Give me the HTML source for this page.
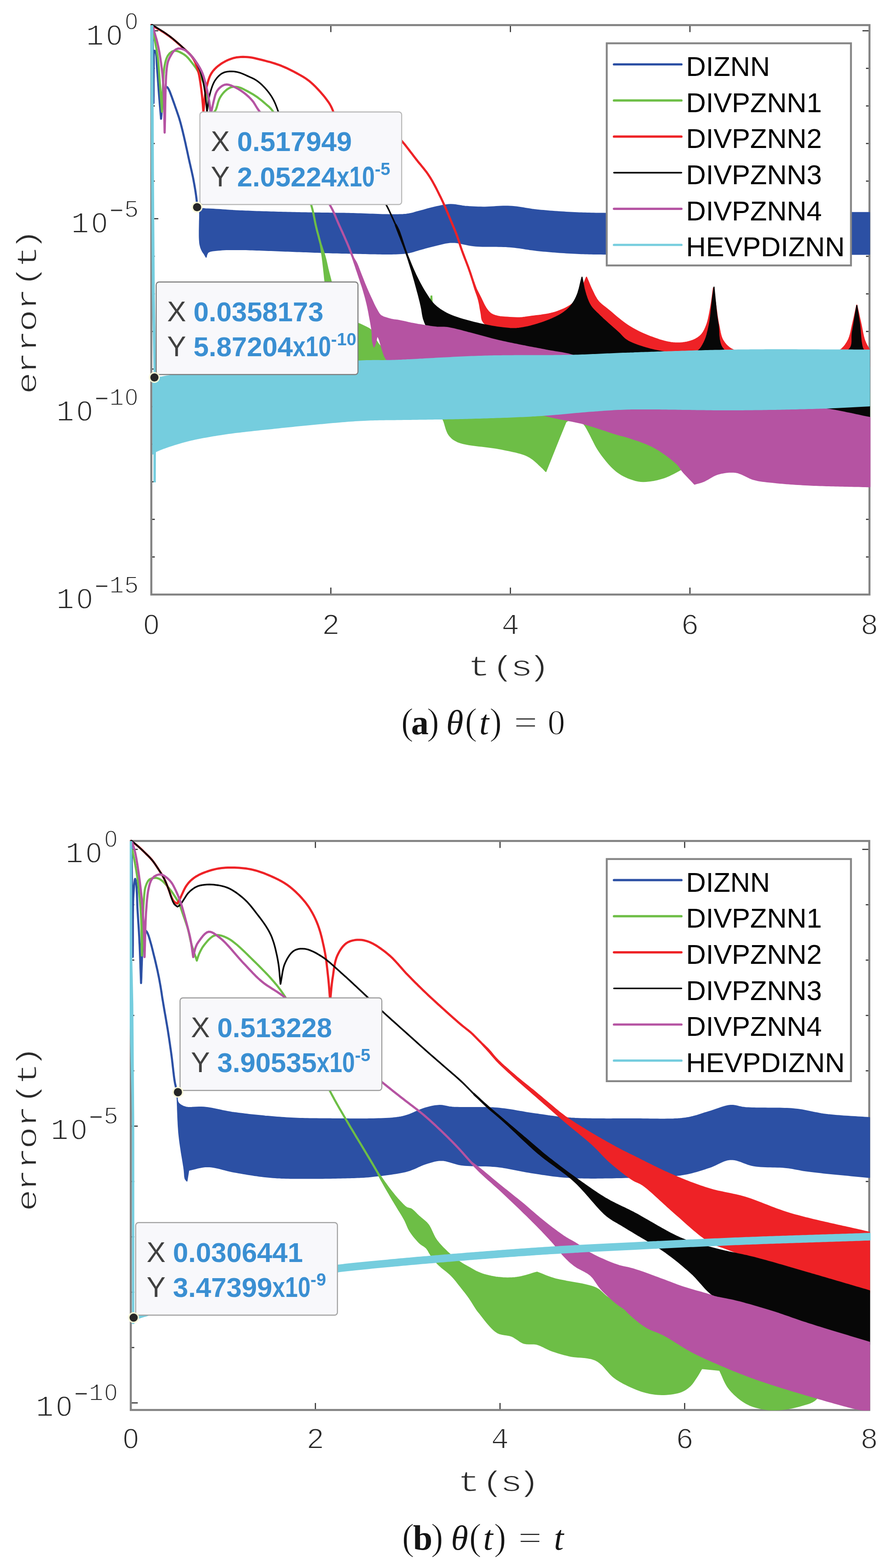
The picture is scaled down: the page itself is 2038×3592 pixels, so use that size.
<!DOCTYPE html>
<html><head><meta charset="utf-8"><title>error(t) plots</title>
<style>html,body{margin:0;padding:0;background:#fff;}svg{display:block;}</style></head>
<body>
<svg xmlns="http://www.w3.org/2000/svg" width="2038" height="3592" viewBox="0 0 2038 3592">
<rect width="2038" height="3592" fill="#ffffff"/>
<line x1="346.5" y1="70.5" x2="362.5" y2="70.5" stroke="#333333" stroke-width="2.6"/>
<line x1="1991.0" y1="70.5" x2="1975.0" y2="70.5" stroke="#333333" stroke-width="2.6"/>
<line x1="346.5" y1="501.0" x2="362.5" y2="501.0" stroke="#333333" stroke-width="2.6"/>
<line x1="1991.0" y1="501.0" x2="1975.0" y2="501.0" stroke="#333333" stroke-width="2.6"/>
<line x1="346.5" y1="931.5" x2="362.5" y2="931.5" stroke="#333333" stroke-width="2.6"/>
<line x1="1991.0" y1="931.5" x2="1975.0" y2="931.5" stroke="#333333" stroke-width="2.6"/>
<line x1="346.5" y1="1362.0" x2="362.5" y2="1362.0" stroke="#333333" stroke-width="2.6"/>
<line x1="1991.0" y1="1362.0" x2="1975.0" y2="1362.0" stroke="#333333" stroke-width="2.6"/>
<line x1="346.5" y1="156.6" x2="354.5" y2="156.6" stroke="#333333" stroke-width="2.6"/>
<line x1="1991.0" y1="156.6" x2="1983.0" y2="156.6" stroke="#333333" stroke-width="2.6"/>
<line x1="346.5" y1="242.7" x2="354.5" y2="242.7" stroke="#333333" stroke-width="2.6"/>
<line x1="1991.0" y1="242.7" x2="1983.0" y2="242.7" stroke="#333333" stroke-width="2.6"/>
<line x1="346.5" y1="328.8" x2="354.5" y2="328.8" stroke="#333333" stroke-width="2.6"/>
<line x1="1991.0" y1="328.8" x2="1983.0" y2="328.8" stroke="#333333" stroke-width="2.6"/>
<line x1="346.5" y1="414.9" x2="354.5" y2="414.9" stroke="#333333" stroke-width="2.6"/>
<line x1="1991.0" y1="414.9" x2="1983.0" y2="414.9" stroke="#333333" stroke-width="2.6"/>
<line x1="346.5" y1="587.1" x2="354.5" y2="587.1" stroke="#333333" stroke-width="2.6"/>
<line x1="1991.0" y1="587.1" x2="1983.0" y2="587.1" stroke="#333333" stroke-width="2.6"/>
<line x1="346.5" y1="673.2" x2="354.5" y2="673.2" stroke="#333333" stroke-width="2.6"/>
<line x1="1991.0" y1="673.2" x2="1983.0" y2="673.2" stroke="#333333" stroke-width="2.6"/>
<line x1="346.5" y1="759.3" x2="354.5" y2="759.3" stroke="#333333" stroke-width="2.6"/>
<line x1="1991.0" y1="759.3" x2="1983.0" y2="759.3" stroke="#333333" stroke-width="2.6"/>
<line x1="346.5" y1="845.4" x2="354.5" y2="845.4" stroke="#333333" stroke-width="2.6"/>
<line x1="1991.0" y1="845.4" x2="1983.0" y2="845.4" stroke="#333333" stroke-width="2.6"/>
<line x1="346.5" y1="1017.6" x2="354.5" y2="1017.6" stroke="#333333" stroke-width="2.6"/>
<line x1="1991.0" y1="1017.6" x2="1983.0" y2="1017.6" stroke="#333333" stroke-width="2.6"/>
<line x1="346.5" y1="1103.7" x2="354.5" y2="1103.7" stroke="#333333" stroke-width="2.6"/>
<line x1="1991.0" y1="1103.7" x2="1983.0" y2="1103.7" stroke="#333333" stroke-width="2.6"/>
<line x1="346.5" y1="1189.8" x2="354.5" y2="1189.8" stroke="#333333" stroke-width="2.6"/>
<line x1="1991.0" y1="1189.8" x2="1983.0" y2="1189.8" stroke="#333333" stroke-width="2.6"/>
<line x1="346.5" y1="1275.9" x2="354.5" y2="1275.9" stroke="#333333" stroke-width="2.6"/>
<line x1="1991.0" y1="1275.9" x2="1983.0" y2="1275.9" stroke="#333333" stroke-width="2.6"/>
<line x1="757.6" y1="1362.0" x2="757.6" y2="1346.0" stroke="#333333" stroke-width="2.6"/>
<line x1="757.6" y1="57.5" x2="757.6" y2="73.5" stroke="#333333" stroke-width="2.6"/>
<line x1="1168.8" y1="1362.0" x2="1168.8" y2="1346.0" stroke="#333333" stroke-width="2.6"/>
<line x1="1168.8" y1="57.5" x2="1168.8" y2="73.5" stroke="#333333" stroke-width="2.6"/>
<line x1="1579.9" y1="1362.0" x2="1579.9" y2="1346.0" stroke="#333333" stroke-width="2.6"/>
<line x1="1579.9" y1="57.5" x2="1579.9" y2="73.5" stroke="#333333" stroke-width="2.6"/>
<rect x="346.5" y="57.5" width="1644.5" height="1304.5" fill="none" stroke="#828282" stroke-width="4.6"/>
<clipPath id="ca"><rect x="343.0" y="54.5" width="1651.0" height="1310.5"/></clipPath>
<g id="plot-a" clip-path="url(#ca)">
<polyline points="349.0,58.0 349.1,63.1 349.2,68.2 349.3,73.4 349.3,78.5 349.4,83.6 349.5,88.8 349.6,93.9 349.7,99.1 349.8,104.2 349.9,109.3 350.0,114.4 350.0,119.6 350.1,124.7 350.2,129.8 350.3,134.8 350.4,139.9 350.4,145.0 350.5,150.0 350.6,155.1 350.6,160.3 350.7,165.3 350.8,170.4 350.8,175.5 350.9,180.6 350.9,185.6 351.0,190.7 351.1,195.7 351.1,200.7 351.2,205.8 351.2,210.8 351.3,215.8 351.3,220.9 351.4,225.9 351.4,230.9 351.5,236.0 351.5,230.9 351.5,225.6 351.6,220.3 351.6,214.9 351.6,209.5 351.6,204.1 351.6,198.6 351.6,193.2 351.6,187.9 351.6,182.6 351.7,177.4 351.7,172.4 351.7,167.5 351.8,162.8 351.8,158.3 351.9,154.0 352.0,150.0 352.1,142.8 352.0,135.3 352.0,128.3 352.1,122.4 352.5,118.1 353.4,116.2 354.7,116.5 356.0,118.0 356.9,120.5 357.6,124.5 358.2,129.4 358.6,135.2 358.9,141.4 359.2,147.8 359.6,154.1 360.0,160.0 360.4,164.7 360.8,169.5 361.1,174.4 361.5,179.4 361.8,184.4 362.2,189.5 362.5,194.6 362.9,199.7 363.2,204.8 363.6,209.9 364.0,215.0 364.4,220.1 364.8,225.3 365.3,230.5 365.7,235.7 366.1,240.8 366.6,246.0 367.0,251.2 367.5,256.4 367.9,261.6 368.4,266.8 368.8,272.0 369.3,266.7 369.8,261.3 370.3,255.9 370.9,250.6 371.4,245.3 372.0,240.0 372.6,234.8 373.1,229.4 373.6,224.0 374.3,218.8 375.0,214.1 376.0,210.0 378.4,202.7 381.2,198.7 383.6,200.4 386.0,204.0 388.8,209.9 391.5,217.2 393.1,221.3 394.7,225.9 396.5,230.8 398.3,235.9 400.1,241.0 401.8,246.0 403.6,251.0 405.3,256.1 407.0,261.1 408.8,266.3 410.5,271.5 412.1,277.0 413.5,281.8 414.8,286.8 416.1,291.9 417.4,297.1 418.7,302.4 419.9,307.7 421.2,312.9 422.4,318.2 423.6,323.6 424.9,329.0 426.0,334.4 427.2,339.8 428.4,345.3 429.6,350.8 430.8,356.4 432.0,362.0 433.1,366.9 434.2,371.9 435.4,377.0 436.5,382.1 437.7,387.3 438.9,392.4 440.0,397.5 441.1,402.5 442.1,407.3 443.0,412.0 444.0,417.5 445.0,422.9 445.9,428.1 446.8,433.3 447.6,438.3 448.3,443.2 449.0,448.0 449.7,453.5 450.3,458.7 450.9,463.8 451.4,468.9 452.0,474.0" fill="none" stroke="#2c50a4" stroke-width="4.8" stroke-linejoin="round" stroke-linecap="round"/>
<polygon points="452.0,474.0 454.3,475.5 457.4,476.8 460.7,477.5 465.1,478.0 470.3,478.5 476.0,478.8 482.1,479.1 488.3,479.4 494.3,479.7 500.0,480.0 504.9,480.4 509.7,480.7 514.4,481.0 519.1,481.4 523.9,481.7 528.9,482.0 534.2,482.4 539.9,482.7 546.0,483.0 550.0,483.2 554.2,483.4 558.6,483.6 563.1,483.8 567.9,483.9 572.7,484.1 577.7,484.3 582.8,484.5 588.0,484.7 593.3,484.8 598.7,485.0 604.1,485.2 609.6,485.4 615.1,485.5 620.7,485.7 626.2,485.9 631.8,486.0 637.4,486.2 642.9,486.3 648.4,486.5 653.8,486.6 659.2,486.7 664.5,486.9 669.7,487.0 674.8,487.1 680.0,487.2 685.1,487.3 690.2,487.5 695.3,487.5 700.5,487.6 705.6,487.7 710.7,487.8 715.8,487.9 720.9,488.0 726.0,488.1 731.1,488.1 736.2,488.2 741.4,488.3 746.5,488.3 751.6,488.4 756.8,488.5 762.0,488.6 767.1,488.6 772.3,488.7 777.6,488.8 782.8,488.8 788.0,488.9 793.3,489.0 798.3,489.1 803.5,489.2 808.7,489.4 814.1,489.5 819.6,489.7 825.1,489.9 830.7,490.1 836.4,490.3 842.0,490.5 847.7,490.7 853.4,490.9 859.1,491.1 864.7,491.3 870.2,491.5 875.7,491.7 881.1,491.8 886.4,491.9 891.6,492.0 896.6,492.1 901.5,492.1 906.2,492.1 910.7,492.0 915.0,491.9 919.1,491.8 923.0,491.6 926.6,491.3 930.0,491.0 936.3,490.1 941.6,489.1 946.3,487.9 950.7,486.6 955.1,485.3 960.0,484.0 964.8,482.7 969.7,481.4 974.7,480.0 979.7,478.5 984.7,477.2 989.7,475.9 994.8,474.7 1000.0,473.6 1005.3,472.4 1010.7,471.3 1016.1,470.3 1021.4,469.5 1026.7,468.9 1031.9,468.6 1037.4,468.8 1042.9,469.3 1048.2,470.2 1053.6,471.1 1059.1,472.0 1064.8,472.7 1069.7,473.1 1074.6,473.5 1079.5,473.8 1084.6,474.1 1089.7,474.3 1095.0,474.5 1100.4,474.6 1106.0,474.7 1110.7,474.7 1115.6,474.5 1120.6,474.3 1125.7,474.0 1130.9,473.7 1136.2,473.4 1141.5,473.1 1146.8,472.8 1152.2,472.6 1157.5,472.5 1162.7,472.5 1167.9,472.7 1173.0,473.0 1178.1,473.5 1183.2,474.1 1188.2,474.8 1193.2,475.6 1198.3,476.4 1203.3,477.2 1208.4,478.1 1213.6,478.9 1218.9,479.7 1224.2,480.4 1229.7,481.0 1234.5,481.5 1239.4,482.0 1244.4,482.4 1249.5,482.9 1254.6,483.3 1259.8,483.7 1265.0,484.1 1270.2,484.5 1275.5,484.9 1280.8,485.2 1286.0,485.5 1291.3,485.9 1296.5,486.2 1301.7,486.5 1306.9,486.7 1312.0,487.0 1317.1,487.2 1322.0,487.5 1326.7,487.7 1331.2,487.8 1335.6,488.0 1340.1,488.1 1344.6,488.3 1349.2,488.4 1354.0,488.5 1359.1,488.6 1364.4,488.7 1370.2,488.8 1376.4,488.8 1383.1,488.9 1390.4,489.0 1393.2,489.0 1396.1,489.1 1399.2,489.1 1402.4,489.1 1405.7,489.1 1409.2,489.1 1412.7,489.2 1416.4,489.2 1420.2,489.2 1424.1,489.2 1428.1,489.2 1432.2,489.2 1436.4,489.2 1440.7,489.2 1445.1,489.2 1449.6,489.2 1454.2,489.2 1458.9,489.2 1463.7,489.2 1468.6,489.2 1473.5,489.2 1478.5,489.2 1483.7,489.2 1488.8,489.2 1494.1,489.2 1499.4,489.2 1504.8,489.2 1510.3,489.2 1515.8,489.2 1521.4,489.1 1527.1,489.1 1532.8,489.1 1538.5,489.1 1544.3,489.1 1550.2,489.1 1556.1,489.0 1562.1,489.0 1568.1,489.0 1574.1,489.0 1580.1,488.9 1586.2,488.9 1592.4,488.9 1598.5,488.9 1604.7,488.8 1610.9,488.8 1617.2,488.8 1623.4,488.7 1629.7,488.7 1635.9,488.7 1642.2,488.7 1648.5,488.6 1654.8,488.6 1661.1,488.6 1667.5,488.5 1673.8,488.5 1680.1,488.5 1686.4,488.4 1692.7,488.4 1698.9,488.4 1705.2,488.3 1711.4,488.3 1717.7,488.2 1723.9,488.2 1730.1,488.2 1736.2,488.1 1742.4,488.1 1748.5,488.1 1754.5,488.0 1760.5,488.0 1766.5,488.0 1772.5,487.9 1778.4,487.9 1784.2,487.9 1790.1,487.8 1795.8,487.8 1801.5,487.8 1807.2,487.7 1812.8,487.7 1818.3,487.7 1823.8,487.6 1829.2,487.6 1834.5,487.6 1839.7,487.5 1844.9,487.5 1850.0,487.5 1855.1,487.4 1860.0,487.4 1864.9,487.4 1869.7,487.4 1874.4,487.3 1879.0,487.3 1883.5,487.3 1887.9,487.3 1892.2,487.2 1896.4,487.2 1900.5,487.2 1904.5,487.2 1908.4,487.2 1912.2,487.1 1915.9,487.1 1919.4,487.1 1922.8,487.1 1926.2,487.1 1929.3,487.1 1932.4,487.0 1935.3,487.0 1938.1,487.0 1940.8,487.0 1943.3,487.0 1945.7,487.0 1948.0,487.0 1955.7,487.0 1962.2,487.0 1967.7,487.0 1972.5,487.0 1977.0,487.0 1981.4,487.0 1986.0,487.0 1991.0,487.0 1991.0,582.5 1986.0,582.5 1981.4,582.5 1977.0,582.5 1972.5,582.5 1967.7,582.5 1962.2,582.5 1955.7,582.5 1948.0,582.5 1945.7,582.5 1943.3,582.5 1940.8,582.5 1938.1,582.5 1935.3,582.5 1932.4,582.5 1929.3,582.5 1926.1,582.5 1922.8,582.5 1919.4,582.5 1915.8,582.5 1912.2,582.5 1908.4,582.5 1904.5,582.5 1900.5,582.5 1896.4,582.5 1892.1,582.5 1887.8,582.5 1883.4,582.5 1878.9,582.6 1874.3,582.6 1869.6,582.6 1864.8,582.6 1859.9,582.6 1855.0,582.6 1849.9,582.6 1844.8,582.6 1839.6,582.6 1834.4,582.6 1829.0,582.6 1823.6,582.6 1818.2,582.6 1812.6,582.6 1807.0,582.6 1801.4,582.6 1795.7,582.6 1789.9,582.7 1784.1,582.7 1778.2,582.7 1772.3,582.7 1766.4,582.7 1760.4,582.7 1754.3,582.7 1748.3,582.7 1742.2,582.7 1736.0,582.7 1729.9,582.7 1723.7,582.7 1717.4,582.7 1711.2,582.7 1705.0,582.7 1698.7,582.7 1692.4,582.7 1686.1,582.7 1679.8,582.7 1673.5,582.7 1667.2,582.7 1660.9,582.7 1654.6,582.7 1648.2,582.7 1641.9,582.7 1635.6,582.7 1629.4,582.7 1623.1,582.7 1616.8,582.7 1610.6,582.7 1604.4,582.7 1598.2,582.7 1592.0,582.7 1585.9,582.7 1579.8,582.7 1573.7,582.7 1567.7,582.7 1561.7,582.7 1555.7,582.7 1549.8,582.7 1544.0,582.7 1538.2,582.7 1532.4,582.7 1526.7,582.7 1521.0,582.7 1515.4,582.7 1509.9,582.6 1504.4,582.6 1499.0,582.6 1493.7,582.6 1488.4,582.6 1483.2,582.6 1478.1,582.6 1473.1,582.5 1468.1,582.5 1463.3,582.5 1458.5,582.5 1453.8,582.5 1449.2,582.5 1444.7,582.4 1440.3,582.4 1436.0,582.4 1431.7,582.4 1427.6,582.3 1423.6,582.3 1419.7,582.3 1416.0,582.3 1412.3,582.2 1408.7,582.2 1405.3,582.2 1402.0,582.1 1398.8,582.1 1395.7,582.1 1392.8,582.0 1390.0,582.0 1382.7,581.9 1376.1,581.8 1369.9,581.7 1364.2,581.6 1358.8,581.6 1353.8,581.5 1349.0,581.4 1344.4,581.3 1339.9,581.1 1335.5,581.0 1331.1,580.9 1326.6,580.7 1322.0,580.5 1317.1,580.3 1312.0,580.0 1306.9,579.7 1301.7,579.4 1296.5,579.1 1291.3,578.8 1286.0,578.4 1280.8,578.1 1275.5,577.7 1270.2,577.3 1265.0,576.9 1259.8,576.4 1254.6,576.0 1249.5,575.5 1244.4,575.1 1239.4,574.6 1234.5,574.1 1229.7,573.6 1224.3,573.0 1219.0,572.3 1213.8,571.6 1208.8,570.8 1203.8,570.1 1198.8,569.3 1193.9,568.5 1188.9,567.8 1183.8,567.1 1178.6,566.5 1173.3,565.9 1167.9,565.4 1163.0,565.1 1158.0,564.8 1152.8,564.6 1147.5,564.5 1142.2,564.4 1136.8,564.3 1131.3,564.3 1125.8,564.3 1120.4,564.3 1115.0,564.2 1109.7,564.2 1104.5,564.1 1099.4,563.9 1094.4,563.7 1089.6,563.4 1085.0,563.0 1079.0,562.3 1073.1,561.3 1067.5,560.1 1062.1,558.9 1056.8,557.7 1051.6,556.6 1046.4,555.7 1041.2,555.2 1036.0,555.0 1030.6,555.3 1025.2,555.9 1019.8,556.8 1014.5,557.9 1009.3,559.2 1004.1,560.5 999.0,561.8 994.0,563.0 988.9,564.2 983.9,565.5 979.0,566.8 974.2,568.1 969.4,569.4 964.7,570.7 960.0,572.0 955.2,573.4 950.7,574.8 946.3,576.3 941.6,577.6 936.3,578.8 930.0,579.8 926.6,580.2 923.0,580.5 919.2,580.8 915.1,581.0 910.7,581.2 906.2,581.4 901.5,581.5 896.6,581.6 891.6,581.6 886.4,581.6 881.1,581.6 875.7,581.6 870.2,581.5 864.7,581.4 859.1,581.3 853.4,581.2 847.7,581.1 842.1,580.9 836.4,580.8 830.7,580.7 825.1,580.5 819.6,580.4 814.1,580.2 808.7,580.1 803.5,580.0 798.3,579.9 793.3,579.8 788.0,579.7 782.8,579.6 777.6,579.5 772.3,579.3 767.1,579.2 762.0,579.1 756.8,578.9 751.6,578.7 746.5,578.6 741.4,578.4 736.2,578.2 731.1,578.0 726.0,577.8 720.9,577.6 715.8,577.4 710.7,577.2 705.6,577.0 700.5,576.8 695.3,576.6 690.2,576.4 685.1,576.2 680.0,576.1 674.8,575.9 669.7,575.7 664.5,575.5 659.2,575.3 653.8,575.1 648.4,574.9 642.9,574.7 637.4,574.5 631.8,574.3 626.2,574.0 620.7,573.8 615.1,573.6 609.6,573.4 604.1,573.2 598.7,572.9 593.3,572.7 588.0,572.6 582.8,572.4 577.7,572.2 572.7,572.1 567.9,571.9 563.1,571.8 558.6,571.7 554.2,571.7 550.0,571.6 546.0,571.6 539.8,571.6 534.0,571.6 528.5,571.6 523.2,571.7 518.2,571.8 513.4,572.0 508.8,572.2 504.3,572.6 500.0,573.0 492.9,573.7 486.1,574.5 480.3,575.8 476.0,578.0 473.4,583.1 472.0,589.0 470.0,585.5 468.0,582.0 465.8,579.0 463.6,575.7 461.5,571.5 459.6,566.5 458.0,560.0 457.5,556.7 457.2,553.0 456.9,548.9 456.7,544.4 456.6,539.6 456.6,534.6 456.6,529.3 456.7,523.9 456.8,518.4 456.9,512.8 457.0,507.1 457.2,501.5 457.3,495.9 457.4,490.4 457.4,485.1 457.4,480.0" fill="#2c50a4" stroke="#2c50a4" stroke-width="2.6" stroke-linejoin="round"/>
<polyline points="350.0,72.0 351.2,77.5 352.4,83.0 353.7,88.5 354.8,94.1 356.0,100.0 356.9,105.1 357.9,110.2 358.8,115.5 359.6,121.0 360.5,126.5 361.3,132.2 362.0,138.0 362.5,142.8 363.0,147.8 363.4,152.8 363.8,157.9 364.2,163.1 364.5,168.4 364.9,173.7 365.2,179.1 365.6,184.5 366.0,190.0 366.4,194.8 366.7,199.7 367.1,204.7 367.5,209.7 367.9,214.8 368.2,219.9 368.6,225.1 369.0,230.3 369.4,235.4 369.8,240.6 370.1,245.8 370.5,250.9 370.9,256.0 371.1,250.9 371.3,245.8 371.4,240.6 371.6,235.5 371.7,230.4 371.9,225.2 372.1,220.1 372.3,215.0 372.5,210.0 372.7,205.0 373.0,200.0 373.3,194.8 373.6,189.5 373.8,184.1 374.1,178.8 374.4,173.5 374.8,168.4 375.2,163.4 375.7,158.6 376.3,154.1 377.0,150.0 378.4,143.6 379.9,137.7 381.8,132.5 384.0,128.0 388.2,122.4 393.0,118.5 397.3,116.7 401.8,116.2 406.8,117.3 412.0,119.5 416.8,122.0 421.8,125.0 426.5,128.6 430.9,133.0 435.0,138.0 439.0,143.0 442.9,147.9 446.6,153.0 450.0,158.0 452.8,162.5 455.4,167.1 458.0,172.0 460.5,177.1 463.1,182.6 465.5,188.4 467.8,194.5 469.4,199.3 470.8,204.3 472.2,209.5 473.5,214.8 474.8,220.1 476.0,225.5 477.1,230.5 478.1,235.7 479.1,240.9 480.1,246.2 481.1,251.5 482.0,256.8 483.0,262.0 487.9,258.7 492.5,254.3 494.5,250.6 496.2,245.9 497.7,240.6 499.2,235.1 500.9,230.0 502.8,225.5 505.5,220.8 508.5,216.4 511.7,212.5 515.1,209.0 519.6,205.1 524.5,201.9 529.6,199.7 534.9,198.8 540.4,198.8 546.0,199.7 551.1,201.3 556.3,203.6 561.5,206.3 566.7,209.0 571.9,211.8 577.1,214.8 582.2,217.9 587.3,221.3 591.5,224.3 595.8,227.6 599.9,230.9 604.0,234.4 607.9,237.8 612.1,241.4 616.1,244.7 620.1,248.7 624.4,254.3 626.1,256.9 627.9,259.8 629.7,263.0 631.6,266.6 633.6,270.4 635.6,274.4 637.7,278.7 639.8,283.2 642.0,287.9 644.1,292.8 646.3,297.8 648.6,302.9 650.8,308.1 653.0,313.4 655.3,318.8 657.5,324.2 659.8,329.6 662.0,335.0 664.1,340.4 666.3,345.7 668.4,351.0 670.5,356.2 672.5,361.3 674.5,366.2 676.4,371.0 678.2,375.6 680.0,380.0 682.1,385.1 684.1,390.2 686.1,395.3 688.1,400.4 690.1,405.5 692.0,410.5 694.0,415.5 695.8,420.4 697.7,425.3 699.5,430.2 701.2,435.0 702.9,439.7 704.5,444.4 706.1,449.0 707.6,453.5 709.1,457.9 710.5,462.2 711.8,466.5 713.0,470.6 714.5,476.1 715.9,481.4 717.1,486.6 718.1,491.5 719.1,496.4 720.1,501.2 721.0,505.9 721.9,510.6 722.9,515.3 724.0,520.0 725.3,525.4 726.7,530.8 728.1,536.0 729.5,541.2 730.8,546.4 732.2,551.6 733.6,556.8 735.0,562.0" fill="none" stroke="#6dbe46" stroke-width="4.8" stroke-linejoin="round" stroke-linecap="round"/>
<polygon points="736.3,562.0 738.1,567.6 739.9,573.1 741.7,578.7 743.4,584.3 745.0,590.0 746.3,594.9 747.5,600.0 748.6,605.1 749.7,610.1 750.8,615.1 752.0,620.0 753.4,625.5 754.8,630.9 756.2,636.3 757.5,641.3 758.7,646.0 760.4,653.3 762.0,660.0 746.0,660.0 745.2,653.3 744.3,646.0 743.8,641.3 743.2,636.3 742.7,630.9 742.1,625.4 741.5,620.0 741.0,615.1 740.4,610.1 739.8,605.1 739.3,600.0 738.6,595.0 738.0,590.0 737.2,584.3 736.3,578.7 735.5,573.2 734.6,567.6 733.7,562.0" fill="#6dbe46" stroke="#6dbe46" stroke-width="2.6" stroke-linejoin="round"/>
<polygon points="760.0,660.0 763.0,664.0 766.1,668.0 769.2,672.0 772.3,676.0 775.4,680.0 778.5,684.0 781.5,688.0 784.4,692.0 787.3,696.0 790.0,700.0 793.1,705.0 796.0,710.5 798.9,716.1 801.6,721.7 804.3,726.9 806.9,731.5 809.5,735.3 812.0,738.0 816.2,739.9 820.5,740.9 824.8,742.7 829.5,744.9 834.2,747.2 839.4,749.6 844.5,752.3 848.9,755.6 851.5,759.8 853.4,764.7 856.0,770.0 858.3,774.0 860.8,778.5 863.5,783.2 866.7,788.0 870.4,792.6 874.8,796.7 880.0,800.0 883.1,801.4 886.4,802.5 889.9,803.5 893.6,804.3 897.6,804.9 901.8,805.4 906.1,805.7 910.7,805.9 915.4,806.0 920.3,806.0 925.3,805.9 930.4,805.8 935.7,805.6 941.2,805.4 946.7,805.2 952.3,805.0 958.1,804.8 963.9,804.6 969.8,804.5 975.7,804.4 981.7,804.4 987.8,804.5 993.9,804.7 1000.0,805.0 1003.9,805.2 1007.8,805.5 1011.8,805.8 1015.8,806.0 1019.9,806.3 1024.0,806.6 1028.1,806.9 1032.3,807.2 1036.5,807.5 1040.8,807.8 1045.1,808.1 1049.4,808.4 1053.8,808.7 1058.2,809.0 1062.6,809.4 1067.1,809.7 1071.6,810.1 1076.2,810.4 1080.8,810.8 1085.5,811.2 1090.1,811.5 1094.8,811.9 1099.6,812.3 1104.4,812.7 1109.2,813.1 1114.1,813.5 1119.0,813.9 1123.9,814.3 1128.9,814.7 1133.9,815.1 1138.9,815.6 1144.0,816.0 1149.1,816.4 1154.3,816.9 1159.5,817.3 1164.7,817.8 1169.9,818.2 1175.2,818.7 1180.5,819.2 1185.9,819.7 1191.3,820.1 1196.7,820.6 1202.2,821.1 1207.7,821.6 1213.2,822.1 1218.8,822.6 1224.3,823.1 1230.0,823.6 1235.6,824.1 1241.3,824.6 1247.0,825.1 1252.8,825.7 1258.6,826.2 1264.4,826.7 1270.3,827.3 1276.1,827.8 1282.1,828.3 1288.0,828.9 1294.0,829.4 1300.0,830.0 1304.0,830.4 1308.0,830.7 1312.1,831.1 1316.2,831.5 1320.3,831.9 1324.4,832.3 1328.6,832.7 1332.8,833.1 1337.0,833.5 1341.2,833.9 1345.5,834.3 1349.8,834.7 1354.1,835.1 1358.5,835.5 1362.9,835.9 1367.3,836.4 1371.7,836.8 1376.1,837.2 1380.6,837.7 1385.1,838.1 1389.6,838.5 1394.2,839.0 1398.7,839.4 1403.3,839.9 1407.9,840.3 1412.6,840.8 1417.2,841.3 1421.9,841.7 1426.6,842.2 1431.3,842.6 1436.1,843.1 1440.8,843.6 1445.6,844.1 1450.4,844.5 1455.2,845.0 1460.0,845.5 1464.9,846.0 1469.8,846.5 1474.6,847.0 1479.5,847.5 1484.5,848.0 1489.4,848.5 1494.4,849.0 1499.3,849.5 1504.3,850.0 1509.3,850.5 1514.3,851.0 1519.4,851.5 1524.4,852.0 1529.5,852.5 1534.5,853.0 1539.6,853.6 1544.7,854.1 1549.8,854.6 1554.9,855.1 1560.1,855.6 1565.2,856.2 1570.4,856.7 1575.5,857.2 1580.7,857.8 1585.9,858.3 1591.1,858.8 1596.3,859.4 1601.5,859.9 1606.8,860.4 1612.0,861.0 1617.2,861.5 1622.5,862.0 1627.8,862.6 1633.0,863.1 1638.3,863.7 1643.6,864.2 1648.9,864.8 1654.2,865.3 1659.5,865.9 1664.8,866.4 1670.1,867.0 1675.4,867.5 1680.7,868.1 1686.0,868.6 1691.4,869.2 1696.7,869.7 1702.0,870.3 1707.4,870.8 1712.7,871.4 1718.1,871.9 1723.4,872.5 1728.8,873.0 1734.1,873.6 1739.5,874.1 1744.8,874.7 1750.2,875.2 1755.5,875.8 1760.9,876.3 1766.2,876.9 1771.6,877.5 1776.9,878.0 1782.2,878.6 1787.6,879.1 1792.9,879.7 1798.3,880.2 1803.6,880.8 1808.9,881.3 1814.3,881.9 1819.6,882.4 1824.9,883.0 1830.2,883.5 1835.5,884.1 1840.8,884.6 1846.1,885.2 1851.4,885.7 1856.7,886.3 1862.0,886.8 1867.3,887.3 1872.5,887.9 1877.8,888.4 1883.1,889.0 1888.3,889.5 1893.5,890.0 1898.8,890.6 1904.0,891.1 1909.2,891.7 1914.4,892.2 1919.6,892.7 1924.8,893.3 1929.9,893.8 1935.1,894.3 1940.2,894.8 1945.4,895.4 1950.5,895.9 1955.6,896.4 1960.7,896.9 1965.8,897.4 1970.9,898.0 1975.9,898.5 1981.0,899.0 1986.0,899.5 1991.0,900.0 1991.0,1000.0 1986.0,1000.6 1980.8,1001.3 1975.7,1001.9 1970.4,1002.5 1965.1,1003.1 1959.8,1003.8 1954.4,1004.4 1948.9,1005.0 1943.4,1005.6 1937.9,1006.2 1932.3,1006.8 1926.7,1007.4 1921.0,1008.0 1915.3,1008.6 1909.6,1009.2 1903.9,1009.7 1898.1,1010.3 1892.3,1010.9 1886.4,1011.5 1880.6,1012.1 1874.7,1012.6 1868.9,1013.2 1863.0,1013.8 1857.1,1014.4 1851.2,1014.9 1845.3,1015.5 1839.4,1016.1 1833.5,1016.7 1827.6,1017.2 1821.7,1017.8 1815.9,1018.4 1810.0,1019.0 1804.2,1019.5 1798.3,1020.1 1792.5,1020.7 1786.7,1021.3 1781.0,1021.9 1775.3,1022.5 1769.6,1023.1 1763.9,1023.6 1758.3,1024.2 1752.7,1024.8 1747.2,1025.4 1741.7,1026.0 1736.2,1026.7 1730.8,1027.3 1725.5,1027.9 1720.2,1028.5 1714.9,1029.1 1709.8,1029.8 1704.7,1030.4 1699.6,1031.0 1694.6,1031.7 1689.7,1032.3 1684.9,1033.0 1680.1,1033.6 1675.4,1034.3 1670.9,1035.0 1666.3,1035.7 1661.9,1036.3 1657.6,1037.0 1653.3,1037.7 1649.2,1038.4 1645.1,1039.1 1641.2,1039.9 1637.3,1040.6 1633.6,1041.3 1629.9,1042.1 1626.4,1042.8 1623.0,1043.6 1619.7,1044.4 1616.5,1045.1 1613.4,1045.9 1610.5,1046.7 1607.7,1047.5 1605.0,1048.3 1602.4,1049.2 1600.0,1050.0 1593.7,1052.5 1588.3,1055.2 1583.8,1057.9 1579.8,1060.6 1576.2,1063.4 1572.8,1066.1 1569.4,1068.8 1565.7,1071.5 1561.6,1074.0 1557.1,1076.5 1552.6,1079.0 1548.0,1081.6 1543.4,1084.0 1538.8,1086.4 1534.1,1088.7 1529.4,1090.8 1524.7,1092.8 1520.0,1094.5 1514.9,1096.1 1509.6,1097.6 1504.2,1098.9 1498.9,1100.1 1493.6,1101.0 1488.5,1101.8 1483.6,1102.3 1479.0,1102.7 1472.9,1102.9 1467.4,1102.7 1462.0,1102.0 1456.0,1100.7 1451.9,1099.5 1447.5,1098.1 1442.9,1096.5 1438.2,1094.7 1433.4,1092.6 1428.7,1090.3 1424.0,1087.8 1419.4,1085.0 1415.0,1082.0 1411.3,1079.2 1407.7,1076.1 1404.1,1072.8 1400.5,1069.3 1397.0,1065.6 1393.6,1061.8 1390.2,1057.8 1386.9,1053.8 1383.6,1049.6 1380.3,1045.4 1377.1,1041.1 1374.0,1036.8 1371.3,1032.8 1368.6,1028.5 1365.9,1024.0 1363.3,1019.3 1360.8,1014.4 1358.3,1009.5 1355.8,1004.6 1353.4,999.7 1351.0,994.9 1348.6,990.3 1346.2,985.8 1343.9,981.6 1341.5,977.6 1339.2,974.1 1336.8,970.9 1332.5,966.1 1328.4,962.2 1324.3,958.8 1320.1,955.5 1316.0,952.0 1295.6,966.7 1293.7,971.5 1291.7,976.2 1289.8,980.9 1287.9,985.7 1285.9,990.4 1284.0,995.2 1282.0,1000.1 1280.0,1005.0 1278.0,1009.9 1276.0,1014.9 1274.0,1020.1 1271.9,1025.2 1269.8,1030.4 1267.8,1035.5 1265.8,1040.5 1263.8,1045.4 1262.0,1050.0 1259.9,1055.4 1257.8,1060.4 1255.8,1065.4 1253.9,1070.2 1252.0,1075.1 1250.0,1080.0 1246.2,1076.1 1242.5,1072.2 1238.0,1068.0 1234.7,1065.0 1231.2,1061.6 1227.3,1058.1 1223.2,1054.6 1218.8,1051.1 1214.1,1047.9 1209.0,1045.0 1204.8,1043.1 1200.4,1041.3 1195.8,1039.7 1190.9,1038.3 1185.9,1036.9 1180.6,1035.6 1175.3,1034.4 1169.8,1033.3 1164.2,1032.1 1158.5,1031.0 1152.8,1029.8 1147.0,1028.6 1142.3,1027.7 1137.2,1026.8 1131.9,1026.0 1126.4,1025.2 1120.8,1024.4 1115.0,1023.7 1109.1,1023.0 1103.2,1022.3 1097.3,1021.6 1091.4,1020.9 1085.7,1020.2 1080.1,1019.4 1074.6,1018.6 1069.4,1017.7 1064.5,1016.7 1059.9,1015.7 1055.6,1014.6 1051.8,1013.3 1048.4,1012.0 1042.8,1009.2 1038.2,1006.4 1034.3,1003.2 1030.9,999.7 1027.7,995.6 1025.3,991.5 1023.3,986.8 1021.5,981.7 1019.9,976.4 1018.5,971.3 1017.0,966.6 1015.4,962.6 1012.0,956.0 1008.0,950.0 1005.3,946.4 1002.3,942.8 998.9,939.0 994.9,934.8 990.0,930.0 987.6,927.7 985.0,925.3 982.1,922.5 979.0,919.6 975.7,916.5 972.2,913.2 968.6,909.8 964.8,906.3 960.8,902.7 956.7,899.0 952.5,895.2 948.2,891.4 943.9,887.6 939.5,883.9 935.0,880.1 930.5,876.4 926.0,872.8 921.5,869.2 917.1,865.8 912.6,862.5 908.2,859.3 903.9,856.4 899.7,853.6 895.6,851.1 891.6,848.8 887.7,846.8 884.0,845.0 878.3,842.9 872.5,841.4 866.7,840.5 861.0,840.0 855.2,839.7 849.6,839.6 844.1,839.6 838.8,839.4 833.7,839.0 828.8,838.2 824.2,836.9 820.0,835.0 815.7,832.4 811.7,829.5 808.0,826.3 804.6,822.9 801.5,819.1 798.5,815.0 795.6,810.4 792.8,805.4 790.0,800.0 788.4,796.7 787.0,793.1 785.5,789.3 784.2,785.2 782.9,781.0 781.6,776.6 780.4,772.0 779.3,767.3 778.2,762.4 777.1,757.4 776.1,752.2 775.1,747.0 774.1,741.7 773.2,736.2 772.2,730.8 771.3,725.2 770.4,719.7 769.5,714.1 768.6,708.5 767.7,702.9 766.8,697.3 765.9,691.8 765.0,686.3 764.0,680.9 763.1,675.5 762.1,670.2 761.1,665.1 760.0,660.0" fill="#6dbe46" stroke="#6dbe46" stroke-width="2.6" stroke-linejoin="round"/>
<polygon points="978.5,745.0 986.0,677.0 990.0,677.0 993.0,745.0" fill="#6dbe46"/>
<polygon points="1322.0,814.0 1328.6,777.0 1336.0,814.0" fill="#6dbe46"/>
<polyline points="346.5,57.5 351.4,60.3 356.4,63.0 361.3,65.8 366.2,68.6 370.9,71.5 375.1,74.2 379.2,76.9 383.1,79.6 387.2,82.5 391.5,85.8 395.2,88.7 399.1,92.0 403.2,95.4 407.3,99.0 411.4,102.6 415.3,106.1 419.0,109.5 422.4,112.6 426.9,116.7 430.9,120.4 434.6,124.1 438.0,128.0 441.4,132.7 444.3,137.6 447.0,143.0 448.9,147.5 450.6,152.3 452.2,157.5 453.7,162.7 455.0,168.0 456.1,172.8 457.0,177.8 457.8,182.8 458.6,187.9 459.3,193.0 460.0,198.0 460.7,203.0 461.3,208.0 461.9,213.1 462.5,218.1 463.0,223.1 463.5,228.0 464.0,233.7 464.5,239.3 464.9,244.8 465.3,250.4 465.7,256.0 466.3,250.8 466.8,245.6 467.3,240.3 467.8,235.1 468.3,229.8 468.8,224.6 469.4,219.5 470.1,214.4 470.9,209.5 471.9,204.8 473.2,199.0 474.6,193.3 476.1,187.7 477.7,182.3 479.6,177.1 481.7,172.3 484.2,167.8 487.6,162.9 491.4,158.5 495.6,154.4 500.0,150.7 504.8,147.2 509.4,144.2 514.4,141.3 519.6,138.6 525.0,136.3 530.4,134.3 535.8,132.7 540.9,131.6 546.0,130.9 551.2,130.5 556.4,130.3 561.5,130.4 566.7,130.7 571.8,131.2 576.9,132.0 581.9,133.0 587.0,134.2 592.2,135.5 597.6,136.8 602.6,138.0 607.8,139.4 613.1,140.8 618.6,142.2 624.0,143.8 629.4,145.5 634.8,147.3 640.0,149.2 645.2,151.2 650.3,153.4 655.5,155.6 660.5,158.0 665.6,160.4 670.5,162.9 675.3,165.5 680.0,168.0 684.7,170.6 689.2,173.1 693.6,175.7 697.9,178.3 702.2,181.2 706.6,184.4 711.0,188.0 714.5,191.1 718.1,194.4 721.8,198.1 725.6,202.0 729.4,206.0 733.2,210.1 736.8,214.3 740.3,218.4 743.7,222.5 746.7,226.5 749.5,230.2 752.0,233.7 755.2,238.6 757.7,243.1 759.8,247.5 761.8,252.3 764.0,258.0 765.4,261.6 766.8,265.6 768.3,269.7 769.7,274.1 771.2,278.7 772.7,283.5 774.2,288.4 775.7,293.5 777.2,298.6 778.6,303.9 780.0,309.1 781.3,314.4 782.6,319.6 783.9,324.8 785.0,330.0 786.0,334.7 786.9,339.5 787.8,344.3 788.6,349.2 789.4,354.2 790.1,359.2 790.8,364.2 791.5,369.2 792.2,374.3 792.8,379.4 793.4,384.5 794.1,389.6 794.7,394.7 795.3,399.8 796.0,404.9 796.6,409.9 797.3,415.0 798.0,420.0 798.8,414.9 799.6,409.8 800.4,404.6 801.1,399.3 801.7,394.0 802.4,388.7 803.1,383.3 803.8,378.1 804.6,372.9 805.4,367.8 806.2,362.7 807.2,357.8 808.2,353.1 809.3,348.5 810.6,344.2 812.0,340.0 814.0,334.6 816.1,329.4 818.2,324.2 820.5,319.4 823.0,314.7 825.6,310.4 828.5,306.5 831.6,303.0 835.0,300.0 839.3,297.1 844.1,294.7 849.2,292.8 854.5,291.4 859.8,290.5 865.1,290.0 870.0,290.0 875.3,290.7 880.5,292.1 885.7,294.0 890.7,296.4 895.5,299.1 900.0,302.0 903.9,305.0 907.5,308.3 910.8,311.8 914.1,315.7 917.4,319.7 921.0,324.0 924.0,327.6 927.2,331.4 930.4,335.5 933.7,339.7 937.1,344.1 940.4,348.4 943.8,352.8 947.1,357.2 950.4,361.5 953.6,365.6 956.9,369.8 960.2,373.8 963.5,377.7 966.7,381.7 969.9,385.6 973.1,389.7 976.3,393.8 979.4,398.1 982.4,402.6 985.0,406.6 987.5,410.8 990.0,415.0 992.4,419.4 994.8,423.8 997.2,428.3 999.6,432.9 1001.9,437.5 1004.2,442.1 1006.5,446.8 1008.8,451.4 1011.0,456.0 1013.3,460.8 1015.5,465.7 1017.8,470.8 1020.1,475.9 1022.3,481.1 1024.5,486.2 1026.6,491.3 1028.6,496.2 1030.6,501.0 1032.5,505.6 1034.3,510.0 1036.0,514.0 1038.4,519.8 1040.6,525.0 1042.6,529.8 1044.5,534.7 1046.5,540.0 1048.3,545.2 1050.1,550.5 1051.9,556.0 1053.6,561.5 1055.5,567.2 1057.5,573.0 1059.2,577.7 1061.0,582.5 1062.9,587.5 1064.8,592.6 1066.8,597.7 1068.7,602.7 1070.6,607.7 1072.4,612.4 1074.0,617.0 1075.9,622.3 1077.6,627.4 1079.2,632.3 1080.8,637.2 1082.4,642.1 1084.0,647.0" fill="none" stroke="#ee2226" stroke-width="5.0" stroke-linejoin="round" stroke-linecap="round"/>
<polygon points="1085.3,647.0 1087.7,653.8 1090.4,661.0 1092.8,666.2 1095.6,671.7 1098.5,677.4 1101.4,683.0 1104.1,688.7 1106.7,694.4 1109.5,700.0 1112.4,705.0 1115.8,709.9 1119.3,714.3 1123.4,718.0 1128.4,720.9 1134.0,723.0 1140.0,724.6 1145.2,725.6 1150.6,726.1 1156.2,726.5 1162.0,726.8 1167.5,727.2 1173.2,727.6 1179.0,727.9 1184.7,728.1 1190.0,728.0 1196.2,727.5 1202.0,726.8 1209.0,725.7 1213.0,725.2 1217.5,724.6 1222.4,724.0 1227.6,723.4 1233.1,722.7 1238.7,722.0 1244.4,721.1 1250.1,720.2 1255.7,719.2 1261.1,718.1 1266.2,716.8 1271.0,715.4 1276.2,713.7 1281.3,711.8 1286.3,709.8 1291.3,707.6 1296.0,705.3 1300.5,702.9 1304.7,700.4 1308.5,697.7 1312.0,694.8 1316.2,690.4 1319.6,685.7 1322.5,680.7 1325.2,675.4 1328.0,670.0 1330.3,665.4 1332.5,660.5 1334.7,655.5 1336.7,650.4 1338.8,645.2 1340.9,640.1 1343.0,635.0 1345.1,640.0 1347.3,645.1 1349.4,650.2 1351.5,655.3 1353.7,660.2 1356.0,665.0 1358.5,670.3 1361.0,675.5 1363.7,680.5 1366.6,685.4 1370.0,690.0 1373.4,693.8 1377.2,697.3 1381.2,700.6 1385.5,703.9 1389.9,707.3 1394.5,711.0 1398.2,714.1 1402.0,717.3 1405.9,720.7 1410.0,724.2 1414.2,727.7 1418.4,731.1 1422.7,734.6 1427.0,737.9 1431.4,741.0 1435.7,744.0 1440.3,747.0 1444.9,749.8 1449.5,752.5 1454.2,755.2 1458.9,757.7 1463.7,760.1 1468.6,762.5 1473.7,764.8 1479.0,767.0 1483.7,768.9 1488.7,770.9 1493.9,772.8 1499.1,774.7 1504.5,776.6 1509.9,778.4 1515.3,780.0 1520.7,781.5 1526.0,782.8 1531.2,783.9 1536.2,784.8 1541.0,785.4 1546.6,785.8 1552.1,785.9 1557.5,785.7 1562.8,785.3 1568.0,784.6 1572.9,783.7 1577.6,782.6 1582.0,781.3 1587.3,779.4 1592.3,777.1 1596.9,774.5 1601.2,771.4 1605.0,768.0 1608.3,764.2 1611.1,759.9 1613.6,755.3 1615.9,750.3 1618.0,745.0 1619.6,740.4 1621.0,735.5 1622.3,730.3 1623.5,724.9 1624.6,719.4 1625.6,713.9 1626.6,708.4 1627.6,703.0 1628.5,697.6 1629.4,692.3 1630.1,686.9 1630.9,681.5 1631.6,676.0 1632.3,670.6 1633.0,665.2 1633.7,659.8 1634.4,664.8 1635.0,669.8 1635.6,674.8 1636.3,679.8 1636.9,684.8 1637.6,689.8 1638.3,694.9 1639.0,700.0 1639.7,704.9 1640.4,709.9 1641.1,715.0 1641.8,720.1 1642.5,725.2 1643.3,730.3 1644.1,735.3 1645.0,740.2 1646.0,745.0 1647.1,750.5 1648.1,756.1 1649.2,761.6 1650.4,766.9 1651.9,772.0 1653.9,776.9 1656.4,781.3 1659.2,785.3 1662.2,789.1 1665.5,792.5 1669.3,795.8 1673.7,798.8 1678.9,801.5 1685.0,804.0 1687.8,804.9 1690.9,805.8 1694.3,806.6 1698.0,807.4 1701.9,808.1 1706.2,808.8 1710.6,809.4 1715.3,810.0 1720.2,810.6 1725.4,811.1 1730.7,811.5 1736.1,811.9 1741.7,812.3 1747.5,812.7 1753.3,813.0 1759.3,813.2 1765.3,813.5 1771.4,813.7 1777.6,813.8 1783.8,813.9 1790.0,814.0 1796.2,814.1 1802.4,814.1 1808.6,814.1 1814.8,814.1 1820.9,814.1 1826.9,814.0 1832.8,813.9 1838.6,813.8 1844.3,813.6 1849.9,813.4 1855.3,813.3 1860.5,813.0 1865.6,812.8 1870.4,812.6 1875.0,812.3 1879.4,812.0 1883.6,811.7 1887.5,811.4 1891.1,811.1 1894.4,810.7 1897.3,810.4 1900.0,810.0 1906.5,808.9 1911.8,807.8 1916.1,806.3 1920.0,804.5 1924.0,802.0 1928.2,798.7 1932.1,794.7 1935.7,790.2 1939.0,785.3 1942.0,780.0 1944.0,775.7 1945.6,771.1 1947.1,766.1 1948.4,761.0 1949.5,755.7 1950.7,750.4 1951.8,745.1 1953.0,740.0 1954.2,734.9 1955.4,729.8 1956.5,724.7 1957.6,719.5 1958.7,714.4 1959.8,709.3 1960.9,704.1 1962.0,699.0 1963.1,704.1 1964.2,709.3 1965.4,714.4 1966.5,719.5 1967.6,724.7 1968.7,729.8 1969.9,734.9 1971.0,740.0 1972.1,745.1 1973.1,750.3 1974.1,755.6 1975.1,760.8 1976.2,766.0 1977.3,770.9 1978.6,775.6 1980.0,780.0 1982.5,786.1 1985.3,791.5 1988.2,796.7 1991.0,802.0 1991.0,840.0 1986.0,839.9 1981.0,839.8 1976.0,839.6 1971.0,839.5 1965.9,839.4 1960.9,839.3 1955.9,839.2 1950.9,839.2 1945.9,839.1 1940.9,839.0 1935.9,838.9 1930.9,838.9 1925.9,838.8 1920.9,838.7 1915.9,838.7 1910.8,838.6 1905.8,838.5 1900.8,838.5 1895.8,838.4 1890.8,838.4 1885.8,838.3 1880.8,838.3 1875.8,838.2 1870.8,838.2 1865.8,838.2 1860.8,838.1 1855.8,838.1 1850.8,838.0 1845.8,838.0 1840.8,837.9 1835.7,837.9 1830.7,837.8 1825.7,837.8 1820.7,837.7 1815.7,837.7 1810.7,837.6 1805.7,837.6 1800.7,837.5 1795.7,837.4 1790.7,837.4 1785.7,837.3 1780.7,837.2 1775.7,837.1 1770.6,837.1 1765.6,837.0 1760.6,836.9 1755.6,836.8 1750.6,836.7 1745.6,836.6 1740.6,836.5 1735.6,836.3 1730.6,836.2 1725.5,836.1 1720.5,835.9 1715.5,835.8 1710.5,835.7 1705.5,835.5 1700.5,835.3 1695.5,835.2 1690.4,835.0 1685.4,834.8 1680.4,834.6 1675.4,834.4 1670.4,834.1 1665.3,833.9 1660.3,833.7 1655.3,833.4 1650.3,833.2 1645.3,832.9 1640.2,832.6 1635.2,832.3 1630.2,832.0 1625.1,831.7 1620.1,831.4 1615.1,831.1 1610.1,830.7 1605.0,830.4 1600.0,830.0 1595.0,829.6 1589.9,829.2 1584.8,828.8 1579.6,828.4 1574.4,828.0 1569.1,827.6 1563.8,827.1 1558.4,826.7 1553.0,826.2 1547.5,825.7 1542.0,825.2 1536.5,824.7 1530.9,824.2 1525.3,823.7 1519.7,823.2 1514.0,822.7 1508.3,822.1 1502.6,821.6 1496.9,821.0 1491.2,820.5 1485.4,819.9 1479.7,819.3 1473.9,818.8 1468.1,818.2 1462.3,817.6 1456.5,817.0 1450.7,816.4 1444.9,815.7 1439.1,815.1 1433.3,814.5 1427.5,813.9 1421.7,813.2 1416.0,812.6 1410.2,811.9 1404.5,811.3 1398.7,810.6 1393.0,810.0 1387.4,809.3 1381.7,808.6 1376.1,807.9 1370.5,807.3 1364.9,806.6 1359.4,805.9 1353.9,805.2 1348.5,804.5 1343.1,803.8 1337.7,803.1 1332.4,802.4 1327.1,801.7 1321.9,801.0 1316.7,800.3 1311.6,799.6 1306.6,798.9 1301.6,798.2 1296.6,797.5 1291.8,796.8 1287.0,796.1 1282.2,795.4 1277.6,794.6 1273.0,793.9 1268.5,793.2 1264.0,792.5 1259.7,791.8 1255.4,791.1 1251.2,790.4 1247.1,789.7 1243.1,789.0 1239.1,788.3 1235.3,787.6 1231.6,786.9 1227.9,786.2 1224.4,785.5 1221.0,784.8 1217.6,784.1 1214.4,783.4 1211.3,782.7 1208.3,782.0 1205.4,781.3 1202.7,780.7 1200.0,780.0 1192.9,778.1 1186.6,776.1 1181.1,774.2 1176.1,772.2 1171.5,770.3 1167.2,768.3 1163.0,766.3 1158.9,764.2 1154.6,762.1 1150.0,760.0 1144.8,757.8 1139.4,755.5 1133.8,753.3 1128.3,751.1 1123.0,748.8 1118.1,746.3 1113.7,743.8 1109.9,741.0 1107.0,738.0 1104.2,733.0 1102.9,727.5 1102.3,721.8 1101.4,716.0 1100.3,710.6 1099.3,705.0 1098.4,699.3 1097.3,693.6 1096.0,688.0 1094.4,682.4 1092.5,676.7 1090.5,671.1 1088.6,665.8 1087.0,661.0 1084.7,653.7 1082.7,647.0" fill="#ee2226" stroke="#ee2226" stroke-width="2.6" stroke-linejoin="round"/>
<polyline points="347.7,56.6 352.4,59.4 357.1,62.3 361.7,65.1 366.4,68.0 370.9,70.9 375.1,73.6 379.1,76.3 383.1,79.1 387.2,82.0 391.5,85.3 395.2,88.2 399.0,91.4 403.0,94.8 407.1,98.3 411.1,101.8 415.0,105.4 418.8,108.8 422.4,112.1 427.0,116.3 431.4,120.3 435.6,124.3 439.5,128.4 443.0,132.7 446.0,137.0 448.7,141.5 451.1,146.0 453.3,150.7 455.4,155.4 457.4,160.1 459.1,164.9 460.7,169.8 462.2,174.8 463.6,180.1 464.7,184.7 465.7,189.5 466.6,194.5 467.5,199.5 468.3,204.7 469.1,209.9 469.8,215.1 470.4,220.1 471.0,225.1 471.6,230.2 472.1,235.3 472.5,240.5 473.0,245.7 473.5,250.9 474.0,256.0 474.8,250.4 475.5,244.8 476.2,239.2 477.0,233.5 477.8,228.0 478.9,222.5 480.1,217.2 481.5,212.2 482.9,207.1 484.5,202.1 486.2,197.2 488.1,192.5 490.2,188.1 492.5,184.2 496.1,179.2 500.2,174.6 504.5,170.8 509.0,167.8 514.3,165.5 519.8,164.2 525.5,163.6 530.5,163.5 535.6,163.8 540.9,164.6 546.0,165.7 551.2,167.3 556.4,169.4 561.6,171.7 566.7,174.0 571.9,176.3 577.1,178.6 582.3,181.2 587.3,184.2 591.6,187.4 595.9,190.9 600.1,194.7 604.1,198.7 607.9,202.8 611.5,207.0 615.0,211.4 618.3,215.9 621.5,220.6 624.4,225.5 626.8,229.9 628.9,234.3 630.9,238.8 632.8,243.6 634.7,248.7 636.7,254.3 638.1,258.4 639.6,262.7 641.1,267.3 642.5,272.0 644.0,276.9 645.5,281.9 647.0,287.1 648.5,292.4 649.9,297.8 651.2,303.3 652.6,308.8 653.8,314.4 655.0,320.0 655.9,324.5 656.7,329.1 657.5,333.8 658.2,338.6 659.0,343.4 659.6,348.4 660.3,353.4 660.9,358.4 661.5,363.5 662.1,368.6 662.7,373.8 663.3,378.9 663.9,384.1 664.4,389.3 665.0,394.5 665.6,399.6 666.1,404.8 666.7,409.9 667.4,415.0 668.0,420.0 669.7,414.9 671.4,409.6 672.9,404.2 674.4,398.8 675.8,393.3 677.3,387.9 679.0,382.6 680.7,377.5 682.6,372.7 684.8,368.1 687.2,363.8 690.0,360.0 693.5,355.9 697.4,352.1 701.6,348.4 706.0,345.1 710.6,342.1 715.4,339.6 720.2,337.5 725.1,336.0 730.0,335.0 734.7,334.7 739.5,334.9 744.4,335.7 749.5,336.8 754.5,338.4 759.7,340.3 764.8,342.5 769.9,344.8 775.0,347.4 780.0,350.0 784.1,352.3 788.2,354.8 792.3,357.5 796.5,360.4 800.7,363.5 804.9,366.7 809.1,370.0 813.2,373.5 817.3,377.1 821.3,380.8 825.2,384.5 829.1,388.4 832.8,392.2 836.5,396.1 840.0,400.0 843.3,403.8 846.5,407.8 849.6,411.9 852.7,416.2 855.7,420.5 858.6,424.9 861.4,429.4 864.2,433.9 866.9,438.4 869.6,442.9 872.2,447.4 874.7,451.8 877.1,456.2 879.5,460.4 881.8,464.6 884.0,468.6 886.7,473.5 889.1,478.3 891.4,483.0 893.6,487.7 895.7,492.2 897.7,496.8 899.8,501.3 901.8,505.8 903.9,510.4 906.0,515.0" fill="none" stroke="#070707" stroke-width="3.6" stroke-linejoin="round" stroke-linecap="round"/>
<polygon points="906.7,514.0 909.7,519.4 913.0,526.0 914.4,529.4 915.9,533.3 917.4,537.8 919.1,542.7 920.8,547.9 922.6,553.3 924.4,558.8 926.2,564.4 928.1,570.0 929.9,575.4 931.8,580.5 933.6,585.4 935.6,590.5 937.6,595.5 939.6,600.5 941.6,605.4 943.6,610.2 945.6,615.0 947.7,619.8 949.8,624.4 951.9,629.0 954.1,633.5 956.6,638.5 959.1,643.5 961.6,648.4 964.2,653.2 966.8,657.9 969.4,662.5 972.1,667.0 974.8,671.3 978.0,676.3 981.2,681.2 984.4,685.9 987.8,690.4 991.4,694.7 995.4,698.8 999.2,702.2 1003.2,705.4 1007.4,708.5 1011.8,711.4 1016.4,714.2 1021.2,716.8 1026.3,719.4 1030.8,721.5 1035.5,723.4 1040.3,725.3 1045.4,727.1 1050.6,728.8 1055.9,730.4 1061.2,732.0 1066.7,733.5 1072.2,735.0 1077.8,736.5 1082.4,737.7 1087.2,738.9 1092.1,740.1 1097.1,741.3 1102.2,742.4 1107.3,743.5 1112.5,744.6 1117.6,745.6 1122.7,746.6 1127.7,747.5 1132.7,748.3 1137.4,749.1 1142.1,749.7 1146.5,750.3 1152.2,751.0 1157.5,751.6 1162.7,752.1 1167.7,752.5 1172.7,752.7 1177.7,752.7 1183.0,752.5 1188.5,752.0 1193.3,751.4 1198.3,750.6 1203.4,749.6 1208.7,748.5 1214.1,747.2 1219.4,745.8 1224.8,744.3 1230.1,742.7 1235.3,741.1 1240.4,739.4 1245.3,737.7 1250.0,736.0 1255.2,734.0 1260.3,731.9 1265.3,729.8 1270.2,727.5 1274.9,725.2 1279.5,722.8 1283.8,720.4 1287.8,717.9 1291.5,715.4 1296.0,711.9 1300.0,708.4 1303.6,704.8 1306.9,701.0 1310.0,697.0 1312.8,693.0 1315.4,688.9 1317.7,684.6 1319.9,680.0 1322.0,675.0 1323.6,670.6 1325.0,665.9 1326.4,661.0 1327.7,655.8 1328.9,650.6 1330.1,645.3 1331.4,640.1 1332.7,635.0 1333.7,640.0 1334.6,645.1 1335.5,650.2 1336.5,655.2 1337.5,660.3 1338.7,665.2 1340.0,670.0 1341.6,675.3 1343.3,680.5 1345.1,685.6 1347.1,690.6 1349.4,695.4 1352.0,700.0 1355.0,704.3 1358.3,708.2 1361.9,711.9 1365.7,715.7 1369.8,719.5 1374.0,723.6 1377.3,726.7 1380.8,730.1 1384.5,733.5 1388.4,737.0 1392.4,740.6 1396.4,744.2 1400.4,747.7 1404.3,751.2 1408.1,754.5 1411.7,757.7 1415.0,760.7 1419.0,764.5 1422.4,768.2 1425.7,771.7 1429.1,775.0 1433.1,778.2 1438.0,781.3 1441.4,783.1 1445.2,784.9 1449.2,786.7 1453.6,788.5 1458.2,790.2 1463.0,791.9 1468.0,793.6 1473.1,795.2 1478.4,796.8 1483.7,798.2 1489.0,799.7 1494.4,801.0 1499.7,802.2 1505.0,803.3 1510.1,804.3 1515.1,805.2 1520.0,806.0 1525.5,806.8 1531.3,807.5 1537.1,808.3 1543.1,808.9 1549.1,809.4 1555.1,809.8 1561.0,810.1 1566.7,810.2 1572.2,810.1 1577.5,809.8 1582.4,809.3 1587.0,808.5 1591.0,807.4 1594.6,806.0 1599.5,803.0 1603.4,799.2 1606.5,794.9 1609.3,790.1 1612.0,785.0 1614.0,780.8 1615.9,776.3 1617.5,771.6 1619.0,766.6 1620.3,761.4 1621.6,756.1 1622.8,750.6 1624.0,745.0 1624.9,740.2 1625.8,735.1 1626.5,729.7 1627.3,724.2 1627.9,718.5 1628.5,712.8 1629.1,707.2 1629.6,701.7 1630.2,696.4 1630.7,691.3 1631.2,686.7 1631.7,682.4 1632.6,675.4 1633.4,669.3 1634.2,663.6 1635.0,657.7 1635.5,663.0 1635.9,668.2 1636.4,673.4 1636.9,678.7 1637.4,684.2 1638.0,690.0 1638.5,694.5 1638.9,699.2 1639.4,704.0 1639.8,709.0 1640.4,714.0 1640.9,719.1 1641.5,724.3 1642.3,729.5 1643.1,734.7 1644.0,740.0 1644.7,744.8 1645.2,749.9 1645.5,755.1 1645.8,760.6 1646.0,766.0 1646.4,771.5 1647.1,776.9 1648.0,782.1 1649.3,787.2 1651.1,792.0 1653.5,796.4 1656.6,800.4 1660.5,804.0 1662.7,805.5 1665.3,807.0 1668.1,808.4 1671.3,809.8 1674.7,811.1 1678.4,812.3 1682.3,813.5 1686.6,814.5 1691.0,815.6 1695.7,816.5 1700.5,817.4 1705.6,818.3 1710.9,819.1 1716.3,819.8 1721.9,820.5 1727.7,821.1 1733.6,821.6 1739.6,822.1 1745.7,822.5 1752.0,822.9 1758.3,823.2 1764.7,823.5 1771.2,823.7 1777.7,823.8 1784.3,823.9 1790.9,823.9 1797.5,823.9 1804.2,823.8 1810.8,823.7 1817.4,823.5 1823.9,823.3 1830.5,823.0 1837.0,822.7 1843.4,822.3 1849.7,821.8 1855.9,821.4 1862.1,820.8 1868.1,820.2 1874.0,819.6 1879.7,818.9 1885.3,818.2 1890.8,817.4 1896.0,816.6 1901.1,815.8 1906.0,814.8 1910.7,813.9 1915.1,812.9 1919.3,811.9 1923.3,810.8 1927.0,809.6 1930.4,808.5 1933.5,807.3 1936.4,806.0 1938.9,804.7 1941.1,803.4 1943.0,802.0 1946.8,797.9 1949.3,793.3 1950.6,788.3 1951.1,782.9 1951.2,777.3 1951.1,771.6 1951.3,765.8 1952.0,760.0 1952.9,755.4 1953.7,750.6 1954.6,745.8 1955.4,740.8 1956.2,735.8 1957.0,730.7 1957.9,725.6 1958.7,720.4 1959.5,715.3 1960.3,710.1 1961.2,705.0 1962.0,700.0 1962.7,704.9 1963.5,709.8 1964.2,714.6 1964.9,719.5 1965.6,724.4 1966.4,729.4 1967.2,734.6 1968.0,740.0 1968.7,745.0 1969.2,750.5 1969.7,756.5 1970.2,762.8 1970.7,769.2 1971.2,775.5 1971.9,781.5 1972.7,787.1 1973.6,792.2 1974.8,796.4 1976.3,799.8 1978.0,802.0 1984.2,803.1 1991.0,802.0 1991.0,965.0 1986.0,964.1 1981.1,963.3 1976.4,962.4 1971.7,961.6 1967.0,960.8 1962.4,960.0 1957.9,959.2 1953.4,958.5 1948.9,957.7 1944.4,956.9 1939.9,956.1 1935.4,955.4 1930.8,954.6 1926.2,953.8 1921.6,953.0 1916.9,952.2 1912.0,951.3 1907.1,950.4 1902.1,949.6 1897.0,948.6 1891.7,947.7 1886.3,946.7 1880.7,945.7 1875.0,944.6 1869.0,943.6 1862.9,942.4 1856.6,941.2 1850.0,940.0 1846.7,939.4 1843.3,938.7 1839.8,938.1 1836.2,937.4 1832.6,936.7 1828.9,936.0 1825.2,935.3 1821.4,934.6 1817.5,933.8 1813.6,933.1 1809.6,932.3 1805.6,931.6 1801.5,930.8 1797.3,930.0 1793.1,929.2 1788.9,928.3 1784.5,927.5 1780.2,926.7 1775.8,925.8 1771.3,925.0 1766.8,924.1 1762.2,923.2 1757.6,922.3 1752.9,921.4 1748.2,920.5 1743.5,919.6 1738.7,918.7 1733.9,917.7 1729.0,916.8 1724.1,915.8 1719.2,914.9 1714.2,913.9 1709.2,912.9 1704.2,912.0 1699.1,911.0 1694.0,910.0 1688.9,909.0 1683.7,908.0 1678.5,906.9 1673.3,905.9 1668.1,904.9 1662.8,903.9 1657.5,902.8 1652.2,901.8 1646.8,900.7 1641.5,899.7 1636.1,898.6 1630.7,897.5 1625.3,896.5 1619.9,895.4 1614.4,894.3 1609.0,893.3 1603.5,892.2 1598.1,891.1 1592.6,890.0 1587.1,888.9 1581.6,887.8 1576.1,886.7 1570.5,885.6 1565.0,884.5 1559.5,883.4 1554.0,882.3 1548.5,881.2 1542.9,880.1 1537.4,879.0 1531.9,877.9 1526.4,876.8 1520.9,875.7 1515.4,874.6 1509.9,873.5 1504.4,872.4 1498.9,871.3 1493.4,870.2 1487.9,869.1 1482.5,868.0 1477.1,866.9 1471.6,865.8 1466.2,864.7 1460.9,863.6 1455.5,862.5 1450.1,861.4 1444.8,860.3 1439.5,859.2 1434.2,858.1 1428.9,857.1 1423.7,856.0 1418.5,854.9 1413.3,853.8 1408.2,852.8 1403.0,851.7 1397.9,850.7 1392.9,849.6 1387.9,848.6 1382.9,847.5 1377.9,846.5 1373.0,845.5 1368.1,844.5 1363.2,843.4 1358.4,842.4 1353.7,841.4 1348.9,840.4 1344.2,839.5 1339.6,838.5 1335.0,837.5 1330.5,836.5 1326.0,835.6 1321.5,834.6 1317.1,833.7 1312.7,832.7 1308.4,831.8 1304.2,830.9 1300.0,830.0 1294.3,828.8 1288.6,827.5 1282.8,826.3 1277.0,825.1 1271.2,823.8 1265.4,822.6 1259.5,821.4 1253.6,820.1 1247.7,818.9 1241.8,817.7 1235.9,816.4 1230.0,815.2 1224.0,814.0 1218.1,812.7 1212.2,811.5 1206.3,810.3 1200.4,809.1 1194.5,807.8 1188.6,806.6 1182.8,805.4 1176.9,804.2 1171.1,803.0 1165.4,801.7 1159.6,800.5 1153.9,799.3 1148.3,798.1 1142.7,796.9 1137.1,795.7 1131.6,794.5 1126.1,793.4 1120.7,792.2 1115.3,791.0 1110.0,789.8 1104.8,788.7 1099.6,787.5 1094.5,786.4 1089.5,785.2 1084.6,784.1 1079.7,782.9 1075.0,781.8 1070.3,780.7 1065.7,779.6 1061.2,778.5 1056.8,777.4 1052.5,776.3 1048.3,775.2 1044.2,774.1 1040.2,773.0 1036.4,772.0 1032.6,770.9 1029.0,769.9 1025.5,768.9 1022.1,767.8 1018.9,766.8 1015.7,765.8 1012.8,764.8 1009.9,763.8 1007.2,762.9 1004.7,761.9 1002.3,760.9 1000.0,760.0 993.9,757.1 989.2,754.3 985.4,751.5 982.0,748.8 978.6,746.1 974.8,743.4 972.1,736.9 969.6,729.7 968.5,724.9 967.5,719.7 966.6,714.1 965.7,708.2 964.5,702.2 963.4,697.5 962.3,692.5 961.0,687.5 959.7,682.3 958.4,677.0 957.0,671.7 955.5,666.3 954.1,661.0 952.7,655.8 951.2,650.5 949.8,645.1 948.2,639.7 946.7,634.3 945.1,628.8 943.6,623.5 942.0,618.2 940.4,613.0 938.7,607.7 937.1,602.5 935.5,597.3 933.8,592.2 932.1,587.2 930.3,582.1 928.6,576.9 926.7,571.7 924.8,566.5 922.7,561.0 920.5,555.4 918.3,549.7 916.1,544.1 914.0,538.9 912.1,534.0 910.4,529.6 909.0,526.0 907.0,520.6 905.3,516.0" fill="#070707" stroke="#070707" stroke-width="2.6" stroke-linejoin="round"/>
<polyline points="350.0,61.0 351.4,65.9 352.7,70.7 354.1,75.5 355.5,80.3 356.9,85.1 358.3,89.9 359.6,94.9 360.8,99.9 362.0,105.0 363.0,109.7 363.9,114.6 364.9,119.5 365.7,124.5 366.6,129.5 367.4,134.6 368.1,139.7 368.9,144.8 369.5,149.9 370.2,155.0 370.8,160.0 371.4,164.9 371.9,169.8 372.3,174.6 372.8,179.4 373.1,184.2 373.5,189.1 373.8,194.0 374.1,199.0 374.4,204.2 374.7,209.5 375.0,215.0 375.2,219.7 375.4,224.5 375.6,229.4 375.7,234.4 375.9,239.6 376.0,244.8 376.1,250.1 376.2,255.4 376.3,260.8 376.4,266.2 376.4,271.6 376.5,277.0 376.6,282.5 376.7,287.9 376.8,293.2 376.9,298.5 377.0,303.8 377.1,298.7 377.3,293.5 377.4,288.2 377.5,282.7 377.7,277.2 377.8,271.6 377.9,266.0 378.0,260.3 378.1,254.6 378.2,248.9 378.3,243.2 378.4,237.5 378.5,231.9 378.7,226.4 378.8,220.9 378.9,215.5 379.0,210.2 379.2,205.0 379.3,200.0 379.5,195.1 379.7,190.4 379.8,185.9 380.0,181.6 380.2,177.5 380.4,173.6 380.7,170.0 380.9,166.7 381.2,163.6 381.9,156.1 382.7,150.1 383.7,144.9 385.0,140.0 388.0,132.8 391.5,126.5 394.5,121.4 398.0,117.0 402.6,113.3 408.0,111.1 415.1,111.6 422.4,114.2 427.4,117.5 432.2,121.7 436.8,126.5 440.6,130.7 444.3,135.3 447.9,140.1 451.3,145.1 454.0,149.4 456.6,153.8 459.1,158.3 461.5,163.0 463.6,167.8 465.6,173.3 467.4,179.0 469.0,184.8 470.5,190.7 471.9,196.6 473.3,202.3 474.6,208.0 475.8,213.7 476.9,219.5 478.0,225.5 478.8,230.5 479.6,235.6 480.3,240.8 481.0,246.1 481.6,251.4 482.3,256.7 483.0,262.0 484.0,256.8 485.0,251.5 486.1,246.3 487.2,241.0 488.4,235.8 489.7,230.2 491.1,224.5 492.6,218.8 494.4,213.6 496.6,209.0 500.3,203.9 504.6,199.7 509.0,196.6 514.0,194.3 519.3,193.5 524.5,194.3 530.1,196.2 535.8,198.7 540.9,201.2 546.1,204.1 551.3,207.4 556.4,211.0 560.7,214.3 565.0,217.8 569.2,221.5 573.2,225.5 577.0,229.6 580.4,233.9 583.2,238.3 586.0,243.0 589.3,248.3 593.5,254.3 595.5,257.0 597.7,259.8 600.1,262.9 602.7,266.0 605.4,269.4 608.2,272.8 611.2,276.4 614.3,280.2 617.5,284.0 620.8,287.9 624.2,291.9 627.7,296.0 631.2,300.2 634.8,304.4 638.4,308.7 642.0,313.0 645.7,317.3 649.3,321.7 652.9,326.0 656.5,330.4 660.1,334.7 663.6,339.1 667.1,343.4 670.4,347.6 673.7,351.8 676.9,355.9 680.0,360.0 683.1,364.2 686.3,368.5 689.5,372.8 692.8,377.2 696.0,381.7 699.3,386.2 702.6,390.7 705.9,395.2 709.2,399.8 712.4,404.4 715.7,409.0 718.9,413.5 722.0,418.1 725.1,422.6 728.2,427.0 731.2,431.4 734.1,435.8 737.0,440.1 739.7,444.3 742.4,448.4 745.0,452.4 747.4,456.3 749.8,460.1 752.0,463.7 754.1,467.2 756.0,470.6 758.9,475.9 761.5,480.9 763.7,485.5 765.7,490.0 767.5,494.3 769.3,498.6 771.1,502.9 773.0,507.4 775.0,512.0 777.1,516.7 779.3,521.5 781.5,526.4 783.8,531.4 786.0,536.4 788.2,541.3 790.3,546.2 792.4,550.9 794.4,555.6 796.3,560.0 798.7,565.7 800.8,571.1 802.9,576.4 804.9,581.6 806.9,586.7 809.0,592.0" fill="none" stroke="#b553a2" stroke-width="5.0" stroke-linejoin="round" stroke-linecap="round"/>
<polygon points="810.3,592.0 813.3,596.7 816.3,602.0 818.3,606.4 820.4,611.6 822.5,617.2 824.7,622.9 826.8,628.4 828.9,633.7 831.0,638.9 833.0,644.2 835.1,649.5 837.3,654.7 839.5,660.0 841.8,665.2 844.1,670.5 846.5,675.8 848.9,681.0 851.4,686.4 853.9,691.9 856.4,697.3 858.9,702.4 861.5,707.2 864.8,713.2 868.1,718.7 872.0,723.0 878.0,726.2 884.7,728.3 890.3,730.0 896.2,731.4 901.5,732.5 905.6,733.0 910.0,733.5 913.9,734.2 918.5,735.2 923.8,736.3 929.5,737.6 935.4,738.9 941.4,740.2 947.3,741.3 952.3,742.2 957.6,743.2 963.1,744.1 968.7,745.1 974.4,746.0 980.0,746.9 985.4,747.8 990.6,748.5 995.5,749.1 1000.0,749.6 1006.1,749.9 1011.3,749.8 1016.7,749.8 1023.6,750.4 1026.8,750.9 1030.3,751.5 1034.0,752.3 1038.0,753.1 1042.3,754.1 1046.8,755.2 1051.5,756.3 1056.4,757.6 1061.4,758.9 1066.6,760.2 1071.8,761.7 1077.2,763.1 1082.7,764.6 1088.2,766.1 1093.8,767.6 1099.4,769.1 1105.0,770.6 1110.5,772.1 1116.0,773.6 1121.5,775.0 1126.8,776.4 1132.1,777.7 1137.2,779.0 1142.2,780.2 1147.0,781.3 1152.1,782.4 1157.3,783.6 1162.4,784.7 1167.5,785.8 1172.7,786.8 1177.8,787.9 1182.9,788.9 1188.0,790.0 1193.1,791.0 1198.2,792.0 1203.2,792.9 1208.1,793.9 1213.0,794.9 1217.9,795.8 1222.7,796.7 1227.5,797.6 1232.1,798.5 1236.7,799.4 1241.2,800.3 1245.7,801.1 1250.0,802.0 1255.7,803.1 1261.1,804.0 1266.4,804.9 1271.5,805.7 1276.5,806.5 1281.4,807.2 1286.3,808.1 1291.3,809.0 1296.3,810.0 1301.3,811.1 1306.6,812.5 1312.0,814.0 1316.2,815.3 1320.3,816.8 1324.4,818.4 1328.4,820.0 1332.4,821.7 1336.3,823.6 1340.3,825.5 1344.4,827.4 1348.5,829.4 1352.7,831.4 1357.1,833.5 1361.6,835.6 1366.3,837.7 1371.3,839.8 1376.4,841.9 1381.9,844.0 1387.6,846.0 1393.6,848.0 1400.0,850.0 1403.1,850.9 1406.3,851.8 1409.6,852.8 1413.1,853.7 1416.8,854.7 1420.5,855.7 1424.4,856.6 1428.4,857.7 1432.5,858.7 1436.7,859.7 1441.0,860.8 1445.4,861.8 1450.0,862.9 1454.6,864.0 1459.4,865.1 1464.2,866.2 1469.1,867.3 1474.1,868.4 1479.2,869.5 1484.4,870.7 1489.6,871.8 1494.9,872.9 1500.3,874.1 1505.8,875.3 1511.3,876.4 1516.9,877.6 1522.5,878.8 1528.2,879.9 1534.0,881.1 1539.8,882.3 1545.6,883.5 1551.5,884.6 1557.4,885.8 1563.3,887.0 1569.3,888.2 1575.3,889.3 1581.3,890.5 1587.4,891.7 1593.4,892.9 1599.5,894.0 1605.6,895.2 1611.7,896.3 1617.8,897.5 1623.9,898.6 1630.0,899.8 1636.1,900.9 1642.2,902.0 1648.3,903.2 1654.3,904.3 1660.3,905.4 1666.3,906.5 1672.3,907.5 1678.3,908.6 1684.2,909.7 1690.1,910.7 1695.9,911.8 1701.8,912.8 1707.5,913.8 1713.2,914.8 1718.9,915.8 1724.5,916.7 1730.0,917.7 1735.5,918.6 1740.9,919.5 1746.3,920.4 1751.5,921.3 1756.7,922.2 1761.8,923.0 1766.9,923.8 1771.8,924.6 1776.7,925.4 1781.4,926.2 1786.1,926.9 1790.7,927.7 1795.2,928.4 1799.5,929.0 1803.8,929.7 1807.9,930.3 1811.9,930.9 1815.8,931.5 1819.6,932.0 1823.3,932.6 1826.8,933.1 1830.2,933.5 1833.5,934.0 1836.6,934.4 1839.6,934.8 1842.4,935.1 1845.1,935.4 1847.6,935.7 1850.0,936.0 1857.1,936.6 1862.9,936.8 1867.8,936.8 1872.1,936.7 1876.2,936.5 1880.5,936.4 1885.3,936.5 1891.0,937.0 1895.1,937.5 1899.3,938.1 1903.8,938.7 1908.4,939.5 1913.1,940.3 1918.1,941.2 1923.1,942.2 1928.2,943.2 1933.4,944.3 1938.7,945.4 1944.1,946.5 1949.5,947.6 1954.9,948.8 1960.3,950.0 1965.7,951.1 1971.1,952.2 1976.4,953.4 1981.7,954.5 1986.9,955.5 1992.0,956.5 1992.0,1115.0 1986.9,1114.9 1981.8,1114.7 1976.6,1114.6 1971.4,1114.5 1966.1,1114.3 1960.9,1114.2 1955.6,1114.1 1950.3,1114.0 1945.0,1113.9 1939.7,1113.8 1934.4,1113.6 1929.1,1113.5 1923.8,1113.4 1918.6,1113.3 1913.4,1113.2 1908.2,1113.0 1903.0,1112.9 1897.9,1112.8 1892.8,1112.6 1887.8,1112.5 1882.8,1112.3 1877.9,1112.2 1873.0,1112.0 1868.3,1111.8 1863.6,1111.6 1859.0,1111.4 1854.4,1111.2 1850.0,1111.0 1844.2,1110.7 1838.4,1110.4 1832.8,1110.0 1827.2,1109.7 1821.7,1109.4 1816.2,1109.0 1810.9,1108.6 1805.7,1108.3 1800.5,1107.9 1795.5,1107.5 1790.6,1107.0 1785.8,1106.6 1781.1,1106.2 1776.5,1105.7 1772.0,1105.3 1767.7,1104.8 1761.9,1104.2 1756.4,1103.6 1751.2,1103.0 1746.1,1102.4 1741.2,1101.7 1736.4,1100.9 1731.5,1099.8 1726.5,1098.6 1721.3,1096.9 1716.1,1094.7 1710.9,1092.2 1705.8,1089.6 1700.6,1087.1 1695.4,1084.9 1690.2,1083.1 1685.0,1082.0 1679.9,1081.5 1674.7,1081.3 1669.4,1081.5 1664.2,1081.9 1659.0,1082.6 1653.8,1083.6 1648.8,1084.7 1644.0,1086.0 1638.9,1087.8 1634.0,1090.1 1629.1,1092.8 1624.4,1095.6 1619.8,1098.3 1615.3,1100.7 1611.0,1102.7 1605.6,1104.7 1600.5,1106.2 1595.5,1107.6 1590.5,1109.0 1586.8,1105.0 1582.8,1100.9 1578.9,1096.8 1574.9,1092.7 1571.1,1088.7 1567.5,1084.8 1564.3,1081.3 1561.6,1078.0 1558.7,1073.7 1556.4,1069.9 1553.0,1065.6 1550.5,1063.1 1547.5,1060.4 1544.2,1057.4 1540.5,1054.3 1536.5,1051.0 1532.2,1047.7 1527.8,1044.3 1523.2,1040.9 1518.5,1037.7 1513.8,1034.5 1509.1,1031.4 1504.5,1028.6 1500.0,1026.0 1495.4,1023.6 1490.7,1021.2 1485.7,1019.0 1480.6,1016.8 1475.5,1014.8 1470.3,1012.8 1465.2,1010.9 1460.1,1009.1 1455.2,1007.5 1450.5,1005.9 1446.0,1004.4 1441.8,1003.1 1438.0,1001.8 1431.8,999.9 1426.7,998.6 1421.4,997.4 1415.0,995.6 1411.4,994.5 1407.5,993.3 1403.3,991.9 1398.8,990.5 1394.1,988.9 1389.3,987.3 1384.3,985.6 1379.1,983.9 1373.9,982.2 1368.5,980.4 1363.2,978.7 1357.8,977.0 1352.4,975.4 1347.1,973.8 1341.9,972.3 1336.8,970.9 1331.9,969.6 1327.1,968.5 1322.4,967.4 1317.7,966.4 1313.0,965.4 1308.3,964.5 1303.6,963.6 1298.9,962.7 1294.1,961.8 1289.1,960.8 1284.1,959.9 1278.9,958.8 1273.5,957.7 1268.0,956.5 1262.2,955.2 1256.3,953.8 1250.0,952.3 1246.4,951.4 1242.6,950.4 1238.7,949.4 1234.7,948.4 1230.5,947.3 1226.3,946.1 1221.9,945.0 1217.4,943.8 1212.9,942.5 1208.3,941.3 1203.5,940.0 1198.7,938.7 1193.8,937.3 1188.9,935.9 1183.9,934.5 1178.8,933.1 1173.7,931.7 1168.5,930.2 1163.2,928.7 1158.0,927.2 1152.7,925.7 1147.4,924.2 1142.0,922.7 1136.6,921.1 1131.3,919.6 1125.9,918.0 1120.5,916.4 1115.1,914.9 1109.7,913.3 1104.4,911.7 1099.0,910.2 1093.7,908.6 1088.4,907.0 1083.1,905.5 1077.9,903.9 1072.7,902.3 1067.6,900.8 1062.5,899.3 1057.5,897.8 1052.5,896.3 1047.7,894.8 1042.8,893.3 1038.1,891.9 1033.5,890.5 1028.9,889.1 1024.5,887.7 1020.1,886.3 1015.8,885.0 1011.7,883.7 1007.7,882.4 1003.8,881.2 1000.0,880.0 994.1,878.2 988.3,876.4 982.4,874.6 976.6,872.9 970.9,871.2 965.2,869.6 959.6,868.0 954.1,866.4 948.8,864.8 943.5,863.2 938.5,861.7 933.6,860.1 928.9,858.5 924.4,856.9 920.1,855.3 916.0,853.7 912.3,852.0 908.7,850.3 905.5,848.6 902.6,846.8 900.0,845.0 895.1,840.2 891.7,835.1 889.2,830.3 886.8,826.0 884.0,821.9 881.5,817.7 879.6,813.2 877.7,807.8 875.9,802.1 874.1,796.6 872.5,791.1 870.9,785.4 869.4,780.1 867.8,775.6 865.7,771.6 863.6,768.2 862.5,774.0 861.3,779.8 860.0,785.0 858.2,789.9 856.3,794.5 854.6,787.9 853.1,780.9 852.7,776.1 852.5,770.9 852.4,765.5 852.0,759.8 851.4,754.9 850.6,749.8 849.7,744.4 848.8,739.0 847.8,733.6 846.8,728.3 845.8,723.0 844.9,717.8 843.9,712.5 842.8,707.2 841.7,701.9 840.5,696.7 839.2,691.4 837.9,686.2 836.5,680.9 835.0,675.7 833.5,670.4 832.0,665.2 830.4,659.9 828.7,654.7 826.9,649.4 825.1,644.1 823.4,638.9 821.6,633.6 819.8,628.1 817.9,622.4 815.9,616.7 814.1,611.2 812.4,606.2 811.0,602.0 809.2,596.7 807.7,592.0" fill="#b553a2" stroke="#b553a2" stroke-width="2.6" stroke-linejoin="round"/>
<polygon points="344.0,57.5 346.0,400.0 347.9,670.0 351.5,850.0 351.3,1105.0 356.8,1105.0 357.5,850.0 354.5,670.0 352.5,400.0 351.0,57.5" fill="#75cdde"/>
<polygon points="350.0,866.0 352.8,866.0 356.5,865.8 359.2,865.5 362.5,865.0 366.3,864.4 370.6,863.7 375.4,862.8 380.4,861.9 385.8,861.0 391.5,860.0 397.4,859.0 403.4,858.1 409.6,857.1 415.8,856.3 422.0,855.5 425.9,855.1 430.0,854.6 434.2,854.2 438.5,853.8 442.9,853.3 447.4,852.9 452.0,852.5 456.8,852.1 461.6,851.7 466.5,851.3 471.4,850.9 476.4,850.5 481.5,850.1 486.7,849.8 491.9,849.4 497.1,849.0 502.4,848.6 507.7,848.3 513.1,847.9 518.5,847.5 523.8,847.2 529.2,846.8 534.6,846.5 540.0,846.1 545.3,845.8 550.7,845.4 556.0,845.1 561.3,844.7 566.5,844.4 571.7,844.0 576.9,843.7 582.0,843.3 587.0,843.0 592.0,842.7 597.1,842.3 602.2,842.0 607.4,841.6 612.5,841.3 617.8,841.0 623.0,840.7 628.3,840.3 633.5,840.0 638.8,839.7 644.1,839.4 649.4,839.1 654.7,838.7 659.9,838.4 665.2,838.1 670.4,837.8 675.6,837.5 680.8,837.2 686.0,836.9 691.1,836.6 696.2,836.3 701.2,836.0 706.2,835.7 711.1,835.4 715.9,835.1 720.7,834.8 725.4,834.5 730.1,834.2 734.7,833.9 739.1,833.7 743.5,833.4 747.8,833.1 752.0,832.8 758.0,832.4 763.7,831.9 769.4,831.5 774.8,831.1 780.2,830.6 785.4,830.2 790.6,829.7 795.6,829.3 800.6,828.9 805.5,828.5 810.4,828.1 815.2,827.7 820.0,827.4 824.8,827.1 829.7,826.8 834.5,826.6 839.7,826.4 844.6,826.3 849.4,826.2 854.0,826.1 858.6,826.1 863.1,826.1 867.8,826.1 872.5,826.2 877.4,826.2 882.5,826.1 888.0,826.1 893.8,826.0 900.0,825.8 903.7,825.7 907.5,825.5 911.5,825.4 915.5,825.2 919.7,825.1 924.0,824.9 928.4,824.7 932.9,824.4 937.5,824.2 942.2,824.0 947.0,823.7 951.9,823.5 956.8,823.2 961.8,822.9 966.9,822.7 972.1,822.4 977.3,822.1 982.5,821.8 987.8,821.5 993.1,821.2 998.5,820.9 1003.9,820.6 1009.3,820.3 1014.8,820.0 1020.3,819.8 1025.8,819.5 1031.2,819.2 1036.7,818.9 1042.2,818.6 1047.7,818.4 1053.2,818.1 1058.6,817.8 1064.0,817.6 1069.4,817.3 1074.8,817.1 1080.1,816.9 1085.4,816.7 1090.6,816.5 1095.8,816.3 1100.9,816.2 1106.0,816.0 1111.0,815.9 1116.1,815.7 1121.2,815.6 1126.3,815.5 1131.4,815.4 1136.6,815.3 1141.8,815.3 1147.0,815.2 1152.2,815.1 1157.4,815.1 1162.6,815.0 1167.8,815.0 1173.0,815.0 1178.3,814.9 1183.5,814.9 1188.7,814.9 1193.9,814.9 1199.2,814.9 1204.4,814.8 1209.6,814.8 1214.7,814.8 1219.9,814.8 1225.0,814.8 1230.2,814.8 1235.3,814.8 1240.3,814.8 1245.4,814.7 1250.4,814.7 1255.4,814.7 1260.4,814.7 1265.3,814.7 1270.2,814.6 1275.0,814.6 1279.8,814.5 1284.5,814.5 1289.2,814.4 1293.9,814.4 1298.5,814.3 1303.1,814.2 1307.6,814.1 1312.0,814.0 1317.6,813.9 1323.0,813.7 1328.3,813.5 1333.5,813.4 1338.5,813.2 1343.5,813.0 1348.3,812.8 1353.1,812.6 1357.9,812.4 1362.6,812.2 1367.3,812.0 1372.0,811.8 1376.6,811.6 1381.3,811.4 1386.1,811.1 1390.8,810.9 1395.6,810.7 1400.5,810.5 1405.5,810.3 1410.6,810.0 1415.8,809.8 1421.1,809.6 1426.6,809.4 1432.2,809.2 1438.0,809.0 1442.2,808.9 1446.5,808.7 1450.9,808.6 1455.2,808.4 1459.7,808.3 1464.2,808.1 1468.7,807.9 1473.3,807.8 1478.0,807.6 1482.6,807.5 1487.4,807.3 1492.1,807.1 1496.9,807.0 1501.8,806.8 1506.7,806.6 1511.6,806.5 1516.6,806.3 1521.5,806.1 1526.6,806.0 1531.6,805.8 1536.7,805.7 1541.8,805.5 1546.9,805.3 1552.1,805.2 1557.3,805.0 1562.5,804.8 1567.7,804.7 1573.0,804.5 1578.2,804.4 1583.5,804.2 1588.8,804.1 1594.1,803.9 1599.4,803.8 1604.8,803.7 1610.1,803.5 1615.4,803.4 1620.8,803.3 1626.2,803.1 1631.5,803.0 1636.9,802.9 1642.2,802.8 1647.6,802.7 1653.0,802.5 1658.3,802.4 1663.7,802.3 1669.0,802.2 1674.4,802.2 1679.7,802.1 1685.0,802.0 1689.8,801.9 1694.5,801.9 1699.3,801.8 1704.1,801.8 1708.9,801.7 1713.8,801.7 1718.6,801.6 1723.5,801.6 1728.4,801.6 1733.3,801.5 1738.2,801.5 1743.1,801.5 1748.0,801.5 1753.0,801.4 1758.0,801.4 1762.9,801.4 1767.9,801.4 1772.9,801.4 1777.9,801.4 1782.9,801.4 1787.9,801.4 1792.9,801.4 1798.0,801.4 1803.0,801.4 1808.1,801.4 1813.1,801.4 1818.2,801.4 1823.3,801.4 1828.3,801.5 1833.4,801.5 1838.5,801.5 1843.6,801.5 1848.7,801.5 1853.8,801.6 1858.9,801.6 1864.0,801.6 1869.1,801.6 1874.2,801.6 1879.3,801.7 1884.4,801.7 1889.5,801.7 1894.6,801.7 1899.7,801.7 1904.8,801.8 1909.9,801.8 1915.0,801.8 1920.1,801.8 1925.2,801.9 1930.3,801.9 1935.4,801.9 1940.5,801.9 1945.5,801.9 1950.6,801.9 1955.7,802.0 1960.8,802.0 1965.8,802.0 1970.9,802.0 1975.9,802.0 1981.0,802.0 1986.0,802.0 1991.0,802.0 1991.0,929.7 1986.0,929.9 1981.2,930.2 1976.3,930.5 1971.6,930.7 1966.8,931.0 1962.1,931.2 1957.4,931.5 1952.7,931.7 1948.0,932.0 1943.2,932.3 1938.4,932.5 1933.6,932.8 1928.6,933.0 1923.6,933.3 1918.5,933.5 1913.3,933.7 1907.9,934.0 1902.5,934.2 1896.8,934.4 1891.0,934.6 1886.8,934.7 1882.6,934.9 1878.3,935.0 1873.9,935.2 1869.5,935.3 1865.0,935.4 1860.4,935.6 1855.8,935.7 1851.1,935.8 1846.3,936.0 1841.5,936.1 1836.7,936.2 1831.8,936.3 1826.8,936.5 1821.9,936.6 1816.8,936.7 1811.8,936.8 1806.7,936.9 1801.5,937.0 1796.4,937.1 1791.2,937.3 1786.0,937.4 1780.7,937.5 1775.5,937.6 1770.2,937.7 1764.9,937.7 1759.6,937.8 1754.2,937.9 1748.9,938.0 1743.6,938.1 1738.2,938.2 1732.9,938.2 1727.5,938.3 1722.2,938.4 1716.8,938.4 1711.5,938.5 1706.2,938.5 1700.8,938.6 1695.5,938.6 1690.3,938.7 1685.0,938.7 1680.2,938.7 1675.2,938.7 1670.3,938.7 1665.2,938.7 1660.1,938.7 1655.0,938.7 1649.8,938.7 1644.5,938.6 1639.2,938.6 1633.9,938.6 1628.5,938.5 1623.2,938.4 1617.7,938.4 1612.3,938.3 1606.9,938.2 1601.4,938.2 1595.9,938.1 1590.4,938.0 1584.9,937.9 1579.4,937.8 1574.0,937.7 1568.5,937.7 1563.0,937.6 1557.6,937.5 1552.1,937.4 1546.7,937.3 1541.4,937.2 1536.0,937.2 1530.7,937.1 1525.4,937.0 1520.2,937.0 1515.0,936.9 1509.9,936.8 1504.8,936.8 1499.8,936.7 1494.9,936.7 1490.0,936.7 1485.2,936.6 1480.5,936.6 1475.8,936.6 1471.2,936.6 1466.7,936.6 1462.3,936.6 1458.0,936.7 1453.8,936.7 1449.7,936.8 1445.7,936.8 1441.8,936.9 1438.0,937.0 1431.9,937.2 1426.1,937.4 1420.5,937.6 1415.3,937.8 1410.2,938.0 1405.4,938.3 1400.6,938.6 1396.0,938.9 1391.4,939.2 1386.9,939.5 1382.4,939.8 1377.8,940.2 1373.1,940.5 1368.4,940.9 1363.4,941.2 1358.3,941.6 1353.0,942.0 1348.3,942.3 1343.6,942.7 1338.8,943.1 1334.0,943.5 1329.1,943.9 1324.2,944.4 1319.2,944.8 1314.3,945.3 1309.2,945.7 1304.2,946.2 1299.0,946.7 1293.9,947.1 1288.7,947.6 1283.5,948.1 1278.3,948.6 1273.0,949.0 1267.7,949.5 1262.3,949.9 1257.0,950.4 1251.6,950.8 1246.1,951.2 1240.7,951.6 1235.2,952.0 1229.7,952.3 1225.0,952.6 1220.3,952.8 1215.5,953.1 1210.7,953.4 1205.8,953.6 1200.9,953.9 1195.9,954.1 1190.9,954.3 1185.8,954.5 1180.8,954.8 1175.7,955.0 1170.5,955.2 1165.4,955.4 1160.3,955.6 1155.1,955.8 1149.9,955.9 1144.7,956.1 1139.6,956.3 1134.4,956.5 1129.2,956.6 1124.1,956.8 1119.0,957.0 1113.9,957.1 1108.8,957.3 1103.7,957.4 1098.7,957.6 1093.7,957.7 1088.8,957.8 1083.9,958.0 1079.0,958.1 1074.2,958.2 1069.5,958.4 1064.8,958.5 1059.3,958.6 1053.8,958.8 1048.3,958.9 1042.9,959.0 1037.5,959.1 1032.1,959.2 1026.8,959.3 1021.5,959.4 1016.3,959.5 1011.0,959.6 1005.8,959.7 1000.7,959.7 995.5,959.8 990.4,959.9 985.3,959.9 980.2,960.0 975.1,960.1 970.1,960.1 965.0,960.2 960.0,960.3 955.0,960.4 950.0,960.4 945.0,960.5 940.0,960.6 934.8,960.7 929.6,960.8 924.3,960.8 919.2,960.9 914.0,961.0 908.8,961.0 903.7,961.1 898.6,961.1 893.5,961.2 888.4,961.2 883.4,961.3 878.3,961.4 873.3,961.4 868.4,961.5 863.4,961.6 858.5,961.8 853.6,961.9 848.8,962.0 844.0,962.2 839.2,962.4 834.5,962.6 829.1,962.9 823.8,963.2 818.6,963.5 813.5,963.8 808.5,964.1 803.5,964.5 798.6,964.8 793.6,965.2 788.7,965.6 783.7,966.0 778.7,966.5 773.5,966.9 768.3,967.4 763.0,967.8 757.6,968.3 752.0,968.8 747.3,969.2 742.6,969.6 737.7,970.1 732.8,970.5 727.9,971.0 722.9,971.4 717.8,971.9 712.7,972.4 707.5,972.9 702.3,973.4 697.1,973.9 691.8,974.4 686.5,975.0 681.2,975.5 675.9,976.0 670.6,976.6 665.3,977.1 660.0,977.7 654.7,978.2 649.4,978.8 644.1,979.3 638.9,979.9 633.7,980.4 628.5,981.0 623.3,981.6 618.1,982.1 612.9,982.7 607.6,983.2 602.3,983.8 597.0,984.3 591.7,984.9 586.3,985.5 581.0,986.0 575.7,986.6 570.4,987.2 565.1,987.8 559.8,988.4 554.5,989.0 549.3,989.6 544.2,990.2 539.0,990.8 533.9,991.5 528.9,992.1 523.9,992.8 519.0,993.5 514.2,994.2 509.5,994.9 504.8,995.6 499.1,996.5 493.6,997.4 488.1,998.3 482.6,999.2 477.3,1000.1 472.0,1001.1 466.8,1002.0 461.6,1003.0 456.5,1004.0 451.5,1005.0 446.5,1006.1 441.5,1007.2 436.6,1008.3 431.7,1009.5 426.8,1010.7 422.0,1012.0 416.5,1013.5 410.7,1015.2 404.8,1017.0 398.9,1018.8 393.0,1020.7 387.2,1022.6 381.6,1024.5 376.2,1026.4 371.2,1028.3 366.7,1030.1 362.7,1031.7 359.2,1033.3 356.5,1034.7 352.7,1037.4 350.0,1040.0" fill="#75cdde" stroke="#75cdde" stroke-width="2.6" stroke-linejoin="round"/>
</g>
<rect x="457.8" y="256.5" width="462.0" height="212" rx="6.5" ry="6.5" fill="#f8f8fb" stroke="#b8b8b8" stroke-width="2.4"/>
<text font-family="'Liberation Sans', Arial, sans-serif" font-size="65" fill="#404040" x="482.8" y="346.3">X</text>
<text font-family="'Liberation Sans', Arial, sans-serif" font-size="65" fill="#404040" x="482.8" y="426.9">Y</text>
<text font-family="'Liberation Sans', Arial, sans-serif" font-size="63" font-weight="bold" fill="#3a8fd2" x="543.0" y="346.3">0.517949</text>
<text font-family="'Liberation Sans', Arial, sans-serif" font-size="63" font-weight="bold" fill="#3a8fd2" x="543.0" y="426.9">2.05224</text>
<text font-family="'Liberation Sans', Arial, sans-serif" font-size="64" font-weight="bold" fill="#3a8fd2" transform="translate(770.7,426.9) scale(0.82,1)">x10</text>
<text font-family="'Liberation Sans', Arial, sans-serif" font-size="40" font-weight="bold" fill="#3a8fd2" x="858.2" y="401.1">-5</text>
<circle cx="451.3" cy="474.7" r="12.6" fill="#fbfad6" opacity="0.9"/>
<circle cx="451.3" cy="474.7" r="9.4" fill="#262626"/>
<rect x="357.7" y="646.0" width="462.0" height="212" rx="6.5" ry="6.5" fill="#f8f8fb" stroke="#7c7c7c" stroke-width="2.4"/>
<text font-family="'Liberation Sans', Arial, sans-serif" font-size="65" fill="#404040" x="382.7" y="735.8">X</text>
<text font-family="'Liberation Sans', Arial, sans-serif" font-size="65" fill="#404040" x="382.7" y="816.4">Y</text>
<text font-family="'Liberation Sans', Arial, sans-serif" font-size="63" font-weight="bold" fill="#3a8fd2" x="442.9" y="735.8">0.0358173</text>
<text font-family="'Liberation Sans', Arial, sans-serif" font-size="63" font-weight="bold" fill="#3a8fd2" x="442.9" y="816.4">5.87204</text>
<text font-family="'Liberation Sans', Arial, sans-serif" font-size="64" font-weight="bold" fill="#3a8fd2" transform="translate(670.6,816.4) scale(0.82,1)">x10</text>
<text font-family="'Liberation Sans', Arial, sans-serif" font-size="40" font-weight="bold" fill="#3a8fd2" x="758.1" y="790.6">-10</text>
<circle cx="353.6" cy="864.6" r="12.6" fill="#fbfad6" opacity="0.9"/>
<circle cx="353.6" cy="864.6" r="9.4" fill="#262626"/>
<rect x="1389.4" y="99.2" width="559.2" height="508.9" fill="#ffffff" stroke="#868686" stroke-width="4.4"/>
<line x1="1405.9" y1="147.5" x2="1560.4" y2="147.5" stroke="#2c50a4" stroke-width="5.2" stroke-linecap="round"/>
<text font-family="'Liberation Sans', Arial, sans-serif" font-size="62.9" fill="#000" x="1571.0" y="173.8">DIZNN</text>
<line x1="1405.9" y1="230.2" x2="1560.4" y2="230.2" stroke="#6dbe46" stroke-width="5.2" stroke-linecap="round"/>
<text font-family="'Liberation Sans', Arial, sans-serif" font-size="62.9" fill="#000" x="1571.0" y="256.5">DIVPZNN1</text>
<line x1="1405.9" y1="312.9" x2="1560.4" y2="312.9" stroke="#ee2226" stroke-width="5.2" stroke-linecap="round"/>
<text font-family="'Liberation Sans', Arial, sans-serif" font-size="62.9" fill="#000" x="1571.0" y="339.2">DIVPZNN2</text>
<line x1="1405.9" y1="395.6" x2="1560.4" y2="395.6" stroke="#070707" stroke-width="3.6" stroke-linecap="round"/>
<text font-family="'Liberation Sans', Arial, sans-serif" font-size="62.9" fill="#000" x="1571.0" y="421.9">DIVPZNN3</text>
<line x1="1405.9" y1="478.3" x2="1560.4" y2="478.3" stroke="#b553a2" stroke-width="5.2" stroke-linecap="round"/>
<text font-family="'Liberation Sans', Arial, sans-serif" font-size="62.9" fill="#000" x="1571.0" y="504.6">DIVPZNN4</text>
<line x1="1405.9" y1="561.0" x2="1560.4" y2="561.0" stroke="#75cdde" stroke-width="5.2" stroke-linecap="round"/>
<text font-family="'Liberation Sans', Arial, sans-serif" font-size="62.9" fill="#000" x="1571.0" y="587.3">HEVPDIZNN</text>
<text font-family="'Liberation Sans', Arial, sans-serif" font-size="53.0" fill="#2a2a2a" stroke="#ffffff" stroke-width="1.8" text-anchor="middle" x="301.1" y="66.9">0</text>
<text font-family="'Liberation Sans', Arial, sans-serif" font-size="65.0" fill="#2a2a2a" stroke="#ffffff" stroke-width="1.8" text-anchor="middle" x="261.8" y="102.9">0</text>
<text font-family="'Liberation Mono', monospace" font-size="68.0" fill="#2a2a2a" stroke="#ffffff" stroke-width="1.8" text-anchor="middle" x="217.5" y="102.9">1</text>
<text font-family="'Liberation Mono', monospace" font-size="56.0" fill="#2a2a2a" stroke="#ffffff" stroke-width="1.2" text-anchor="middle" transform="translate(267.1,497.4) scale(1.8,1)">-</text>
<text font-family="'Liberation Mono', monospace" font-size="56.0" fill="#2a2a2a" stroke="#ffffff" stroke-width="1.8" text-anchor="middle" x="301.1" y="497.4">5</text>
<text font-family="'Liberation Sans', Arial, sans-serif" font-size="65.0" fill="#2a2a2a" stroke="#ffffff" stroke-width="1.8" text-anchor="middle" x="227.8" y="533.4">0</text>
<text font-family="'Liberation Mono', monospace" font-size="68.0" fill="#2a2a2a" stroke="#ffffff" stroke-width="1.8" text-anchor="middle" x="183.5" y="533.4">1</text>
<text font-family="'Liberation Mono', monospace" font-size="56.0" fill="#2a2a2a" stroke="#ffffff" stroke-width="1.2" text-anchor="middle" transform="translate(233.1,927.9) scale(1.8,1)">-</text>
<text font-family="'Liberation Mono', monospace" font-size="56.0" fill="#2a2a2a" stroke="#ffffff" stroke-width="1.8" text-anchor="middle" x="267.1" y="927.9">1</text>
<text font-family="'Liberation Sans', Arial, sans-serif" font-size="53.0" fill="#2a2a2a" stroke="#ffffff" stroke-width="1.8" text-anchor="middle" x="301.1" y="927.9">0</text>
<text font-family="'Liberation Sans', Arial, sans-serif" font-size="65.0" fill="#2a2a2a" stroke="#ffffff" stroke-width="1.8" text-anchor="middle" x="193.8" y="963.9">0</text>
<text font-family="'Liberation Mono', monospace" font-size="68.0" fill="#2a2a2a" stroke="#ffffff" stroke-width="1.8" text-anchor="middle" x="149.5" y="963.9">1</text>
<text font-family="'Liberation Mono', monospace" font-size="56.0" fill="#2a2a2a" stroke="#ffffff" stroke-width="1.2" text-anchor="middle" transform="translate(233.1,1358.4) scale(1.8,1)">-</text>
<text font-family="'Liberation Mono', monospace" font-size="56.0" fill="#2a2a2a" stroke="#ffffff" stroke-width="1.8" text-anchor="middle" x="267.1" y="1358.4">1</text>
<text font-family="'Liberation Mono', monospace" font-size="56.0" fill="#2a2a2a" stroke="#ffffff" stroke-width="1.8" text-anchor="middle" x="301.1" y="1358.4">5</text>
<text font-family="'Liberation Sans', Arial, sans-serif" font-size="65.0" fill="#2a2a2a" stroke="#ffffff" stroke-width="1.8" text-anchor="middle" x="193.8" y="1394.4">0</text>
<text font-family="'Liberation Mono', monospace" font-size="68.0" fill="#2a2a2a" stroke="#ffffff" stroke-width="1.8" text-anchor="middle" x="149.5" y="1394.4">1</text>
<text font-family="'Liberation Sans', Arial, sans-serif" font-size="65.0" fill="#2a2a2a" stroke="#ffffff" stroke-width="1.8" text-anchor="middle" x="346.5" y="1452.6">0</text>
<text font-family="'Liberation Mono', monospace" font-size="68.0" fill="#2a2a2a" stroke="#ffffff" stroke-width="1.8" text-anchor="middle" x="757.6" y="1452.6">2</text>
<text font-family="'Liberation Mono', monospace" font-size="68.0" fill="#2a2a2a" stroke="#ffffff" stroke-width="1.8" text-anchor="middle" x="1168.8" y="1452.6">4</text>
<text font-family="'Liberation Mono', monospace" font-size="68.0" fill="#2a2a2a" stroke="#ffffff" stroke-width="1.8" text-anchor="middle" x="1579.9" y="1452.6">6</text>
<text font-family="'Liberation Mono', monospace" font-size="68.0" fill="#2a2a2a" stroke="#ffffff" stroke-width="1.8" text-anchor="middle" x="1991.0" y="1452.6">8</text>
<text font-family="'Liberation Mono', monospace" font-size="66.0" fill="#2a2a2a" stroke="#ffffff" stroke-width="1.6" transform="translate(0,1547.7) scale(1.3,1)" x="824.06 866.16 898.95 929.55">t(s)</text>
<text font-family="'Liberation Mono', monospace" font-size="65.0" fill="#2a2a2a" stroke="#ffffff" stroke-width="1.6" transform="translate(83.2,896.0) rotate(-90) scale(1.3,1)" x="-5.32 30.28 68.74 104.56 142.58 183.18 217.23 247.41">error(t)</text>
<text font-family="'Liberation Serif', serif" font-size="86.0" fill="#141414" text-anchor="middle" x="932.5" y="1681.6" stroke="#ffffff" stroke-width="1.6" >(</text>
<text font-family="'Liberation Serif', serif" font-size="80.0" fill="#141414" text-anchor="middle" x="961.5" y="1681.6" font-weight="bold" >a</text>
<text font-family="'Liberation Serif', serif" font-size="86.0" fill="#141414" text-anchor="middle" x="991.5" y="1681.6" stroke="#ffffff" stroke-width="1.6" >)</text>
<text font-family="'Liberation Serif', serif" font-size="80.0" fill="#141414" text-anchor="middle" x="1041.5" y="1681.6" font-style="italic" >&#952;</text>
<text font-family="'Liberation Serif', serif" font-size="86.0" fill="#141414" text-anchor="middle" x="1078.5" y="1681.6" stroke="#ffffff" stroke-width="1.6" >(</text>
<text font-family="'Liberation Serif', serif" font-size="80.0" fill="#141414" text-anchor="middle" x="1108.5" y="1681.6" font-style="italic" >t</text>
<text font-family="'Liberation Serif', serif" font-size="86.0" fill="#141414" text-anchor="middle" x="1135.0" y="1681.6" stroke="#ffffff" stroke-width="1.6" >)</text>
<text font-family="'Liberation Serif', serif" font-size="80" fill="#141414" stroke="#ffffff" stroke-width="1.6" text-anchor="middle" transform="translate(1203.5,1681.6) scale(1.2,1)">=</text>
<text font-family="'Liberation Serif', serif" font-size="80.0" fill="#141414" text-anchor="middle" x="1274.0" y="1681.6" stroke="#ffffff" stroke-width="1.6" >0</text>
<line x1="299.5" y1="1945.8" x2="315.5" y2="1945.8" stroke="#333333" stroke-width="2.6"/>
<line x1="1990.5" y1="1945.8" x2="1974.5" y2="1945.8" stroke="#333333" stroke-width="2.6"/>
<line x1="299.5" y1="2579.8" x2="315.5" y2="2579.8" stroke="#333333" stroke-width="2.6"/>
<line x1="1990.5" y1="2579.8" x2="1974.5" y2="2579.8" stroke="#333333" stroke-width="2.6"/>
<line x1="299.5" y1="3213.8" x2="315.5" y2="3213.8" stroke="#333333" stroke-width="2.6"/>
<line x1="1990.5" y1="3213.8" x2="1974.5" y2="3213.8" stroke="#333333" stroke-width="2.6"/>
<line x1="299.5" y1="2072.6" x2="307.5" y2="2072.6" stroke="#333333" stroke-width="2.6"/>
<line x1="1990.5" y1="2072.6" x2="1982.5" y2="2072.6" stroke="#333333" stroke-width="2.6"/>
<line x1="299.5" y1="2199.4" x2="307.5" y2="2199.4" stroke="#333333" stroke-width="2.6"/>
<line x1="1990.5" y1="2199.4" x2="1982.5" y2="2199.4" stroke="#333333" stroke-width="2.6"/>
<line x1="299.5" y1="2326.2" x2="307.5" y2="2326.2" stroke="#333333" stroke-width="2.6"/>
<line x1="1990.5" y1="2326.2" x2="1982.5" y2="2326.2" stroke="#333333" stroke-width="2.6"/>
<line x1="299.5" y1="2453.0" x2="307.5" y2="2453.0" stroke="#333333" stroke-width="2.6"/>
<line x1="1990.5" y1="2453.0" x2="1982.5" y2="2453.0" stroke="#333333" stroke-width="2.6"/>
<line x1="299.5" y1="2706.6" x2="307.5" y2="2706.6" stroke="#333333" stroke-width="2.6"/>
<line x1="1990.5" y1="2706.6" x2="1982.5" y2="2706.6" stroke="#333333" stroke-width="2.6"/>
<line x1="299.5" y1="2833.4" x2="307.5" y2="2833.4" stroke="#333333" stroke-width="2.6"/>
<line x1="1990.5" y1="2833.4" x2="1982.5" y2="2833.4" stroke="#333333" stroke-width="2.6"/>
<line x1="299.5" y1="2960.2" x2="307.5" y2="2960.2" stroke="#333333" stroke-width="2.6"/>
<line x1="1990.5" y1="2960.2" x2="1982.5" y2="2960.2" stroke="#333333" stroke-width="2.6"/>
<line x1="299.5" y1="3087.0" x2="307.5" y2="3087.0" stroke="#333333" stroke-width="2.6"/>
<line x1="1990.5" y1="3087.0" x2="1982.5" y2="3087.0" stroke="#333333" stroke-width="2.6"/>
<line x1="722.2" y1="3230.0" x2="722.2" y2="3214.0" stroke="#333333" stroke-width="2.6"/>
<line x1="722.2" y1="1926.5" x2="722.2" y2="1942.5" stroke="#333333" stroke-width="2.6"/>
<line x1="1145.0" y1="3230.0" x2="1145.0" y2="3214.0" stroke="#333333" stroke-width="2.6"/>
<line x1="1145.0" y1="1926.5" x2="1145.0" y2="1942.5" stroke="#333333" stroke-width="2.6"/>
<line x1="1567.8" y1="3230.0" x2="1567.8" y2="3214.0" stroke="#333333" stroke-width="2.6"/>
<line x1="1567.8" y1="1926.5" x2="1567.8" y2="1942.5" stroke="#333333" stroke-width="2.6"/>
<rect x="299.5" y="1926.5" width="1691.0" height="1303.5" fill="none" stroke="#828282" stroke-width="4.6"/>
<clipPath id="cb"><rect x="296.0" y="1923.5" width="1697.5" height="1309.5"/></clipPath>
<g id="plot-b" clip-path="url(#cb)">
<polyline points="301.0,1928.0 301.1,1933.1 301.1,1938.1 301.2,1943.2 301.3,1948.2 301.3,1953.3 301.4,1958.3 301.4,1963.3 301.5,1968.3 301.6,1973.3 301.6,1978.4 301.7,1983.4 301.8,1988.4 301.8,1993.5 301.9,1998.5 301.9,2003.6 302.0,2008.6 302.1,2013.7 302.1,2018.8 302.2,2024.0 302.3,2029.1 302.3,2034.3 302.4,2039.5 302.4,2044.7 302.5,2050.0 302.6,2054.9 302.6,2059.8 302.7,2064.8 302.7,2069.7 302.8,2074.7 302.8,2079.7 302.9,2084.7 302.9,2089.8 303.0,2094.8 303.0,2099.9 303.1,2105.0 303.2,2110.1 303.2,2115.2 303.3,2120.3 303.3,2125.4 303.4,2130.6 303.4,2135.7 303.5,2140.8 303.5,2146.0 303.6,2151.1 303.6,2156.2 303.7,2161.4 303.7,2166.5 303.8,2171.6 303.8,2176.7 303.9,2181.8 303.9,2186.9 304.0,2192.0 304.0,2186.9 304.1,2181.6 304.1,2176.3 304.1,2170.9 304.2,2165.4 304.2,2159.9 304.2,2154.3 304.2,2148.7 304.2,2143.1 304.2,2137.5 304.2,2131.9 304.2,2126.3 304.2,2120.7 304.2,2115.2 304.2,2109.7 304.3,2104.4 304.3,2099.1 304.3,2093.9 304.4,2088.8 304.5,2083.8 304.5,2079.0 304.6,2074.3 304.7,2069.8 304.8,2065.4 305.0,2061.2 305.1,2057.3 305.3,2053.5 305.5,2050.0 306.0,2042.9 306.5,2035.7 307.0,2028.8 307.6,2022.7 308.3,2017.9 308.9,2014.6 309.5,2013.4 310.8,2017.2 312.0,2025.0 312.4,2028.3 312.7,2032.3 313.0,2036.6 313.2,2041.4 313.5,2046.6 313.7,2051.9 313.9,2057.5 314.1,2063.1 314.3,2068.7 314.5,2074.3 314.7,2079.8 315.0,2085.0 315.3,2089.9 315.6,2094.7 315.9,2099.5 316.2,2104.3 316.5,2109.1 316.8,2114.0 317.2,2118.9 317.5,2123.8 317.8,2128.8 318.1,2133.9 318.4,2139.2 318.7,2144.5 319.0,2150.0 319.2,2154.6 319.4,2159.3 319.7,2164.1 319.9,2168.9 320.1,2173.9 320.3,2178.9 320.5,2184.0 320.7,2189.1 320.9,2194.3 321.1,2199.6 321.3,2204.8 321.5,2210.1 321.6,2215.4 321.8,2220.7 322.0,2226.0 322.2,2231.2 322.4,2236.5 322.6,2241.7 322.8,2246.9 323.0,2252.0 323.2,2246.8 323.5,2241.5 323.7,2236.2 323.8,2230.8 324.0,2225.3 324.2,2219.9 324.4,2214.4 324.6,2209.0 324.8,2203.7 325.0,2198.4 325.2,2193.3 325.5,2188.3 325.8,2183.4 326.2,2178.7 326.6,2174.3 327.0,2170.0 327.8,2163.2 328.6,2156.0 329.4,2148.9 330.4,2142.5 331.4,2137.2 332.5,2133.5 333.7,2132.0 335.8,2134.0 338.0,2138.0 340.3,2143.7 342.5,2150.8 343.8,2155.3 345.2,2160.3 346.7,2165.7 348.2,2171.5 349.7,2177.5 351.2,2183.7 352.3,2188.2 353.5,2192.9 354.7,2197.8 355.9,2202.9 357.1,2208.0 358.3,2213.2 359.5,2218.5 360.7,2223.8 361.8,2229.2 362.9,2234.5 364.0,2239.7 364.9,2244.6 365.8,2249.6 366.7,2254.6 367.6,2259.6 368.4,2264.6 369.2,2269.6 370.0,2274.6 370.7,2279.7 371.5,2284.8 372.3,2289.8 373.2,2294.9 374.0,2300.0 374.9,2305.2 375.8,2310.5 376.7,2315.8 377.6,2321.1 378.6,2326.4 379.5,2331.8 380.4,2337.1 381.3,2342.4 382.2,2347.7 383.1,2352.9 384.0,2358.1 384.8,2363.3 385.6,2368.6 386.4,2373.8 387.2,2378.9 387.9,2384.0 388.7,2389.1 389.4,2394.2 390.1,2399.3 390.9,2404.4 391.6,2409.6 392.3,2414.7 393.0,2420.0 393.7,2425.2 394.3,2430.7 395.0,2436.4 395.6,2442.2 396.3,2447.9 396.9,2453.7 397.6,2459.3 398.2,2464.7 398.9,2469.8 399.6,2474.6 400.3,2478.9 401.0,2482.8 402.6,2489.4 404.3,2494.7 406.0,2500.0" fill="none" stroke="#2c50a4" stroke-width="4.8" stroke-linejoin="round" stroke-linecap="round"/>
<polygon points="405.4,2500.0 405.6,2506.4 405.6,2513.1 406.0,2519.2 407.0,2524.0 409.1,2527.4 412.0,2530.0 415.7,2532.5 420.4,2534.8 426.0,2536.5 430.0,2537.1 434.4,2537.2 439.3,2537.1 444.4,2536.8 449.9,2536.5 455.5,2536.2 461.2,2536.2 467.0,2536.5 471.4,2537.0 475.9,2537.6 480.4,2538.3 485.1,2539.1 489.8,2540.0 494.7,2541.0 499.6,2542.0 504.6,2543.1 509.7,2544.2 515.0,2545.2 520.3,2546.3 525.8,2547.2 531.3,2548.2 537.0,2549.0 541.5,2549.6 546.1,2550.2 550.8,2550.8 555.6,2551.4 560.5,2552.0 565.5,2552.6 570.6,2553.2 575.7,2553.7 580.9,2554.3 586.1,2554.9 591.4,2555.4 596.8,2555.9 602.1,2556.4 607.5,2557.0 612.9,2557.4 618.3,2557.9 623.8,2558.4 629.2,2558.8 634.6,2559.2 639.9,2559.6 645.3,2560.0 650.6,2560.4 655.8,2560.7 661.0,2561.0 666.2,2561.3 671.4,2561.5 676.7,2561.8 682.0,2562.0 687.4,2562.2 692.8,2562.3 698.2,2562.5 703.6,2562.6 709.0,2562.7 714.4,2562.8 719.8,2562.9 725.2,2562.9 730.5,2563.0 735.8,2563.0 741.0,2563.1 746.2,2563.1 751.3,2563.1 756.4,2563.1 761.3,2563.2 766.2,2563.2 770.9,2563.2 775.6,2563.2 780.1,2563.3 784.5,2563.3 790.2,2563.4 795.8,2563.4 801.1,2563.5 806.3,2563.5 811.4,2563.5 816.3,2563.6 821.2,2563.6 826.1,2563.6 830.8,2563.6 835.6,2563.5 840.4,2563.5 845.2,2563.4 850.0,2563.3 855.5,2563.2 861.0,2563.0 866.7,2562.9 872.3,2562.7 877.9,2562.5 883.3,2562.3 888.7,2562.0 893.8,2561.7 898.8,2561.4 903.4,2560.9 907.7,2560.4 913.2,2559.6 918.1,2558.7 922.6,2557.7 927.3,2556.5 932.4,2555.0 937.1,2553.4 942.1,2551.4 947.3,2549.2 952.6,2546.8 958.0,2544.5 963.3,2542.2 968.6,2540.2 973.6,2538.6 979.3,2537.0 984.9,2535.6 990.4,2534.3 995.9,2533.4 1001.3,2532.7 1006.6,2532.4 1012.2,2532.6 1017.4,2533.5 1022.7,2534.6 1028.5,2535.7 1035.4,2536.5 1039.1,2536.8 1043.2,2537.0 1047.5,2537.1 1052.1,2537.2 1057.0,2537.3 1062.0,2537.3 1067.2,2537.3 1072.6,2537.3 1078.1,2537.3 1083.7,2537.2 1089.4,2537.2 1095.1,2537.2 1100.8,2537.2 1106.4,2537.3 1112.1,2537.4 1117.6,2537.5 1123.1,2537.7 1128.4,2537.9 1133.5,2538.2 1138.5,2538.6 1143.9,2539.1 1149.3,2539.7 1154.6,2540.3 1159.8,2541.0 1165.0,2541.8 1170.1,2542.6 1175.2,2543.4 1180.3,2544.3 1185.4,2545.2 1190.4,2546.1 1195.5,2546.9 1200.5,2547.8 1205.6,2548.7 1210.7,2549.5 1215.8,2550.3 1220.9,2551.0 1226.0,2551.7 1231.0,2552.4 1236.0,2553.2 1240.9,2553.9 1245.8,2554.6 1250.7,2555.3 1255.6,2556.1 1260.6,2556.8 1265.6,2557.4 1270.6,2558.1 1275.8,2558.7 1281.0,2559.3 1286.4,2559.9 1291.8,2560.4 1297.5,2560.9 1303.3,2561.3 1307.7,2561.6 1312.2,2561.8 1316.8,2562.1 1321.5,2562.3 1326.3,2562.5 1331.1,2562.7 1336.1,2562.8 1341.1,2562.9 1346.2,2563.1 1351.3,2563.1 1356.5,2563.2 1361.7,2563.3 1367.0,2563.4 1372.3,2563.4 1377.6,2563.4 1382.9,2563.4 1388.2,2563.5 1393.5,2563.5 1398.9,2563.5 1404.2,2563.4 1409.4,2563.4 1414.7,2563.4 1419.9,2563.4 1425.1,2563.4 1430.2,2563.4 1435.2,2563.3 1440.2,2563.3 1445.2,2563.3 1450.0,2563.3 1455.5,2563.3 1461.0,2563.3 1466.6,2563.4 1472.2,2563.5 1477.8,2563.5 1483.4,2563.6 1489.0,2563.7 1494.5,2563.8 1500.1,2563.9 1505.6,2563.9 1511.1,2564.0 1516.5,2564.0 1521.8,2564.0 1527.1,2563.9 1532.3,2563.8 1537.4,2563.7 1542.4,2563.6 1547.3,2563.3 1552.1,2563.1 1556.8,2562.7 1561.3,2562.3 1565.7,2561.8 1569.9,2561.3 1575.6,2560.4 1581.0,2559.3 1586.2,2558.1 1591.1,2556.8 1595.9,2555.5 1600.5,2554.0 1605.1,2552.6 1609.6,2551.1 1614.1,2549.6 1618.7,2548.2 1623.4,2546.8 1628.5,2545.3 1633.6,2543.6 1638.7,2541.8 1643.8,2540.0 1648.9,2538.2 1653.9,2536.5 1658.9,2535.1 1663.7,2533.8 1668.4,2532.9 1673.0,2532.4 1678.6,2532.4 1683.7,2533.1 1688.6,2534.1 1693.7,2535.4 1699.3,2536.5 1705.9,2537.4 1709.5,2537.7 1713.5,2537.9 1717.7,2538.1 1722.1,2538.3 1726.8,2538.4 1731.7,2538.5 1736.7,2538.5 1741.9,2538.6 1747.2,2538.6 1752.6,2538.6 1758.1,2538.7 1763.6,2538.7 1769.2,2538.7 1774.8,2538.8 1780.3,2538.8 1785.8,2538.9 1791.3,2539.1 1796.6,2539.2 1801.8,2539.4 1806.9,2539.6 1811.8,2539.9 1816.5,2540.3 1821.0,2540.7 1826.5,2541.3 1831.9,2542.1 1837.0,2542.9 1842.0,2543.8 1846.9,2544.7 1851.7,2545.7 1856.5,2546.7 1861.2,2547.7 1866.0,2548.7 1870.8,2549.6 1875.7,2550.6 1880.7,2551.5 1885.9,2552.3 1891.3,2553.0 1896.1,2553.6 1901.0,2554.1 1906.0,2554.6 1911.1,2555.1 1916.3,2555.5 1921.5,2555.9 1926.7,2556.3 1932.0,2556.7 1937.4,2557.0 1942.7,2557.4 1948.1,2557.7 1953.5,2558.0 1958.9,2558.3 1964.3,2558.7 1969.7,2559.0 1975.1,2559.3 1980.4,2559.7 1985.7,2560.0 1991.0,2560.4 1991.0,2697.2 1985.9,2696.7 1980.8,2696.2 1975.5,2695.7 1970.2,2695.1 1964.9,2694.6 1959.5,2694.1 1954.0,2693.6 1948.6,2693.1 1943.1,2692.5 1937.7,2692.0 1932.2,2691.5 1926.8,2691.0 1921.3,2690.5 1916.0,2690.0 1910.6,2689.4 1905.3,2688.9 1900.1,2688.4 1895.0,2687.9 1889.9,2687.4 1885.0,2686.9 1880.1,2686.3 1875.4,2685.8 1870.8,2685.3 1866.3,2684.8 1862.0,2684.3 1857.8,2683.8 1853.8,2683.3 1850.0,2682.8 1844.1,2681.9 1838.6,2681.1 1833.6,2680.2 1828.9,2679.3 1824.3,2678.4 1819.9,2677.6 1815.4,2676.7 1810.7,2676.0 1805.8,2675.2 1800.6,2674.6 1795.7,2674.1 1790.7,2673.8 1785.5,2673.5 1780.2,2673.4 1774.7,2673.2 1769.2,2673.1 1763.7,2673.0 1758.1,2672.9 1752.6,2672.7 1747.2,2672.5 1741.8,2672.2 1736.5,2671.7 1731.4,2671.2 1726.5,2670.5 1721.3,2669.4 1716.1,2668.0 1711.1,2666.4 1706.2,2664.5 1701.4,2662.7 1696.6,2660.9 1691.8,2659.2 1687.1,2657.8 1682.4,2656.7 1677.7,2656.1 1673.0,2656.0 1668.0,2656.6 1663.0,2657.7 1658.1,2659.3 1653.3,2661.3 1648.4,2663.5 1643.6,2665.9 1638.7,2668.3 1633.7,2670.6 1628.6,2672.7 1623.4,2674.6 1618.6,2676.1 1613.8,2677.7 1609.0,2679.2 1604.2,2680.7 1599.3,2682.2 1594.4,2683.7 1589.3,2685.1 1584.2,2686.4 1578.8,2687.7 1573.3,2688.9 1567.6,2690.0 1561.6,2691.0 1557.3,2691.6 1552.8,2692.2 1548.3,2692.7 1543.6,2693.2 1538.8,2693.7 1533.9,2694.1 1528.9,2694.4 1523.8,2694.7 1518.7,2695.0 1513.5,2695.3 1508.2,2695.5 1502.9,2695.7 1497.5,2695.9 1492.1,2696.0 1486.7,2696.2 1481.2,2696.3 1475.8,2696.4 1470.3,2696.5 1464.9,2696.6 1459.4,2696.7 1454.0,2696.8 1448.6,2697.0 1443.3,2697.1 1438.0,2697.2 1432.9,2697.3 1427.7,2697.5 1422.5,2697.6 1417.3,2697.7 1412.0,2697.8 1406.6,2697.9 1401.3,2698.1 1395.9,2698.2 1390.5,2698.3 1385.1,2698.3 1379.7,2698.4 1374.3,2698.5 1368.9,2698.5 1363.6,2698.6 1358.2,2698.6 1352.9,2698.6 1347.7,2698.5 1342.5,2698.5 1337.3,2698.4 1332.2,2698.3 1327.2,2698.2 1322.2,2698.1 1317.4,2697.9 1312.6,2697.7 1307.9,2697.5 1303.3,2697.2 1297.6,2696.8 1292.0,2696.4 1286.6,2695.9 1281.3,2695.4 1276.1,2694.8 1270.9,2694.2 1265.9,2693.6 1260.9,2692.9 1255.9,2692.2 1250.9,2691.5 1246.0,2690.8 1241.1,2690.1 1236.1,2689.3 1231.1,2688.5 1226.1,2687.8 1221.0,2687.0 1215.8,2686.2 1210.7,2685.3 1205.5,2684.4 1200.4,2683.4 1195.2,2682.4 1190.1,2681.4 1184.9,2680.4 1179.8,2679.4 1174.6,2678.4 1169.5,2677.4 1164.3,2676.4 1159.2,2675.5 1154.0,2674.6 1148.8,2673.8 1143.7,2673.1 1138.5,2672.5 1133.3,2672.0 1128.0,2671.6 1122.7,2671.3 1117.3,2671.0 1111.9,2670.8 1106.5,2670.7 1101.1,2670.6 1095.7,2670.5 1090.4,2670.4 1085.1,2670.3 1079.9,2670.2 1074.9,2670.0 1069.9,2669.7 1065.1,2669.4 1060.5,2668.9 1056.0,2668.4 1050.3,2667.4 1044.9,2666.1 1039.7,2664.6 1034.6,2663.1 1029.7,2661.6 1024.9,2660.2 1020.2,2659.0 1015.5,2658.3 1010.7,2658.0 1005.2,2658.2 999.9,2659.0 994.6,2660.0 989.4,2661.4 984.2,2662.9 978.9,2664.6 973.6,2666.3 968.6,2668.0 963.8,2670.0 958.9,2672.2 954.1,2674.5 949.1,2676.7 943.9,2678.9 938.3,2681.0 932.4,2682.8 928.0,2683.9 923.2,2685.0 918.1,2686.0 912.8,2687.0 907.2,2687.9 901.6,2688.8 895.8,2689.7 890.0,2690.5 884.3,2691.2 878.7,2691.9 873.2,2692.6 867.9,2693.2 862.9,2693.8 858.2,2694.3 853.9,2694.8 850.0,2695.2 843.4,2695.9 838.1,2696.3 832.8,2696.7 825.7,2697.0 822.4,2697.1 818.7,2697.3 814.6,2697.4 810.3,2697.6 805.7,2697.7 800.9,2697.9 795.9,2698.0 790.6,2698.2 785.2,2698.3 779.7,2698.4 774.0,2698.5 768.2,2698.7 762.4,2698.8 756.6,2698.9 750.7,2699.0 744.9,2699.0 739.1,2699.1 733.4,2699.2 727.8,2699.2 722.3,2699.3 716.9,2699.3 711.7,2699.3 706.8,2699.3 702.0,2699.3 696.4,2699.3 690.9,2699.3 685.5,2699.2 680.2,2699.2 675.0,2699.2 669.9,2699.1 664.8,2699.1 659.8,2699.0 654.8,2698.9 649.8,2698.7 644.8,2698.6 639.9,2698.3 634.9,2698.1 629.9,2697.8 624.8,2697.4 619.7,2697.0 614.5,2696.5 609.3,2696.0 604.0,2695.4 598.7,2694.7 593.4,2694.1 588.1,2693.3 582.8,2692.6 577.6,2691.8 572.3,2691.0 567.1,2690.1 561.9,2689.3 556.8,2688.4 551.7,2687.5 546.7,2686.7 541.8,2685.8 537.0,2685.0 531.5,2683.9 526.1,2682.7 520.7,2681.4 515.4,2680.1 510.1,2678.7 504.9,2677.3 499.8,2676.1 494.8,2674.9 489.8,2674.0 484.9,2673.2 480.1,2672.7 475.4,2672.5 469.6,2672.7 464.0,2673.4 458.6,2674.4 453.2,2675.6 447.9,2676.9 442.7,2678.3 437.4,2679.6 432.0,2680.8 428.0,2705.5 425.9,2703.0 424.0,2700.0 423.0,2695.0 422.6,2688.6 421.9,2680.8 421.4,2677.3 420.9,2673.4 420.2,2669.2 419.5,2664.6 418.7,2659.8 417.9,2654.8 417.0,2649.6 416.1,2644.2 415.2,2638.7 414.4,2633.1 413.5,2627.5 412.7,2621.8 411.9,2616.2 411.2,2610.7 410.6,2605.3 410.0,2600.0 409.5,2595.1 409.1,2590.2 408.8,2585.3 408.4,2580.4 408.1,2575.4 407.9,2570.4 407.6,2565.4 407.4,2560.4 407.2,2555.3 407.0,2550.3 406.8,2545.2 406.6,2540.2 406.5,2535.1 406.3,2530.1 406.1,2525.1 405.9,2520.0 405.6,2515.0 405.4,2510.0" fill="#2c50a4" stroke="#2c50a4" stroke-width="2.6" stroke-linejoin="round"/>
<polyline points="302.9,1947.5 304.0,1953.0 305.1,1958.4 306.3,1963.9 307.4,1969.3 308.5,1974.8 309.6,1980.4 310.6,1986.0 311.5,1991.3 312.4,1996.6 313.2,2001.9 314.0,2007.2 314.8,2012.7 315.6,2018.3 316.3,2024.0 317.0,2030.0 317.5,2034.6 318.0,2039.3 318.5,2044.0 319.0,2048.9 319.5,2053.8 320.0,2058.8 320.4,2063.9 320.9,2069.0 321.3,2074.3 321.7,2079.6 322.0,2084.9 322.4,2090.3 322.7,2095.8 322.9,2100.6 323.2,2105.4 323.4,2110.4 323.5,2115.4 323.7,2120.5 323.8,2125.7 323.9,2130.9 324.0,2136.1 324.1,2141.4 324.2,2146.7 324.3,2152.0 324.4,2157.3 324.4,2162.7 324.5,2168.0 324.6,2173.3 324.7,2178.6 324.8,2183.8 324.9,2189.0 325.1,2183.9 325.2,2178.7 325.4,2173.4 325.5,2168.0 325.7,2162.5 325.8,2157.0 326.0,2151.4 326.1,2145.8 326.3,2140.3 326.4,2134.7 326.5,2129.1 326.7,2123.6 326.8,2118.2 327.0,2112.8 327.1,2107.5 327.3,2102.3 327.5,2097.3 327.7,2092.4 327.9,2087.6 328.1,2083.0 328.3,2078.6 328.5,2074.3 328.8,2070.3 329.0,2066.5 329.3,2063.0 329.8,2056.1 330.3,2049.9 330.9,2044.3 331.5,2039.2 332.4,2034.5 333.7,2030.0 336.0,2023.8 338.8,2018.5 342.5,2014.5 347.6,2012.2 353.5,2011.1 359.0,2011.2 364.8,2013.2 370.0,2016.7 373.8,2019.9 377.4,2023.7 381.0,2027.7 384.7,2031.9 388.4,2036.4 392.0,2041.0 395.8,2046.4 399.6,2052.1 403.0,2057.4 406.4,2062.7 409.5,2068.4 411.5,2073.0 413.4,2078.3 415.4,2084.0 417.4,2089.9 419.4,2095.8 421.3,2101.1 423.2,2106.5 425.1,2112.1 427.0,2117.6 428.8,2123.2 430.4,2128.8 431.8,2134.2 433.0,2139.7 434.2,2145.1 435.3,2150.6 436.6,2156.2 438.0,2161.8 439.4,2166.5 440.9,2171.3 442.4,2176.1 444.1,2181.0 445.7,2185.9 447.4,2190.8 449.1,2195.6 450.7,2200.5 452.3,2195.4 454.0,2190.2 456.0,2185.0 458.2,2180.2 460.7,2175.3 463.5,2170.3 467.0,2165.5 470.4,2161.3 474.2,2156.7 478.3,2152.2 482.8,2148.1 487.3,2144.8 492.0,2142.8 497.3,2142.0 502.9,2142.5 508.6,2143.9 514.6,2146.1 520.8,2149.0 524.2,2150.9 527.8,2153.0 531.4,2155.5 535.1,2158.3 538.9,2161.3 542.8,2164.5 546.7,2168.0 550.6,2171.5 554.6,2175.2 558.6,2179.0 562.6,2182.9 566.6,2186.8 570.6,2190.7 574.6,2194.6 578.5,2198.5 581.8,2201.7 585.2,2205.0 588.6,2208.4 592.0,2211.8 595.4,2215.2 598.9,2218.7 602.4,2222.3 605.9,2225.9 609.4,2229.5 612.9,2233.2 616.4,2236.9 619.8,2240.7 623.2,2244.6 626.6,2248.4 629.9,2252.4 633.2,2256.3 636.4,2260.3 639.5,2264.4 642.6,2268.5 645.6,2272.6 648.5,2276.8 651.2,2280.8 653.8,2285.0 656.3,2289.1 658.8,2293.4 661.2,2297.6 663.5,2302.0 665.8,2306.3 668.0,2310.8 670.3,2315.2 672.4,2319.7 674.6,2324.3 676.7,2328.8 678.8,2333.4 680.9,2338.0 682.9,2342.6 685.0,2347.3 687.1,2351.9 689.2,2356.6 691.3,2361.3 693.4,2366.0 695.6,2370.7 697.8,2375.3 700.0,2380.0 702.1,2384.5 704.3,2389.0 706.4,2393.6 708.6,2398.2 710.8,2402.9 712.9,2407.7 715.1,2412.5 717.3,2417.3 719.5,2422.1 721.7,2427.0 723.9,2431.8 726.1,2436.6 728.2,2441.5 730.4,2446.3 732.6,2451.1 734.7,2455.8 736.9,2460.5 739.0,2465.1 741.2,2469.7 743.3,2474.3 745.4,2478.7 747.5,2483.1 749.5,2487.3 751.6,2491.5 753.6,2495.6 755.6,2499.5 758.2,2504.5 760.8,2509.4 763.4,2514.2 765.9,2518.9 768.5,2523.5 771.0,2528.0 773.5,2532.4 776.0,2536.7 778.4,2541.0 780.9,2545.1 783.3,2549.3 785.7,2553.4 788.0,2557.4 790.4,2561.4 792.7,2565.4 795.6,2570.3 798.4,2575.0 801.1,2579.7 803.8,2584.2 806.5,2588.6 809.2,2593.0 811.8,2597.4 814.5,2601.9 817.2,2606.4 820.0,2611.0 822.7,2615.5 825.5,2620.1 828.3,2624.8 831.2,2629.6 834.0,2634.3 836.9,2639.1 839.7,2643.7 842.4,2648.3 845.1,2652.7 847.6,2657.0 850.0,2661.0 853.1,2666.3 856.0,2671.2 858.8,2676.0 861.5,2680.6 864.2,2685.3 867.0,2690.0" fill="none" stroke="#6dbe46" stroke-width="4.8" stroke-linejoin="round" stroke-linecap="round"/>
<polygon points="868.4,2690.0 871.5,2694.4 874.7,2698.9 877.8,2703.4 880.9,2707.9 884.1,2712.3 887.2,2716.7 890.3,2720.9 893.4,2725.0 897.1,2729.8 900.8,2734.4 904.5,2739.0 908.2,2743.4 911.8,2747.5 915.4,2751.4 919.7,2756.0 923.9,2760.3 928.0,2764.1 931.9,2766.8 936.3,2767.9 940.7,2769.0 944.2,2771.4 948.0,2774.8 952.0,2778.7 956.0,2782.8 960.0,2786.6 964.1,2790.1 968.3,2793.5 972.5,2796.9 976.6,2800.7 980.4,2805.0 983.3,2809.3 985.9,2814.1 988.3,2819.3 990.7,2824.6 993.2,2829.9 995.9,2835.1 999.0,2840.0 1002.1,2844.2 1005.5,2848.3 1009.1,2852.4 1012.8,2856.4 1016.6,2860.3 1020.4,2864.0 1024.1,2867.6 1027.8,2871.0 1031.9,2874.7 1036.0,2878.2 1040.2,2881.5 1044.3,2884.7 1048.4,2887.7 1052.5,2890.6 1057.0,2893.6 1061.4,2896.3 1065.9,2898.9 1070.4,2901.5 1075.0,2904.0 1079.8,2906.7 1084.5,2909.4 1089.4,2912.1 1094.5,2914.5 1100.0,2916.8 1104.6,2918.4 1109.4,2919.9 1114.4,2921.3 1119.6,2922.6 1124.9,2923.8 1130.3,2924.8 1135.6,2925.7 1140.9,2926.4 1146.2,2926.9 1151.5,2927.4 1156.9,2927.6 1162.3,2927.7 1167.7,2927.6 1173.1,2927.4 1178.6,2927.0 1184.0,2926.4 1189.1,2925.6 1194.1,2924.6 1199.2,2923.3 1204.3,2921.9 1209.4,2920.4 1214.5,2918.9 1219.6,2917.3 1224.7,2915.8 1229.8,2914.4 1234.5,2916.2 1239.0,2918.0 1243.4,2919.8 1247.9,2921.6 1252.5,2923.4 1257.4,2925.2 1262.6,2927.0 1268.3,2928.8 1272.4,2929.9 1276.9,2931.0 1281.7,2932.1 1286.8,2933.1 1292.2,2934.1 1297.7,2935.2 1303.4,2936.2 1309.1,2937.2 1314.9,2938.2 1320.7,2939.2 1326.5,2940.3 1332.1,2941.3 1337.6,2942.5 1342.8,2943.7 1347.9,2944.9 1352.6,2946.2 1356.9,2947.5 1360.9,2949.0 1364.4,2950.5 1369.6,2953.4 1373.8,2956.4 1377.4,2959.6 1380.9,2962.9 1384.4,2966.3 1388.5,2969.7 1392.7,2972.8 1397.1,2976.1 1401.7,2979.5 1406.4,2982.9 1411.1,2986.3 1415.8,2989.6 1420.2,2992.9 1424.5,2996.0 1428.7,2999.3 1432.4,3002.3 1436.0,3005.3 1439.8,3008.3 1444.4,3011.5 1450.0,3015.0 1452.8,3016.6 1455.8,3018.2 1458.9,3020.0 1462.3,3021.7 1465.8,3023.6 1469.5,3025.5 1473.3,3027.4 1477.3,3029.4 1481.4,3031.4 1485.7,3033.4 1490.1,3035.5 1494.6,3037.6 1499.2,3039.7 1504.0,3041.9 1508.8,3044.1 1513.7,3046.3 1518.8,3048.5 1523.9,3050.7 1529.1,3052.9 1534.3,3055.1 1539.6,3057.3 1545.0,3059.4 1550.4,3061.6 1555.8,3063.8 1561.3,3065.9 1566.8,3068.0 1572.3,3070.1 1577.9,3072.2 1583.4,3074.2 1589.0,3076.2 1594.5,3078.1 1600.0,3080.0 1604.1,3081.4 1608.3,3082.8 1612.6,3084.1 1616.9,3085.5 1621.2,3086.8 1625.6,3088.2 1630.0,3089.5 1634.5,3090.8 1639.1,3092.1 1643.6,3093.4 1648.2,3094.7 1652.9,3096.0 1657.6,3097.2 1662.3,3098.5 1667.1,3099.8 1671.9,3101.0 1676.7,3102.2 1681.6,3103.5 1686.5,3104.7 1691.4,3105.9 1696.4,3107.2 1701.4,3108.4 1706.4,3109.6 1711.4,3110.8 1716.4,3112.0 1721.5,3113.2 1726.6,3114.4 1731.7,3115.6 1736.8,3116.8 1741.9,3117.9 1747.1,3119.1 1752.2,3120.3 1757.4,3121.5 1762.5,3122.7 1767.7,3123.8 1772.9,3125.0 1778.1,3126.2 1783.3,3127.4 1788.4,3128.5 1793.6,3129.7 1798.8,3130.9 1804.0,3132.1 1809.1,3133.2 1814.3,3134.4 1819.4,3135.6 1824.6,3136.8 1829.7,3138.0 1834.8,3139.1 1839.9,3140.3 1845.0,3141.5 1850.1,3142.7 1855.1,3143.9 1860.1,3145.1 1865.1,3146.3 1870.1,3147.6 1875.1,3148.8 1880.0,3150.0 1880.0,3150.0 1879.2,3155.4 1878.7,3161.1 1878.4,3166.9 1878.1,3172.8 1877.7,3178.6 1877.1,3184.2 1876.2,3189.5 1874.9,3194.5 1873.1,3199.0 1870.7,3202.9 1867.5,3206.3 1863.8,3209.1 1859.6,3211.6 1854.9,3213.7 1850.0,3215.5 1844.9,3217.1 1839.7,3218.5 1834.6,3220.0 1829.5,3221.4 1824.5,3222.8 1819.2,3224.1 1813.8,3225.3 1808.2,3226.3 1802.6,3227.2 1797.1,3228.0 1791.6,3228.6 1786.2,3229.1 1781.0,3229.5 1776.0,3229.7 1770.5,3229.7 1765.1,3229.6 1760.0,3229.2 1754.9,3228.7 1749.9,3228.0 1745.0,3227.1 1740.0,3226.0 1735.0,3224.8 1730.0,3223.4 1725.1,3221.9 1720.3,3220.2 1715.4,3218.2 1710.6,3215.9 1705.9,3213.2 1701.6,3210.4 1697.2,3207.4 1692.7,3204.0 1688.3,3200.4 1684.0,3196.6 1679.9,3192.7 1675.9,3188.6 1672.2,3184.4 1668.8,3180.2 1665.8,3176.0 1663.2,3171.7 1660.8,3167.1 1658.5,3162.5 1656.4,3157.8 1654.4,3153.1 1652.3,3148.3 1650.2,3143.6 1648.0,3139.0 1607.0,3135.0 1603.9,3140.2 1600.9,3145.3 1597.8,3150.5 1594.6,3155.5 1591.2,3160.6 1587.8,3165.7 1584.1,3170.6 1580.0,3175.0 1575.6,3178.9 1570.9,3182.3 1565.8,3185.4 1560.0,3188.0 1555.8,3189.5 1551.2,3190.7 1546.3,3191.8 1541.2,3192.7 1536.0,3193.5 1530.7,3194.0 1525.5,3194.4 1520.4,3194.6 1515.4,3194.6 1510.3,3194.5 1505.3,3194.2 1500.2,3193.7 1495.1,3193.0 1490.1,3192.1 1485.0,3191.1 1480.0,3190.0 1474.7,3188.6 1469.3,3186.9 1463.9,3185.0 1458.5,3183.0 1453.2,3180.8 1448.0,3178.6 1442.9,3176.3 1438.0,3174.0 1433.2,3171.7 1428.5,3169.3 1424.1,3166.9 1419.7,3164.4 1415.3,3161.7 1410.8,3158.8 1406.3,3155.5 1402.7,3152.5 1399.1,3149.1 1395.6,3145.3 1392.2,3141.4 1388.6,3137.3 1385.0,3133.2 1381.4,3129.2 1377.6,3125.4 1373.6,3121.9 1369.4,3118.9 1365.0,3116.3 1360.5,3114.4 1355.7,3112.8 1350.6,3111.6 1345.3,3110.7 1340.0,3110.0 1334.5,3109.5 1329.0,3109.0 1323.6,3108.6 1318.2,3108.2 1313.0,3107.6 1308.0,3106.9 1303.3,3106.0 1297.7,3104.6 1292.2,3103.2 1286.9,3101.8 1281.7,3100.3 1276.7,3098.7 1271.7,3097.1 1266.8,3095.4 1262.0,3093.7 1257.0,3091.7 1252.2,3089.4 1247.5,3087.1 1242.9,3084.7 1238.2,3082.6 1233.6,3080.7 1229.0,3079.3 1223.1,3078.4 1217.3,3078.3 1211.4,3078.5 1205.7,3078.3 1200.0,3077.2 1195.1,3075.2 1190.4,3072.5 1185.8,3069.3 1181.1,3066.1 1176.4,3063.1 1171.4,3060.7 1166.1,3059.1 1160.7,3058.1 1155.1,3057.4 1149.5,3056.5 1143.9,3055.0 1138.5,3052.5 1134.8,3050.0 1130.9,3046.8 1127.0,3043.0 1123.0,3038.8 1119.0,3034.4 1115.1,3029.8 1111.3,3025.2 1107.8,3020.7 1104.5,3016.5 1101.6,3012.8 1099.1,3009.5 1097.0,3007.0 1094.1,3003.4 1091.6,3000.0 1089.4,2996.6 1086.8,2992.6 1084.0,2988.0 1081.1,2983.3 1078.0,2978.5 1075.0,2974.0 1071.8,2969.5 1068.4,2965.0 1065.0,2960.5 1061.5,2956.1 1058.0,2951.7 1054.5,2947.3 1051.2,2943.1 1047.9,2938.9 1044.7,2934.8 1041.3,2930.6 1037.8,2926.6 1034.0,2922.5 1030.4,2919.1 1026.6,2915.7 1022.5,2912.3 1018.3,2909.0 1014.1,2905.7 1010.1,2902.4 1006.4,2899.1 1003.0,2895.8 999.1,2891.6 995.6,2887.3 992.4,2883.2 989.4,2879.0 986.5,2875.0 983.0,2869.3 979.9,2863.7 976.2,2858.7 971.8,2855.2 966.9,2852.2 961.8,2848.4 958.5,2845.2 955.1,2841.5 951.5,2837.4 947.9,2833.1 944.5,2828.6 941.3,2824.2 938.5,2820.0 935.6,2814.9 933.3,2809.8 931.1,2804.6 928.9,2799.5 926.4,2794.3 923.9,2789.8 921.3,2785.3 918.6,2780.9 915.8,2776.4 912.9,2771.7 909.9,2766.8 907.4,2762.6 904.8,2758.3 902.1,2753.8 899.3,2749.2 896.5,2744.5 893.7,2739.9 891.0,2735.2 888.3,2730.7 885.7,2726.2 883.1,2721.6 880.5,2717.1 878.0,2712.7 875.5,2708.2 873.0,2703.8 870.6,2699.4 868.1,2694.9 865.6,2690.5" fill="#6dbe46" stroke="#6dbe46" stroke-width="2.6" stroke-linejoin="round"/>
<polyline points="300.0,1926.5 305.0,1930.1 310.0,1933.7 315.0,1937.6 319.1,1941.2 323.3,1945.0 327.4,1949.0 331.5,1953.0 335.7,1957.1 339.9,1961.2 344.0,1965.4 348.0,1970.0 351.4,1974.3 354.7,1978.9 357.9,1983.7 361.0,1988.4 364.0,1993.0 367.2,1998.0 370.3,2002.9 373.2,2007.8 376.0,2013.0 378.2,2017.7 380.3,2022.5 382.3,2027.4 384.2,2032.3 386.0,2037.0 387.8,2042.0 389.5,2047.0 391.2,2051.8 393.0,2056.0 395.8,2061.6 399.0,2066.0 402.4,2068.2 406.0,2070.0 409.5,2063.7 412.8,2057.4 415.4,2051.7 418.0,2046.0 420.1,2041.4 422.3,2036.7 424.9,2032.0 428.1,2027.2 431.7,2022.5 435.9,2018.0 439.9,2014.4 444.3,2011.0 449.3,2007.7 454.8,2004.6 459.1,2002.5 463.8,2000.4 468.9,1998.4 474.2,1996.5 479.7,1994.7 485.2,1993.0 490.7,1991.6 496.0,1990.4 501.1,1989.5 506.2,1988.7 511.3,1988.2 516.4,1987.8 521.6,1987.5 526.7,1987.4 531.9,1987.4 537.0,1987.5 542.2,1987.7 547.4,1988.0 552.6,1988.4 557.8,1988.9 563.0,1989.6 568.2,1990.4 573.4,1991.3 578.5,1992.4 583.7,1993.7 588.9,1995.2 594.1,1996.8 599.3,1998.6 604.4,2000.4 609.5,2002.5 614.6,2004.6 619.7,2006.8 624.4,2008.9 629.1,2011.1 633.7,2013.3 638.4,2015.6 643.0,2018.0 647.6,2020.6 652.1,2023.4 656.6,2026.3 661.0,2029.5 665.0,2032.6 669.0,2035.9 673.0,2039.3 676.9,2042.9 680.8,2046.7 684.7,2050.5 688.4,2054.5 692.0,2058.5 695.5,2062.6 698.9,2066.6 702.0,2070.7 705.1,2074.9 708.0,2079.2 710.7,2083.5 713.3,2087.9 715.8,2092.3 718.2,2096.9 720.5,2101.5 722.7,2106.2 724.8,2111.0 726.8,2116.0 728.6,2120.7 730.3,2125.6 731.9,2130.6 733.5,2135.7 734.9,2140.9 736.3,2146.2 737.6,2151.5 738.8,2156.8 740.0,2162.2 741.2,2167.5 742.3,2172.8 743.3,2178.0 744.3,2183.1 745.2,2188.3 746.0,2193.5 746.8,2198.7 747.5,2203.9 748.1,2209.1 748.7,2214.3 749.3,2219.5 749.9,2224.6 750.4,2229.7 751.0,2234.7 751.5,2239.7 752.1,2245.1 752.6,2250.4 753.1,2255.7 753.5,2260.9 753.9,2266.1 754.3,2271.3 754.7,2276.4 755.1,2281.6 755.6,2286.8 756.0,2292.0 756.6,2286.8 757.1,2281.5 757.6,2276.3 758.1,2271.0 758.6,2265.7 759.1,2260.5 759.7,2255.3 760.3,2250.1 761.0,2244.9 761.8,2239.7 762.6,2234.6 763.3,2229.4 764.0,2224.2 764.8,2218.9 765.6,2213.7 766.6,2208.6 767.6,2203.7 768.9,2198.9 770.3,2194.3 772.0,2190.0 774.3,2185.1 776.8,2180.3 779.6,2175.7 782.6,2171.3 785.8,2167.4 789.2,2163.9 792.7,2161.0 797.2,2158.2 802.0,2156.1 807.1,2154.6 812.3,2153.6 817.5,2153.0 823.0,2152.9 828.5,2153.3 834.2,2154.3 840.0,2155.9 846.0,2158.0 850.2,2159.9 854.6,2162.1 859.2,2164.7 863.8,2167.5 868.4,2170.6 873.1,2173.9 877.7,2177.3 882.3,2180.8 886.7,2184.4 891.0,2188.0 894.7,2191.2 898.3,2194.6 901.8,2198.2 905.2,2201.8 908.7,2205.6 912.1,2209.3 915.4,2213.2 918.8,2217.0 922.2,2220.9 925.5,2224.6 928.9,2228.4 932.4,2232.0 936.1,2235.8 939.8,2239.6 943.6,2243.4 947.3,2247.2 951.0,2250.9 954.8,2254.6 958.5,2258.4 962.3,2262.0 966.1,2265.7 969.8,2269.4 973.6,2273.0 977.3,2276.5 981.0,2280.1 984.8,2283.6 988.5,2287.0 992.3,2290.5 996.0,2293.9 999.8,2297.4 1003.5,2300.8 1007.3,2304.2 1011.0,2307.6 1014.8,2311.0 1018.6,2314.4 1022.4,2317.9 1026.3,2321.4 1030.2,2324.9 1034.1,2328.3 1038.0,2331.8 1041.8,2335.2 1045.5,2338.4 1049.1,2341.6 1052.6,2344.6 1056.0,2347.5 1060.4,2351.1 1064.6,2354.4 1068.6,2357.6 1072.5,2360.6 1076.3,2363.7 1080.0,2367.0 1084.2,2370.9 1088.2,2374.9 1092.1,2378.9 1096.0,2383.0 1100.0,2387.0" fill="none" stroke="#ee2226" stroke-width="5.0" stroke-linejoin="round" stroke-linecap="round"/>
<polygon points="1100.0,2385.5 1104.0,2389.4 1108.1,2393.2 1112.1,2397.1 1116.1,2401.0 1120.0,2405.0 1123.7,2409.1 1127.1,2413.3 1130.5,2417.5 1134.2,2421.9 1138.5,2426.5 1141.6,2429.6 1144.9,2432.8 1148.4,2436.2 1152.2,2439.6 1156.0,2443.1 1160.0,2446.6 1164.0,2450.1 1168.0,2453.7 1172.1,2457.2 1176.1,2460.6 1180.0,2464.0 1183.9,2467.4 1188.0,2470.7 1192.0,2474.0 1196.1,2477.4 1200.2,2480.7 1204.3,2483.9 1208.4,2487.2 1212.4,2490.4 1216.4,2493.7 1220.4,2496.8 1224.2,2500.0 1228.4,2503.4 1232.4,2506.9 1236.5,2510.2 1240.4,2513.6 1244.3,2516.9 1248.3,2520.2 1252.2,2523.5 1256.1,2526.7 1260.0,2530.0 1264.2,2533.5 1268.3,2537.0 1272.3,2540.4 1276.4,2543.8 1280.5,2547.2 1284.8,2550.6 1289.4,2554.1 1294.2,2557.7 1298.0,2560.4 1302.0,2563.1 1306.1,2565.9 1310.4,2568.7 1314.8,2571.6 1319.2,2574.5 1323.8,2577.3 1328.4,2580.2 1333.0,2583.1 1337.7,2585.9 1342.3,2588.8 1346.9,2591.6 1351.5,2594.3 1356.0,2597.0 1360.4,2599.6 1365.0,2602.3 1369.6,2605.0 1374.2,2607.7 1378.8,2610.4 1383.5,2613.0 1388.1,2615.6 1392.7,2618.2 1397.2,2620.7 1401.6,2623.2 1405.9,2625.5 1410.1,2627.8 1414.1,2630.0 1417.9,2632.0 1422.9,2634.6 1427.3,2636.9 1431.5,2639.0 1435.6,2641.0 1439.9,2643.1 1444.6,2645.4 1450.0,2648.0 1453.5,2649.7 1457.2,2651.6 1461.2,2653.5 1465.3,2655.6 1469.5,2657.8 1474.0,2660.0 1478.5,2662.3 1483.2,2664.6 1487.9,2667.0 1492.8,2669.4 1497.7,2671.8 1502.6,2674.2 1507.5,2676.6 1512.4,2678.9 1517.4,2681.3 1522.2,2683.6 1527.1,2685.8 1531.8,2688.0 1536.5,2690.0 1541.0,2692.0 1545.9,2694.1 1550.8,2696.2 1555.7,2698.2 1560.5,2700.2 1565.4,2702.2 1570.2,2704.1 1575.0,2706.0 1579.8,2707.9 1584.7,2709.7 1589.5,2711.5 1594.3,2713.3 1599.1,2715.0 1603.9,2716.7 1608.8,2718.3 1613.6,2719.9 1618.5,2721.5 1623.4,2723.0 1628.5,2724.5 1633.6,2725.9 1638.7,2727.2 1643.7,2728.4 1648.8,2729.5 1653.9,2730.6 1659.0,2731.7 1664.1,2732.7 1669.2,2733.8 1674.3,2734.8 1679.5,2735.9 1684.7,2737.1 1689.9,2738.3 1695.2,2739.6 1700.5,2741.1 1705.9,2742.6 1710.6,2744.0 1715.2,2745.5 1719.8,2747.1 1724.4,2748.7 1729.1,2750.4 1733.7,2752.2 1738.3,2753.9 1743.0,2755.7 1747.7,2757.6 1752.4,2759.4 1757.2,2761.3 1762.0,2763.2 1766.9,2765.1 1771.9,2767.0 1776.9,2768.9 1782.0,2770.8 1787.2,2772.6 1792.5,2774.4 1797.8,2776.2 1803.3,2778.0 1808.9,2779.7 1813.1,2780.9 1817.4,2782.2 1821.8,2783.4 1826.3,2784.6 1830.8,2785.8 1835.4,2787.1 1840.0,2788.3 1844.7,2789.5 1849.5,2790.6 1854.2,2791.8 1859.1,2793.0 1864.0,2794.2 1868.9,2795.3 1873.9,2796.5 1878.9,2797.7 1883.9,2798.8 1889.0,2800.0 1894.0,2801.1 1899.1,2802.3 1904.3,2803.4 1909.4,2804.6 1914.5,2805.7 1919.7,2806.9 1924.9,2808.0 1930.0,2809.2 1935.2,2810.3 1940.4,2811.5 1945.5,2812.6 1950.6,2813.7 1955.8,2814.9 1960.9,2816.0 1966.0,2817.2 1971.0,2818.3 1976.1,2819.5 1981.1,2820.7 1986.1,2821.8 1991.0,2823.0 1991.0,2962.0 1986.1,2960.5 1981.3,2959.1 1976.4,2957.6 1971.5,2956.2 1966.6,2954.7 1961.7,2953.2 1956.8,2951.8 1951.8,2950.3 1946.9,2948.8 1942.0,2947.4 1937.1,2945.9 1932.2,2944.4 1927.3,2943.0 1922.4,2941.5 1917.5,2940.0 1912.6,2938.6 1907.7,2937.1 1902.8,2935.7 1897.9,2934.2 1893.1,2932.8 1888.2,2931.3 1883.4,2929.9 1878.6,2928.5 1873.8,2927.0 1869.0,2925.6 1864.2,2924.2 1859.4,2922.8 1854.7,2921.4 1850.0,2920.0 1844.9,2918.5 1839.7,2917.0 1834.6,2915.5 1829.4,2914.0 1824.2,2912.6 1819.0,2911.1 1813.8,2909.6 1808.6,2908.2 1803.5,2906.7 1798.3,2905.3 1793.2,2903.8 1788.1,2902.4 1783.0,2901.0 1777.9,2899.5 1772.9,2898.1 1768.0,2896.7 1763.1,2895.3 1758.3,2893.8 1753.5,2892.4 1748.8,2891.0 1744.2,2889.6 1739.6,2888.2 1735.1,2886.8 1730.8,2885.4 1726.5,2884.0 1720.7,2882.1 1715.0,2880.1 1709.2,2878.0 1703.5,2875.9 1697.9,2873.9 1692.4,2871.8 1687.1,2869.8 1681.9,2867.8 1677.0,2865.9 1672.3,2864.1 1667.8,2862.3 1663.7,2860.7 1659.9,2859.3 1656.4,2858.0 1650.2,2855.9 1645.3,2854.2 1640.0,2852.0 1635.7,2849.9 1631.2,2847.7 1626.6,2845.2 1621.7,2842.3 1616.5,2839.0 1611.0,2835.3 1607.8,2833.0 1604.4,2830.4 1600.9,2827.7 1597.3,2824.7 1593.5,2821.6 1589.7,2818.4 1585.7,2815.0 1581.7,2811.5 1577.7,2808.0 1573.6,2804.4 1569.5,2800.7 1565.3,2797.0 1561.2,2793.3 1557.1,2789.6 1553.0,2786.0 1548.9,2782.4 1544.9,2778.9 1541.0,2775.5 1537.0,2772.0 1533.0,2768.4 1528.9,2764.7 1524.7,2760.9 1520.5,2757.0 1516.2,2753.1 1512.0,2749.2 1507.8,2745.3 1503.6,2741.5 1499.5,2737.7 1495.5,2734.1 1491.5,2730.5 1487.7,2727.2 1484.0,2724.1 1480.5,2721.1 1477.1,2718.5 1474.0,2716.1 1471.0,2714.0 1465.3,2710.7 1460.4,2708.5 1455.6,2706.5 1450.0,2703.5 1446.6,2701.3 1443.0,2698.9 1439.1,2696.1 1435.1,2693.2 1430.9,2690.1 1426.6,2686.8 1422.3,2683.5 1417.9,2680.0 1413.6,2676.5 1409.3,2673.0 1405.1,2669.5 1401.1,2666.1 1397.3,2662.8 1393.3,2659.2 1389.5,2655.5 1385.8,2651.8 1382.1,2648.1 1378.6,2644.4 1375.0,2640.7 1371.5,2636.9 1367.8,2633.1 1364.0,2629.3 1360.1,2625.5 1356.0,2621.6 1352.5,2618.5 1348.9,2615.3 1345.1,2612.0 1341.3,2608.8 1337.4,2605.5 1333.4,2602.2 1329.4,2598.9 1325.3,2595.6 1321.3,2592.3 1317.2,2589.0 1313.2,2585.7 1309.2,2582.5 1305.3,2579.3 1301.5,2576.1 1297.8,2573.0 1294.2,2570.0 1289.9,2566.3 1285.6,2562.6 1281.5,2559.0 1277.4,2555.5 1273.3,2551.9 1269.3,2548.5 1265.4,2545.0 1261.5,2541.6 1257.7,2538.2 1253.8,2534.8 1250.0,2531.5 1245.8,2527.9 1241.7,2524.3 1237.7,2520.7 1233.6,2517.2 1229.7,2513.8 1225.7,2510.3 1221.8,2506.9 1217.8,2503.4 1213.9,2500.0 1210.1,2496.7 1206.3,2493.5 1202.6,2490.2 1198.9,2487.0 1195.2,2483.8 1191.5,2480.6 1187.7,2477.3 1183.9,2473.9 1180.0,2470.4 1176.3,2467.0 1172.4,2463.5 1168.5,2459.9 1164.4,2456.2 1160.4,2452.5 1156.4,2448.8 1152.4,2445.1 1148.6,2441.5 1145.0,2438.0 1141.6,2434.7 1138.5,2431.5 1134.3,2427.0 1130.5,2422.7 1127.0,2418.7 1123.6,2414.6 1120.0,2410.5 1116.1,2406.1 1112.1,2401.7 1108.0,2397.3 1104.0,2392.9 1100.0,2388.5" fill="#ee2226" stroke="#ee2226" stroke-width="2.6" stroke-linejoin="round"/>
<polyline points="300.7,1925.5 305.4,1929.5 310.2,1933.4 315.0,1937.6 319.1,1941.3 323.2,1945.1 327.4,1949.0 331.5,1953.0 335.7,1957.1 339.9,1961.2 344.0,1965.4 348.0,1970.0 351.4,1974.3 354.7,1978.9 357.9,1983.7 361.0,1988.4 364.0,1993.0 367.2,1998.0 370.3,2002.9 373.2,2007.8 376.0,2013.0 378.2,2017.6 380.3,2022.4 382.3,2027.4 384.2,2032.2 386.0,2037.0 387.9,2042.5 389.6,2047.9 391.3,2053.2 393.0,2058.0 395.8,2065.1 399.0,2071.0 402.5,2074.3 406.2,2077.0 409.0,2075.6 411.7,2073.8 415.5,2069.0 419.4,2063.0 422.9,2057.5 426.5,2051.7 430.4,2046.4 435.7,2041.0 441.4,2036.5 446.8,2032.9 453.0,2030.0 457.5,2028.7 462.5,2027.6 468.0,2026.8 473.7,2026.3 479.6,2026.2 484.4,2026.4 489.4,2026.7 494.6,2027.3 500.0,2028.0 505.3,2029.0 510.7,2030.3 515.8,2031.8 520.8,2033.6 525.8,2035.8 530.7,2038.4 535.5,2041.3 540.2,2044.4 544.8,2047.7 549.3,2051.2 553.7,2054.8 557.9,2058.4 561.9,2062.1 565.7,2065.8 569.3,2069.7 572.8,2073.8 576.3,2078.0 579.7,2082.3 583.2,2086.7 586.7,2091.3 589.8,2095.3 593.0,2099.5 596.2,2103.7 599.5,2108.1 602.7,2112.5 605.9,2117.1 609.0,2121.7 611.9,2126.4 614.7,2131.2 617.3,2136.0 619.7,2140.8 621.9,2145.7 623.8,2150.8 625.6,2156.0 627.3,2161.2 628.8,2166.5 630.2,2171.8 631.5,2177.2 632.7,2182.6 633.9,2187.9 635.0,2193.2 636.0,2198.5 636.9,2203.6 637.7,2208.6 638.4,2213.6 639.0,2218.7 639.5,2223.7 640.0,2228.8 640.4,2233.8 640.8,2238.9 641.3,2243.9 641.8,2249.0 642.3,2254.0 643.4,2248.7 644.3,2243.2 645.2,2237.7 646.1,2232.2 647.0,2226.7 648.1,2221.4 649.3,2216.2 650.8,2211.3 652.6,2206.7 654.9,2201.8 657.4,2196.9 660.2,2192.2 663.1,2187.9 666.3,2183.9 669.7,2180.6 673.2,2177.9 677.7,2175.6 682.4,2174.2 687.5,2173.4 692.7,2173.3 698.0,2173.7 702.3,2174.5 706.8,2175.7 711.3,2177.4 716.0,2179.4 720.7,2181.8 725.5,2184.3 730.2,2187.1 735.0,2190.0 739.0,2192.6 743.1,2195.5 747.1,2198.6 751.2,2201.9 755.4,2205.3 759.5,2208.9 763.7,2212.6 767.8,2216.4 772.0,2220.1 776.2,2223.9 780.3,2227.7 784.5,2231.4 788.3,2234.8 792.2,2238.2 796.1,2241.8 800.0,2245.4 803.9,2249.0 807.8,2252.6 811.7,2256.3 815.6,2259.9 819.5,2263.6 823.3,2267.2 827.1,2270.7 830.8,2274.2 834.4,2277.7 838.0,2281.0 842.1,2284.9 846.1,2288.6 849.9,2292.3 853.6,2295.9 857.3,2299.5 861.0,2303.1 864.8,2306.7 868.7,2310.4 872.6,2314.1 876.8,2318.0 880.5,2321.4 884.3,2324.9 888.2,2328.4 892.2,2332.0 896.2,2335.7 900.3,2339.3 904.5,2343.0 908.6,2346.7 912.7,2350.4 916.8,2354.1 920.8,2357.7 924.8,2361.2 928.7,2364.6 932.4,2368.0 936.4,2371.6 940.3,2375.1 944.1,2378.5 947.8,2381.9 951.5,2385.2 955.2,2388.5 958.9,2391.8 962.5,2395.1 966.2,2398.4 969.9,2401.7 973.6,2405.0 977.7,2408.6 981.8,2412.2 985.9,2415.9 990.1,2419.5 994.2,2423.0 998.3,2426.6 1002.4,2430.2 1006.6,2433.8 1010.7,2437.4 1014.8,2441.0 1019.0,2444.6 1023.2,2448.2 1027.4,2451.9 1031.7,2455.5 1035.9,2459.2 1040.1,2462.8 1044.2,2466.4 1048.3,2470.0 1052.2,2473.5 1056.0,2477.0 1059.9,2480.7 1063.7,2484.4 1067.3,2488.0 1070.9,2491.6 1074.4,2495.2 1077.9,2498.8 1081.4,2502.4 1085.0,2506.0" fill="none" stroke="#070707" stroke-width="3.8" stroke-linejoin="round" stroke-linecap="round"/>
<polygon points="1085.0,2504.5 1089.1,2508.3 1093.2,2512.0 1097.3,2515.8 1101.4,2519.6 1105.6,2523.4 1109.7,2527.1 1113.8,2530.8 1117.9,2534.5 1121.8,2537.9 1125.6,2541.2 1129.3,2544.3 1133.0,2547.5 1136.9,2550.7 1140.9,2554.1 1145.3,2557.8 1150.0,2561.8 1153.2,2564.5 1156.6,2567.4 1160.3,2570.6 1164.2,2573.9 1168.3,2577.4 1172.6,2581.0 1177.0,2584.7 1181.4,2588.5 1185.9,2592.4 1190.5,2596.2 1195.0,2600.1 1199.5,2603.9 1203.9,2607.6 1208.2,2611.3 1212.3,2614.8 1216.3,2618.2 1220.1,2621.4 1223.6,2624.4 1226.8,2627.2 1229.8,2629.7 1232.4,2631.9 1237.2,2636.0 1240.7,2639.1 1244.3,2642.2 1249.0,2646.0 1251.9,2648.3 1255.2,2650.9 1258.7,2653.7 1262.5,2656.6 1266.5,2659.8 1270.7,2663.0 1275.1,2666.3 1279.5,2669.7 1284.1,2673.2 1288.8,2676.7 1293.5,2680.2 1298.1,2683.7 1302.8,2687.2 1307.4,2690.5 1311.9,2693.8 1316.3,2697.0 1320.5,2700.0 1324.6,2703.0 1328.9,2706.0 1333.1,2709.0 1337.4,2712.1 1341.6,2715.1 1345.9,2718.1 1350.2,2721.1 1354.5,2724.1 1358.8,2727.0 1363.1,2729.9 1367.4,2732.8 1371.6,2735.6 1375.9,2738.3 1380.1,2740.9 1384.3,2743.5 1388.5,2746.0 1393.3,2748.7 1397.9,2751.3 1402.5,2753.7 1407.0,2756.0 1411.5,2758.3 1416.0,2760.4 1420.6,2762.6 1425.2,2764.8 1429.9,2767.0 1434.7,2769.3 1439.6,2771.7 1444.7,2774.3 1450.0,2777.0 1453.9,2779.1 1457.9,2781.2 1462.0,2783.5 1466.2,2785.8 1470.4,2788.3 1474.8,2790.8 1479.3,2793.3 1483.8,2795.9 1488.3,2798.6 1492.9,2801.2 1497.6,2803.9 1502.2,2806.6 1506.9,2809.3 1511.6,2812.0 1516.3,2814.6 1521.0,2817.2 1525.7,2819.8 1530.4,2822.3 1535.0,2824.8 1539.6,2827.1 1544.1,2829.4 1548.6,2831.6 1553.0,2833.6 1557.3,2835.6 1561.6,2837.4 1566.7,2839.4 1571.7,2841.4 1576.6,2843.2 1581.6,2844.9 1586.4,2846.5 1591.3,2848.0 1596.1,2849.4 1600.9,2850.8 1605.7,2852.1 1610.4,2853.4 1615.2,2854.7 1620.0,2855.9 1624.7,2857.1 1629.5,2858.3 1634.3,2859.5 1639.1,2860.7 1644.0,2862.0 1649.1,2863.3 1654.2,2864.5 1659.2,2865.7 1664.2,2866.8 1669.2,2867.9 1674.2,2869.0 1679.2,2870.1 1684.2,2871.1 1689.3,2872.2 1694.4,2873.2 1699.5,2874.3 1704.7,2875.5 1710.0,2876.6 1715.4,2877.9 1720.9,2879.2 1726.5,2880.6 1731.0,2881.8 1735.5,2882.9 1740.1,2884.2 1744.8,2885.4 1749.5,2886.7 1754.3,2888.0 1759.1,2889.4 1764.0,2890.7 1768.8,2892.1 1773.8,2893.5 1778.7,2894.9 1783.7,2896.4 1788.8,2897.8 1793.8,2899.3 1798.9,2900.8 1803.9,2902.3 1809.0,2903.7 1814.2,2905.2 1819.3,2906.7 1824.4,2908.2 1829.5,2909.7 1834.7,2911.2 1839.8,2912.7 1844.9,2914.2 1850.0,2915.7 1854.7,2917.1 1859.4,2918.4 1864.2,2919.8 1869.0,2921.2 1873.8,2922.6 1878.6,2924.0 1883.4,2925.4 1888.2,2926.8 1893.1,2928.2 1897.9,2929.7 1902.8,2931.1 1907.7,2932.5 1912.6,2933.9 1917.5,2935.4 1922.4,2936.8 1927.3,2938.3 1932.2,2939.7 1937.1,2941.2 1942.0,2942.6 1946.9,2944.1 1951.9,2945.5 1956.8,2946.9 1961.7,2948.4 1966.6,2949.8 1971.5,2951.3 1976.4,2952.7 1981.3,2954.1 1986.1,2955.6 1991.0,2957.0 1991.0,3080.0 1986.1,3078.5 1981.2,3076.9 1976.2,3075.4 1971.2,3073.8 1966.2,3072.3 1961.2,3070.7 1956.1,3069.1 1951.1,3067.6 1946.0,3066.0 1940.9,3064.4 1935.8,3062.8 1930.8,3061.2 1925.7,3059.6 1920.7,3058.1 1915.6,3056.5 1910.6,3055.0 1905.7,3053.4 1900.7,3051.9 1895.8,3050.3 1891.0,3048.8 1886.2,3047.3 1881.4,3045.8 1876.7,3044.4 1872.1,3042.9 1867.5,3041.5 1863.0,3040.1 1858.6,3038.7 1854.3,3037.3 1850.0,3036.0 1844.6,3034.3 1839.3,3032.6 1834.2,3031.0 1829.1,3029.4 1824.2,3027.8 1819.3,3026.3 1814.6,3024.8 1809.8,3023.3 1805.2,3021.8 1800.5,3020.3 1795.9,3018.8 1791.3,3017.4 1786.6,3015.9 1782.0,3014.4 1777.3,3013.0 1772.5,3011.5 1767.7,3010.0 1762.8,3008.5 1757.9,3007.0 1752.9,3005.5 1747.8,3003.9 1742.7,3002.4 1737.7,3000.9 1732.6,2999.4 1727.5,2997.9 1722.5,2996.4 1717.5,2994.9 1712.6,2993.4 1707.8,2991.9 1703.0,2990.5 1698.3,2989.1 1693.7,2987.7 1689.3,2986.3 1685.0,2985.0 1679.5,2983.4 1674.3,2982.1 1669.2,2980.8 1664.2,2979.7 1659.3,2978.5 1654.5,2977.2 1649.8,2975.7 1645.2,2974.0 1640.5,2971.8 1635.8,2969.2 1632.0,2966.7 1628.4,2963.9 1624.7,2960.8 1621.2,2957.5 1617.6,2954.0 1614.1,2950.3 1610.6,2946.4 1607.2,2942.5 1603.7,2938.6 1600.2,2934.6 1596.6,2930.6 1593.1,2926.7 1589.4,2922.9 1585.8,2919.2 1582.0,2915.7 1578.1,2912.2 1574.2,2908.8 1570.2,2905.4 1566.2,2901.9 1562.2,2898.6 1558.2,2895.2 1554.1,2891.8 1550.0,2888.5 1545.9,2885.2 1541.7,2882.0 1537.5,2878.8 1533.3,2875.6 1529.0,2872.4 1524.7,2869.3 1520.4,2866.2 1516.1,2863.3 1511.7,2860.3 1507.2,2857.4 1502.6,2854.4 1497.9,2851.5 1493.2,2848.6 1488.4,2845.7 1483.7,2842.9 1479.0,2840.1 1474.4,2837.4 1469.9,2834.8 1465.5,2832.2 1461.3,2829.8 1457.3,2827.4 1453.5,2825.1 1450.0,2823.0 1444.6,2819.7 1439.8,2816.8 1435.4,2814.2 1431.0,2811.5 1426.7,2808.9 1422.0,2806.0 1417.4,2803.3 1412.9,2800.7 1408.3,2798.1 1403.6,2795.3 1398.8,2792.2 1393.8,2788.7 1388.5,2784.6 1385.5,2782.0 1382.4,2779.2 1379.3,2776.1 1376.1,2772.8 1372.8,2769.3 1369.4,2765.7 1366.0,2761.9 1362.6,2758.0 1359.1,2754.0 1355.5,2749.9 1351.9,2745.7 1348.3,2741.5 1344.7,2737.4 1341.0,2733.2 1337.3,2729.0 1333.5,2724.9 1329.8,2720.9 1326.1,2717.0 1322.3,2713.2 1318.6,2709.5 1314.8,2706.0 1310.9,2702.5 1306.9,2699.1 1302.9,2695.8 1298.9,2692.5 1294.8,2689.3 1290.7,2686.2 1286.6,2683.1 1282.4,2680.0 1278.2,2676.9 1274.0,2673.9 1269.8,2670.8 1265.6,2667.8 1261.4,2664.7 1257.2,2661.6 1253.0,2658.5 1248.8,2655.4 1244.7,2652.2 1240.6,2648.9 1236.5,2645.6 1232.4,2642.2 1228.6,2638.9 1224.6,2635.5 1220.7,2632.0 1216.7,2628.4 1212.7,2624.8 1208.7,2621.1 1204.7,2617.4 1200.6,2613.6 1196.6,2609.8 1192.6,2606.1 1188.7,2602.3 1184.8,2598.6 1180.9,2594.9 1177.1,2591.3 1173.4,2587.7 1169.7,2584.3 1166.1,2580.9 1162.7,2577.6 1159.3,2574.5 1156.1,2571.5 1153.0,2568.7 1150.0,2566.0 1145.3,2561.9 1141.0,2558.2 1136.9,2554.7 1133.1,2551.5 1129.3,2548.3 1125.6,2545.2 1121.8,2542.0 1117.9,2538.5 1114.2,2535.2 1110.6,2531.8 1106.9,2528.4 1103.3,2524.9 1099.6,2521.4 1096.0,2517.9 1092.3,2514.4 1088.7,2511.0 1085.0,2507.5" fill="#070707" stroke="#070707" stroke-width="2.6" stroke-linejoin="round"/>
<polyline points="302.9,1930.0 304.6,1935.6 306.3,1941.0 307.9,1946.7 309.5,1953.0 310.5,1957.8 311.5,1962.9 312.5,1968.2 313.4,1973.8 314.4,1979.5 315.3,1985.3 316.1,1991.2 317.0,1997.0 317.7,2001.7 318.4,2006.5 319.0,2011.3 319.7,2016.1 320.3,2021.0 320.9,2026.0 321.5,2031.0 322.1,2036.2 322.7,2041.3 323.3,2046.6 323.8,2052.0 324.3,2056.8 324.7,2061.6 325.1,2066.6 325.6,2071.7 326.0,2076.9 326.4,2082.1 326.8,2087.4 327.1,2092.7 327.5,2098.0 327.8,2103.2 328.2,2108.5 328.5,2113.7 328.8,2118.8 329.0,2123.9 329.3,2128.8 329.6,2134.3 329.8,2139.8 329.9,2145.1 330.1,2150.5 330.2,2155.8 330.3,2161.0 330.5,2166.3 330.5,2171.5 330.6,2176.7 330.8,2182.0 330.9,2187.2 331.0,2192.5 331.2,2187.3 331.3,2182.1 331.5,2176.8 331.6,2171.4 331.8,2166.0 331.9,2160.6 332.1,2155.1 332.2,2149.7 332.4,2144.3 332.5,2138.9 332.7,2133.5 332.8,2128.2 333.0,2122.9 333.2,2117.8 333.3,2112.7 333.5,2107.7 333.8,2102.9 334.0,2098.2 334.2,2093.6 334.5,2089.2 334.8,2085.0 335.3,2078.5 335.7,2072.3 336.2,2066.3 336.7,2060.5 337.3,2055.0 337.9,2049.7 338.6,2044.7 339.4,2039.9 340.3,2035.4 341.8,2028.9 343.5,2023.0 345.5,2017.8 348.0,2013.4 353.1,2008.0 359.0,2004.6 364.5,2003.2 370.0,2003.5 375.6,2006.0 381.0,2010.0 384.8,2013.2 388.5,2016.8 392.0,2021.0 395.0,2025.4 397.7,2030.3 400.4,2035.6 403.0,2041.0 405.3,2046.1 407.6,2051.4 409.8,2056.8 411.9,2062.5 414.0,2068.4 415.7,2073.5 417.3,2078.8 418.9,2084.2 420.4,2089.8 422.0,2095.4 423.5,2101.1 425.0,2106.8 426.3,2111.6 427.6,2116.4 428.9,2121.3 430.2,2126.2 431.4,2131.1 432.7,2136.1 433.9,2141.0 435.0,2145.9 436.0,2150.8 437.0,2156.0 437.9,2161.3 438.7,2166.5 439.5,2171.7 440.2,2176.9 441.0,2182.1 441.7,2187.3 442.5,2192.5 443.8,2186.7 445.0,2180.8 446.4,2175.1 448.0,2170.0 450.8,2163.4 454.8,2157.2 457.7,2153.2 461.1,2148.6 464.9,2143.8 469.0,2139.5 473.3,2136.2 477.5,2134.6 481.6,2134.7 485.9,2136.1 490.3,2138.5 494.8,2141.6 499.5,2145.2 504.3,2149.0 507.5,2151.6 510.8,2154.6 514.3,2158.0 517.8,2161.6 521.4,2165.5 525.1,2169.5 528.8,2173.7 532.6,2178.0 536.3,2182.3 540.0,2186.7 543.7,2190.9 547.4,2195.1 551.0,2199.2 554.5,2203.1 557.9,2206.7 561.8,2210.8 565.5,2214.8 569.2,2218.7 572.8,2222.5 576.4,2226.3 579.9,2230.1 583.6,2233.8 587.2,2237.4 591.0,2241.0 594.9,2244.5 599.0,2248.0 602.7,2251.0 606.5,2253.9 610.3,2256.6 614.2,2259.2 618.2,2261.7 622.2,2264.3 626.3,2266.9 630.4,2269.5 634.7,2272.2 639.0,2275.1 643.4,2278.2 648.0,2281.5 652.6,2285.0 655.9,2287.6 659.2,2290.3 662.7,2293.1 666.2,2296.0 669.7,2299.1 673.3,2302.2 677.0,2305.4 680.7,2308.6 684.5,2312.0 688.3,2315.3 692.2,2318.8 696.1,2322.3 700.0,2325.8 704.0,2329.4 707.9,2333.1 711.9,2336.7 715.9,2340.4 720.0,2344.0 724.0,2347.7 728.0,2351.4 732.1,2355.0 736.1,2358.7 740.1,2362.3 744.1,2365.9 748.1,2369.5 752.1,2373.1 756.1,2376.6 760.0,2380.0 763.8,2383.3 767.6,2386.7 771.5,2390.1 775.5,2393.5 779.5,2397.0 783.5,2400.5 787.5,2404.0 791.6,2407.6 795.7,2411.1 799.8,2414.7 803.9,2418.3 808.0,2421.8 812.1,2425.4 816.2,2428.9 820.3,2432.4 824.3,2435.9 828.3,2439.4 832.3,2442.8 836.2,2446.2 840.1,2449.5 843.9,2452.8 847.7,2456.0 851.4,2459.1 855.0,2462.2 858.5,2465.2 861.9,2468.1 865.3,2470.9 868.5,2473.7 871.7,2476.3 874.7,2478.8 879.5,2482.8 884.1,2486.5 888.4,2490.0 892.5,2493.3 896.4,2496.4 900.2,2499.5 904.1,2502.5 907.9,2505.5 911.8,2508.5 915.8,2511.7 920.0,2515.0 924.0,2518.1 928.0,2521.2 932.0,2524.3 936.0,2527.3 940.1,2530.4 944.2,2533.5 948.4,2536.7 952.5,2539.9 956.7,2543.1 960.9,2546.5 965.1,2549.9 969.4,2553.4 973.6,2557.0 977.2,2560.1 980.9,2563.4 984.6,2566.7 988.4,2570.1 992.2,2573.6 996.1,2577.2 999.9,2580.8 1003.8,2584.5 1007.7,2588.1 1011.5,2591.8 1015.3,2595.5 1019.1,2599.1 1022.8,2602.7 1026.4,2606.3 1030.0,2609.9 1033.4,2613.3 1036.8,2616.7 1040.0,2620.0 1044.1,2624.2 1048.0,2628.4 1051.8,2632.4 1055.4,2636.4 1059.0,2640.4 1062.5,2644.3 1066.0,2648.3 1069.4,2652.2 1072.9,2656.1 1076.4,2660.0 1080.0,2664.0" fill="none" stroke="#b553a2" stroke-width="5.0" stroke-linejoin="round" stroke-linecap="round"/>
<polygon points="1080.0,2662.2 1083.9,2665.2 1087.6,2668.0 1091.4,2670.9 1095.5,2674.0 1100.0,2677.6 1103.3,2680.2 1106.8,2683.1 1110.6,2686.2 1114.5,2689.5 1118.5,2692.8 1122.7,2696.3 1127.0,2699.9 1131.2,2703.4 1135.5,2707.0 1139.7,2710.5 1143.9,2714.0 1148.0,2717.3 1152.0,2720.5 1156.0,2723.8 1160.0,2726.9 1164.0,2730.1 1168.0,2733.3 1172.0,2736.5 1176.0,2739.7 1180.0,2742.9 1184.0,2746.1 1188.0,2749.3 1192.0,2752.5 1196.0,2755.8 1200.0,2759.1 1204.0,2762.5 1208.0,2766.0 1212.0,2769.4 1216.0,2772.9 1219.9,2776.3 1223.9,2779.8 1227.9,2783.2 1231.9,2786.6 1235.9,2790.0 1240.0,2793.3 1244.0,2796.6 1248.0,2799.8 1252.1,2803.0 1256.2,2806.3 1260.4,2809.5 1264.6,2812.7 1268.8,2815.9 1272.9,2818.9 1277.0,2822.0 1281.0,2824.9 1284.9,2827.6 1288.7,2830.2 1292.3,2832.7 1297.4,2836.0 1302.3,2838.8 1307.0,2841.4 1311.6,2844.0 1316.3,2846.6 1321.0,2849.5 1325.3,2852.4 1329.6,2855.4 1333.8,2858.5 1338.0,2861.7 1342.5,2864.8 1347.3,2868.0 1352.4,2871.0 1356.4,2873.2 1360.6,2875.4 1365.1,2877.6 1369.7,2879.9 1374.5,2882.1 1379.4,2884.3 1384.4,2886.5 1389.3,2888.6 1394.2,2890.7 1399.1,2892.6 1403.7,2894.4 1408.2,2896.1 1412.5,2897.6 1418.2,2899.4 1423.4,2900.8 1428.5,2901.9 1433.6,2903.0 1438.7,2904.1 1444.1,2905.4 1450.0,2907.0 1454.4,2908.4 1459.1,2909.9 1464.0,2911.5 1469.1,2913.3 1474.3,2915.1 1479.7,2917.0 1485.1,2919.0 1490.4,2920.9 1495.8,2922.9 1501.0,2924.9 1506.2,2926.8 1511.1,2928.6 1515.9,2930.4 1520.4,2932.0 1526.0,2934.1 1531.2,2936.1 1536.2,2938.0 1541.1,2939.9 1545.9,2941.8 1550.8,2943.6 1556.0,2945.5 1561.6,2947.4 1566.3,2948.9 1571.5,2950.6 1577.0,2952.2 1582.8,2953.9 1588.7,2955.7 1594.6,2957.4 1600.5,2959.0 1606.1,2960.6 1611.4,2962.2 1616.4,2963.6 1620.8,2964.9 1624.6,2966.0 1627.6,2967.0 1631.8,2968.6 1635.8,2970.0 1639.0,2970.8 1642.8,2971.7 1647.1,2972.6 1651.9,2973.5 1657.0,2974.5 1662.4,2975.5 1668.0,2976.7 1673.7,2977.8 1679.4,2979.1 1685.0,2980.4 1689.3,2981.5 1693.8,2982.6 1698.4,2983.8 1703.0,2985.1 1707.8,2986.4 1712.7,2987.7 1717.6,2989.1 1722.6,2990.5 1727.6,2992.0 1732.7,2993.4 1737.7,2994.9 1742.8,2996.4 1747.9,2997.9 1752.9,2999.4 1757.9,3001.0 1762.8,3002.5 1767.7,3004.0 1772.5,3005.5 1777.3,3007.1 1782.0,3008.6 1786.6,3010.2 1791.3,3011.8 1795.9,3013.4 1800.5,3015.0 1805.2,3016.6 1809.8,3018.2 1814.5,3019.9 1819.3,3021.6 1824.2,3023.2 1829.1,3024.9 1834.1,3026.7 1839.3,3028.4 1844.6,3030.1 1850.0,3031.9 1854.2,3033.3 1858.6,3034.6 1863.0,3036.0 1867.5,3037.5 1872.1,3038.9 1876.7,3040.3 1881.4,3041.8 1886.1,3043.2 1890.9,3044.7 1895.8,3046.2 1900.7,3047.7 1905.6,3049.2 1910.6,3050.7 1915.6,3052.2 1920.6,3053.7 1925.7,3055.3 1930.7,3056.8 1935.8,3058.3 1940.9,3059.8 1946.0,3061.4 1951.0,3062.9 1956.1,3064.4 1961.2,3066.0 1966.2,3067.5 1971.2,3069.0 1976.2,3070.5 1981.2,3072.0 1986.1,3073.5 1991.0,3075.0 1991.0,3229.7 1985.8,3229.9 1980.6,3230.2 1973.7,3229.7 1970.8,3229.3 1967.6,3228.7 1964.1,3228.0 1960.2,3227.2 1956.1,3226.3 1951.8,3225.3 1947.2,3224.1 1942.4,3222.9 1937.4,3221.6 1932.2,3220.3 1927.0,3218.8 1921.5,3217.3 1916.0,3215.8 1910.4,3214.2 1904.8,3212.6 1899.1,3211.0 1893.4,3209.4 1887.7,3207.7 1882.1,3206.1 1876.5,3204.4 1870.9,3202.8 1865.5,3201.2 1860.2,3199.7 1855.0,3198.2 1850.0,3196.7 1845.0,3195.2 1840.0,3193.8 1835.0,3192.3 1829.9,3190.8 1824.8,3189.3 1819.7,3187.7 1814.6,3186.2 1809.5,3184.7 1804.4,3183.1 1799.3,3181.5 1794.2,3179.9 1789.1,3178.4 1784.0,3176.8 1779.0,3175.2 1774.0,3173.6 1769.0,3172.0 1764.1,3170.4 1759.2,3168.8 1754.3,3167.2 1749.5,3165.6 1744.8,3164.0 1740.1,3162.4 1735.5,3160.8 1731.0,3159.2 1726.5,3157.6 1721.2,3155.7 1715.9,3153.7 1710.7,3151.8 1705.6,3149.9 1700.5,3147.9 1695.5,3146.0 1690.6,3144.1 1685.7,3142.1 1680.9,3140.2 1676.2,3138.2 1671.5,3136.3 1666.8,3134.3 1662.2,3132.4 1657.6,3130.4 1653.0,3128.5 1648.5,3126.5 1644.0,3124.6 1638.9,3122.4 1633.9,3120.2 1629.0,3118.1 1624.2,3115.9 1619.4,3113.8 1614.7,3111.7 1610.1,3109.5 1605.4,3107.3 1600.8,3105.1 1596.1,3102.9 1591.5,3100.5 1586.9,3098.2 1582.2,3095.7 1577.7,3093.2 1573.2,3090.7 1568.6,3088.0 1564.1,3085.2 1559.6,3082.4 1555.0,3079.5 1550.5,3076.7 1546.0,3073.8 1541.6,3071.0 1537.2,3068.3 1532.9,3065.7 1528.6,3063.2 1524.5,3060.8 1520.4,3058.6 1515.5,3056.2 1510.7,3054.0 1506.1,3052.1 1501.5,3050.3 1496.9,3048.5 1492.5,3046.7 1488.0,3044.7 1483.6,3042.5 1479.2,3040.0 1474.8,3037.1 1470.1,3033.9 1465.4,3030.4 1460.7,3026.7 1456.1,3022.9 1451.7,3019.2 1447.5,3015.6 1443.8,3012.3 1440.6,3009.4 1438.0,3007.0 1434.7,3003.3 1431.7,3000.0 1427.8,2997.0 1423.1,2993.9 1417.9,2990.5 1412.5,2986.5 1408.9,2983.5 1404.9,2980.2 1400.8,2976.6 1396.6,2972.8 1392.3,2968.8 1388.1,2964.8 1384.0,2960.8 1380.0,2956.8 1376.4,2952.9 1372.7,2948.4 1369.3,2943.7 1366.1,2939.0 1363.0,2934.4 1359.8,2929.8 1356.3,2925.5 1352.4,2921.6 1348.4,2918.4 1344.0,2915.5 1339.3,2912.8 1334.5,2910.3 1329.7,2907.9 1324.9,2905.4 1320.4,2902.8 1316.3,2900.0 1311.9,2896.6 1307.7,2893.2 1303.7,2889.7 1299.9,2886.1 1296.1,2882.3 1292.3,2878.4 1288.8,2874.6 1285.3,2870.5 1281.9,2866.3 1278.5,2862.1 1275.2,2857.8 1271.8,2853.6 1268.3,2849.5 1264.9,2845.7 1261.7,2842.0 1258.4,2838.4 1255.1,2834.8 1251.6,2831.0 1247.9,2827.1 1244.0,2823.0 1240.9,2819.7 1237.6,2816.3 1234.1,2812.8 1230.5,2809.2 1226.8,2805.4 1223.0,2801.6 1219.2,2797.8 1215.3,2793.9 1211.4,2790.1 1207.5,2786.2 1203.6,2782.4 1199.8,2778.7 1196.0,2775.0 1192.3,2771.4 1188.7,2767.9 1185.0,2764.3 1181.3,2760.8 1177.6,2757.2 1173.9,2753.7 1170.2,2750.2 1166.5,2746.7 1162.8,2743.2 1159.1,2739.7 1155.4,2736.2 1151.7,2732.7 1148.0,2729.3 1144.0,2725.6 1139.8,2721.8 1135.5,2718.0 1131.2,2714.2 1127.0,2710.3 1122.7,2706.6 1118.5,2702.9 1114.4,2699.2 1110.5,2695.7 1106.8,2692.3 1103.3,2689.1 1100.0,2686.0 1095.4,2681.5 1091.3,2677.4 1087.5,2673.6 1083.8,2669.7 1080.0,2665.8" fill="#b553a2" stroke="#b553a2" stroke-width="2.6" stroke-linejoin="round"/>
<polygon points="297.0,1926.5 297.0,2350.0 302.0,2550.0 302.3,3033.0 307.6,3033.0 307.5,2580.0 305.3,2300.0 303.0,2200.0 302.3,1926.5" fill="#75cdde"/>
<polyline points="305.0,3018.0 308.3,3016.0 312.0,3014.0 316.9,3012.1 322.8,3010.2 330.0,3008.0 333.6,3007.0 337.5,3005.9 341.7,3004.8 346.3,3003.6 351.1,3002.4 356.1,3001.2 361.4,2999.9 366.7,2998.6 372.2,2997.2 377.8,2995.8 383.4,2994.4 389.0,2993.0 394.5,2991.5 400.0,2990.0 404.6,2988.7 409.3,2987.3 414.1,2985.9 418.9,2984.5 423.8,2983.0 428.7,2981.5 433.7,2980.0 438.7,2978.4 443.8,2976.9 448.9,2975.3 454.0,2973.7 459.1,2972.1 464.3,2970.5 469.4,2968.9 474.5,2967.4 479.7,2965.8 484.8,2964.3 489.9,2962.8 495.0,2961.4 500.0,2960.0 505.0,2958.6 510.0,2957.3 515.0,2955.9 519.9,2954.6 524.9,2953.3 529.9,2951.9 534.9,2950.6 539.9,2949.3 544.9,2948.0 549.9,2946.8 554.9,2945.5 559.9,2944.3 564.9,2943.0 569.9,2941.8 574.9,2940.7 579.9,2939.5 585.0,2938.3 590.0,2937.2 595.0,2936.1 600.0,2935.0 605.0,2933.9 610.0,2932.9 615.1,2931.9 620.2,2930.9 625.3,2929.9 630.4,2928.9 635.6,2928.0 640.7,2927.0 645.8,2926.1 650.9,2925.2 656.0,2924.3 661.1,2923.5 666.1,2922.6 671.1,2921.8 676.1,2921.0 681.0,2920.1 685.8,2919.3 690.6,2918.5 695.3,2917.8 700.0,2917.0 705.5,2916.1 710.8,2915.2 716.0,2914.4 721.1,2913.5 726.1,2912.7 731.0,2912.0 735.9,2911.2 740.9,2910.4 745.9,2909.7 751.0,2909.0 756.2,2908.2 761.6,2907.5 767.2,2906.7 773.0,2906.0 777.4,2905.4 781.9,2904.9 786.4,2904.4 791.0,2903.8 795.7,2903.3 800.4,2902.8 805.2,2902.3 810.0,2901.7 814.9,2901.2 819.9,2900.7 824.9,2900.2 829.9,2899.7 835.1,2899.2 840.2,2898.7 845.4,2898.2 850.7,2897.6 856.0,2897.1 861.4,2896.6 866.8,2896.1 872.2,2895.6 877.7,2895.1 883.2,2894.6 888.8,2894.1 894.4,2893.5 900.0,2893.0 904.5,2892.6 909.0,2892.2 913.6,2891.7 918.2,2891.3 922.9,2890.9 927.7,2890.5 932.5,2890.0 937.4,2889.6 942.3,2889.1 947.2,2888.7 952.2,2888.3 957.2,2887.8 962.3,2887.4 967.3,2886.9 972.4,2886.5 977.6,2886.1 982.7,2885.6 987.9,2885.2 993.1,2884.7 998.2,2884.3 1003.4,2883.9 1008.7,2883.4 1013.9,2883.0 1019.1,2882.5 1024.3,2882.1 1029.5,2881.7 1034.7,2881.3 1039.8,2880.8 1045.0,2880.4 1050.2,2880.0 1055.3,2879.6 1060.4,2879.2 1065.5,2878.7 1070.5,2878.3 1075.5,2877.9 1080.5,2877.5 1085.4,2877.1 1090.3,2876.8 1095.2,2876.4 1100.0,2876.0 1105.3,2875.6 1110.6,2875.2 1115.8,2874.8 1121.0,2874.4 1126.2,2874.0 1131.3,2873.6 1136.5,2873.2 1141.6,2872.8 1146.7,2872.4 1151.8,2872.0 1156.8,2871.6 1161.9,2871.3 1166.9,2870.9 1171.9,2870.5 1177.0,2870.2 1182.0,2869.8 1187.0,2869.4 1192.0,2869.1 1197.0,2868.7 1202.0,2868.4 1207.0,2868.0 1212.0,2867.7 1217.1,2867.3 1222.1,2867.0 1227.1,2866.6 1232.2,2866.3 1237.2,2866.0 1242.3,2865.6 1247.4,2865.3 1252.5,2865.0 1257.7,2864.6 1262.8,2864.3 1268.0,2864.0 1272.9,2863.7 1277.9,2863.4 1282.8,2863.1 1287.7,2862.8 1292.7,2862.5 1297.6,2862.2 1302.5,2861.9 1307.4,2861.7 1312.3,2861.4 1317.2,2861.1 1322.1,2860.9 1327.1,2860.6 1332.0,2860.3 1336.9,2860.1 1341.8,2859.8 1346.8,2859.5 1351.8,2859.3 1356.7,2859.0 1361.7,2858.8 1366.7,2858.5 1371.7,2858.3 1376.8,2858.0 1381.8,2857.8 1386.9,2857.5 1392.0,2857.2 1397.1,2857.0 1402.3,2856.7 1407.5,2856.5 1412.7,2856.2 1417.9,2856.0 1423.2,2855.7 1428.5,2855.5 1433.8,2855.2 1439.2,2854.9 1444.6,2854.7 1450.0,2854.4 1454.6,2854.2 1459.3,2853.9 1463.9,2853.7 1468.6,2853.5 1473.3,2853.3 1478.0,2853.0 1482.8,2852.8 1487.6,2852.6 1492.3,2852.3 1497.2,2852.1 1502.0,2851.9 1506.8,2851.6 1511.7,2851.4 1516.6,2851.2 1521.5,2850.9 1526.4,2850.7 1531.3,2850.5 1536.3,2850.2 1541.3,2850.0 1546.2,2849.8 1551.2,2849.5 1556.2,2849.3 1561.3,2849.0 1566.3,2848.8 1571.3,2848.6 1576.4,2848.3 1581.5,2848.1 1586.5,2847.9 1591.6,2847.7 1596.7,2847.4 1601.8,2847.2 1607.0,2847.0 1612.1,2846.7 1617.2,2846.5 1622.4,2846.3 1627.5,2846.0 1632.7,2845.8 1637.8,2845.6 1643.0,2845.4 1648.1,2845.2 1653.3,2844.9 1658.5,2844.7 1663.7,2844.5 1668.9,2844.3 1674.1,2844.1 1679.2,2843.8 1684.4,2843.6 1689.6,2843.4 1694.8,2843.2 1700.0,2843.0 1704.8,2842.8 1709.7,2842.6 1714.5,2842.4 1719.4,2842.2 1724.3,2842.1 1729.2,2841.9 1734.1,2841.7 1739.0,2841.5 1743.9,2841.3 1748.9,2841.1 1753.8,2841.0 1758.8,2840.8 1763.7,2840.6 1768.7,2840.4 1773.7,2840.2 1778.7,2840.1 1783.7,2839.9 1788.7,2839.7 1793.7,2839.5 1798.7,2839.4 1803.7,2839.2 1808.8,2839.0 1813.8,2838.9 1818.8,2838.7 1823.9,2838.5 1828.9,2838.4 1834.0,2838.2 1839.1,2838.0 1844.1,2837.9 1849.2,2837.7 1854.3,2837.5 1859.3,2837.4 1864.4,2837.2 1869.5,2837.0 1874.6,2836.9 1879.6,2836.7 1884.7,2836.5 1889.8,2836.4 1894.9,2836.2 1900.0,2836.0 1905.0,2835.9 1910.1,2835.7 1915.2,2835.5 1920.3,2835.4 1925.3,2835.2 1930.4,2835.0 1935.5,2834.9 1940.6,2834.7 1945.6,2834.5 1950.7,2834.4 1955.7,2834.2 1960.8,2834.0 1965.8,2833.9 1970.9,2833.7 1975.9,2833.5 1981.0,2833.3 1986.0,2833.2 1991.0,2833.0" fill="none" stroke="#75cdde" stroke-width="17.5" stroke-linejoin="round" stroke-linecap="round"/>
</g>
<rect x="412.3" y="2286.0" width="462.0" height="212" rx="6.5" ry="6.5" fill="#f8f8fb" stroke="#9c9c9c" stroke-width="2.4"/>
<text font-family="'Liberation Sans', Arial, sans-serif" font-size="65" fill="#404040" x="437.3" y="2375.8">X</text>
<text font-family="'Liberation Sans', Arial, sans-serif" font-size="65" fill="#404040" x="437.3" y="2456.4">Y</text>
<text font-family="'Liberation Sans', Arial, sans-serif" font-size="63" font-weight="bold" fill="#3a8fd2" x="497.5" y="2375.8">0.513228</text>
<text font-family="'Liberation Sans', Arial, sans-serif" font-size="63" font-weight="bold" fill="#3a8fd2" x="497.5" y="2456.4">3.90535</text>
<text font-family="'Liberation Sans', Arial, sans-serif" font-size="64" font-weight="bold" fill="#3a8fd2" transform="translate(725.2,2456.4) scale(0.82,1)">x10</text>
<text font-family="'Liberation Sans', Arial, sans-serif" font-size="40" font-weight="bold" fill="#3a8fd2" x="812.7" y="2430.6">-5</text>
<circle cx="407.4" cy="2502.0" r="12.6" fill="#fbfad6" opacity="0.9"/>
<circle cx="407.4" cy="2502.0" r="9.4" fill="#262626"/>
<rect x="310.7" y="2800.7" width="462.0" height="212" rx="6.5" ry="6.5" fill="#f8f8fb" stroke="#a2a2a2" stroke-width="2.4"/>
<text font-family="'Liberation Sans', Arial, sans-serif" font-size="65" fill="#404040" x="335.7" y="2890.5">X</text>
<text font-family="'Liberation Sans', Arial, sans-serif" font-size="65" fill="#404040" x="335.7" y="2971.1">Y</text>
<text font-family="'Liberation Sans', Arial, sans-serif" font-size="63" font-weight="bold" fill="#3a8fd2" x="395.9" y="2890.5">0.0306441</text>
<text font-family="'Liberation Sans', Arial, sans-serif" font-size="63" font-weight="bold" fill="#3a8fd2" x="395.9" y="2971.1">3.47399</text>
<text font-family="'Liberation Sans', Arial, sans-serif" font-size="64" font-weight="bold" fill="#3a8fd2" transform="translate(623.6,2971.1) scale(0.82,1)">x10</text>
<text font-family="'Liberation Sans', Arial, sans-serif" font-size="40" font-weight="bold" fill="#3a8fd2" x="711.1" y="2945.3">-9</text>
<circle cx="306.0" cy="3018.3" r="12.6" fill="#fbfad6" opacity="0.9"/>
<circle cx="306.0" cy="3018.3" r="9.4" fill="#262626"/>
<rect x="1389.4" y="1967.9" width="559.2" height="508.9" fill="#ffffff" stroke="#868686" stroke-width="4.4"/>
<line x1="1405.9" y1="2016.2" x2="1560.4" y2="2016.2" stroke="#2c50a4" stroke-width="5.2" stroke-linecap="round"/>
<text font-family="'Liberation Sans', Arial, sans-serif" font-size="62.9" fill="#000" x="1571.0" y="2042.5">DIZNN</text>
<line x1="1405.9" y1="2098.9" x2="1560.4" y2="2098.9" stroke="#6dbe46" stroke-width="5.2" stroke-linecap="round"/>
<text font-family="'Liberation Sans', Arial, sans-serif" font-size="62.9" fill="#000" x="1571.0" y="2125.2">DIVPZNN1</text>
<line x1="1405.9" y1="2181.6" x2="1560.4" y2="2181.6" stroke="#ee2226" stroke-width="5.2" stroke-linecap="round"/>
<text font-family="'Liberation Sans', Arial, sans-serif" font-size="62.9" fill="#000" x="1571.0" y="2207.9">DIVPZNN2</text>
<line x1="1405.9" y1="2264.3" x2="1560.4" y2="2264.3" stroke="#070707" stroke-width="3.6" stroke-linecap="round"/>
<text font-family="'Liberation Sans', Arial, sans-serif" font-size="62.9" fill="#000" x="1571.0" y="2290.6">DIVPZNN3</text>
<line x1="1405.9" y1="2347.0" x2="1560.4" y2="2347.0" stroke="#b553a2" stroke-width="5.2" stroke-linecap="round"/>
<text font-family="'Liberation Sans', Arial, sans-serif" font-size="62.9" fill="#000" x="1571.0" y="2373.3">DIVPZNN4</text>
<line x1="1405.9" y1="2429.7" x2="1560.4" y2="2429.7" stroke="#75cdde" stroke-width="5.2" stroke-linecap="round"/>
<text font-family="'Liberation Sans', Arial, sans-serif" font-size="62.9" fill="#000" x="1571.0" y="2456.0">HEVPDIZNN</text>
<text font-family="'Liberation Sans', Arial, sans-serif" font-size="53.0" fill="#2a2a2a" stroke="#ffffff" stroke-width="1.8" text-anchor="middle" x="254.1" y="1940.0">0</text>
<text font-family="'Liberation Sans', Arial, sans-serif" font-size="65.0" fill="#2a2a2a" stroke="#ffffff" stroke-width="1.8" text-anchor="middle" x="214.8" y="1976.4">0</text>
<text font-family="'Liberation Mono', monospace" font-size="68.0" fill="#2a2a2a" stroke="#ffffff" stroke-width="1.8" text-anchor="middle" x="170.5" y="1976.4">1</text>
<text font-family="'Liberation Mono', monospace" font-size="56.0" fill="#2a2a2a" stroke="#ffffff" stroke-width="1.2" text-anchor="middle" transform="translate(220.1,2574.0) scale(1.8,1)">-</text>
<text font-family="'Liberation Mono', monospace" font-size="56.0" fill="#2a2a2a" stroke="#ffffff" stroke-width="1.8" text-anchor="middle" x="254.1" y="2574.0">5</text>
<text font-family="'Liberation Sans', Arial, sans-serif" font-size="65.0" fill="#2a2a2a" stroke="#ffffff" stroke-width="1.8" text-anchor="middle" x="180.8" y="2610.4">0</text>
<text font-family="'Liberation Mono', monospace" font-size="68.0" fill="#2a2a2a" stroke="#ffffff" stroke-width="1.8" text-anchor="middle" x="136.5" y="2610.4">1</text>
<text font-family="'Liberation Mono', monospace" font-size="56.0" fill="#2a2a2a" stroke="#ffffff" stroke-width="1.2" text-anchor="middle" transform="translate(186.1,3208.0) scale(1.8,1)">-</text>
<text font-family="'Liberation Mono', monospace" font-size="56.0" fill="#2a2a2a" stroke="#ffffff" stroke-width="1.8" text-anchor="middle" x="220.1" y="3208.0">1</text>
<text font-family="'Liberation Sans', Arial, sans-serif" font-size="53.0" fill="#2a2a2a" stroke="#ffffff" stroke-width="1.8" text-anchor="middle" x="254.1" y="3208.0">0</text>
<text font-family="'Liberation Sans', Arial, sans-serif" font-size="65.0" fill="#2a2a2a" stroke="#ffffff" stroke-width="1.8" text-anchor="middle" x="146.8" y="3244.4">0</text>
<text font-family="'Liberation Mono', monospace" font-size="68.0" fill="#2a2a2a" stroke="#ffffff" stroke-width="1.8" text-anchor="middle" x="102.5" y="3244.4">1</text>
<text font-family="'Liberation Sans', Arial, sans-serif" font-size="65.0" fill="#2a2a2a" stroke="#ffffff" stroke-width="1.8" text-anchor="middle" x="299.5" y="3318.4">0</text>
<text font-family="'Liberation Mono', monospace" font-size="68.0" fill="#2a2a2a" stroke="#ffffff" stroke-width="1.8" text-anchor="middle" x="722.2" y="3318.4">2</text>
<text font-family="'Liberation Mono', monospace" font-size="68.0" fill="#2a2a2a" stroke="#ffffff" stroke-width="1.8" text-anchor="middle" x="1145.0" y="3318.4">4</text>
<text font-family="'Liberation Mono', monospace" font-size="68.0" fill="#2a2a2a" stroke="#ffffff" stroke-width="1.8" text-anchor="middle" x="1567.8" y="3318.4">6</text>
<text font-family="'Liberation Mono', monospace" font-size="68.0" fill="#2a2a2a" stroke="#ffffff" stroke-width="1.8" text-anchor="middle" x="1990.5" y="3318.4">8</text>
<text font-family="'Liberation Mono', monospace" font-size="66.0" fill="#2a2a2a" stroke="#ffffff" stroke-width="1.6" transform="translate(0,3416.0) scale(1.3,1)" x="806.14 848.24 881.03 911.63">t(s)</text>
<text font-family="'Liberation Mono', monospace" font-size="65.0" fill="#2a2a2a" stroke="#ffffff" stroke-width="1.6" transform="translate(83.2,2768.0) rotate(-90) scale(1.3,1)" x="-5.32 30.28 68.74 104.56 142.58 183.18 217.23 247.41">error(t)</text>
<text font-family="'Liberation Serif', serif" font-size="86.0" fill="#141414" text-anchor="middle" x="934.5" y="3550.2" stroke="#ffffff" stroke-width="1.6" >(</text>
<text font-family="'Liberation Serif', serif" font-size="80.0" fill="#141414" text-anchor="middle" x="968.0" y="3550.2" font-weight="bold" >b</text>
<text font-family="'Liberation Serif', serif" font-size="86.0" fill="#141414" text-anchor="middle" x="1000.7" y="3550.2" stroke="#ffffff" stroke-width="1.6" >)</text>
<text font-family="'Liberation Serif', serif" font-size="80.0" fill="#141414" text-anchor="middle" x="1052.4" y="3550.2" font-style="italic" >&#952;</text>
<text font-family="'Liberation Serif', serif" font-size="86.0" fill="#141414" text-anchor="middle" x="1088.4" y="3550.2" stroke="#ffffff" stroke-width="1.6" >(</text>
<text font-family="'Liberation Serif', serif" font-size="80.0" fill="#141414" text-anchor="middle" x="1117.5" y="3550.2" font-style="italic" >t</text>
<text font-family="'Liberation Serif', serif" font-size="86.0" fill="#141414" text-anchor="middle" x="1145.0" y="3550.2" stroke="#ffffff" stroke-width="1.6" >)</text>
<text font-family="'Liberation Serif', serif" font-size="80" fill="#141414" stroke="#ffffff" stroke-width="1.6" text-anchor="middle" transform="translate(1213.7,3550.2) scale(1.2,1)">=</text>
<text font-family="'Liberation Serif', serif" font-size="80.0" fill="#141414" text-anchor="middle" x="1279.5" y="3550.2" font-style="italic" >t</text>
</svg>
</body></html>
